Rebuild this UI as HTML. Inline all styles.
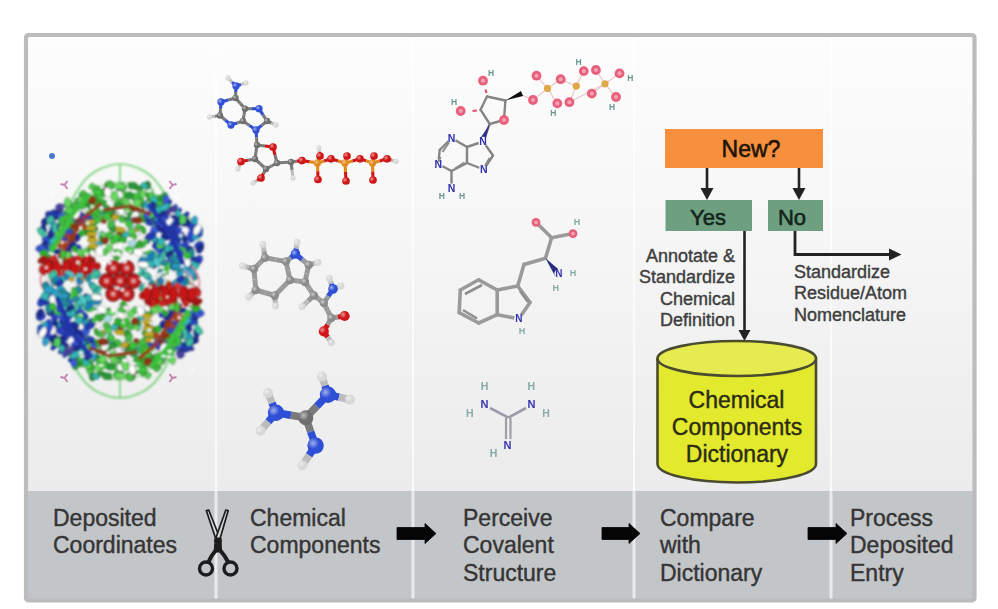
<!DOCTYPE html>
<html><head><meta charset="utf-8"><style>
html,body{margin:0;padding:0;background:#fff;overflow:hidden;width:998px;height:609px;}
svg{display:block;font-family:"Liberation Sans",sans-serif;}
</style></head><body>
<svg width="998" height="609" viewBox="0 0 998 609">
<defs>
<linearGradient id="bg" x1="0" y1="0" x2="0" y2="1">
<stop offset="0" stop-color="#fdfdfd"/><stop offset="0.35" stop-color="#f6f6f6"/><stop offset="1" stop-color="#e7e7e9"/>
</linearGradient>
<radialGradient id="ball" cx="0.35" cy="0.35" r="0.7">
<stop offset="0" stop-color="#fff" stop-opacity="0.55"/><stop offset="0.5" stop-color="#fff" stop-opacity="0"/>
</radialGradient>
<filter id="blur1" x="-20%" y="-20%" width="140%" height="140%"><feGaussianBlur stdDeviation="0.6"/></filter>
<filter id="blur2" x="-20%" y="-20%" width="140%" height="140%"><feGaussianBlur stdDeviation="0.9"/></filter>
</defs>
<rect x="0" y="0" width="998" height="609" fill="#ffffff"/>
<rect x="26" y="35" width="948" height="565" rx="3" fill="url(#bg)"/>
<rect x="26" y="491" width="948" height="110" fill="#c3c6c9"/>
<rect x="215" y="36" width="2" height="455" fill="#ffffff" opacity="0.7"/>
<rect x="214.5" y="491" width="3" height="110" fill="#e9eaeb"/>
<rect x="412" y="36" width="2" height="455" fill="#ffffff" opacity="0.7"/>
<rect x="411.5" y="491" width="3" height="110" fill="#e9eaeb"/>
<rect x="633" y="36" width="2" height="455" fill="#ffffff" opacity="0.7"/>
<rect x="632.5" y="491" width="3" height="110" fill="#e9eaeb"/>
<rect x="830" y="36" width="2" height="455" fill="#ffffff" opacity="0.7"/>
<rect x="829.5" y="491" width="3" height="110" fill="#e9eaeb"/>
<rect x="26" y="35" width="948.5" height="565.5" rx="2.5" fill="none" stroke="#bcbcbc" stroke-width="4.2"/>
<text x="53" y="526" font-size="23" fill="#353535" stroke="#353535" stroke-width="0.4" text-anchor="start" font-weight="normal" >Deposited</text>
<text x="53" y="553" font-size="23" fill="#353535" stroke="#353535" stroke-width="0.4" text-anchor="start" font-weight="normal" >Coordinates</text>
<text x="250" y="526" font-size="23" fill="#353535" stroke="#353535" stroke-width="0.4" text-anchor="start" font-weight="normal" >Chemical</text>
<text x="250" y="553" font-size="23" fill="#353535" stroke="#353535" stroke-width="0.4" text-anchor="start" font-weight="normal" >Components</text>
<text x="463" y="526" font-size="23" fill="#353535" stroke="#353535" stroke-width="0.4" text-anchor="start" font-weight="normal" >Perceive</text>
<text x="463" y="553" font-size="23" fill="#353535" stroke="#353535" stroke-width="0.4" text-anchor="start" font-weight="normal" >Covalent</text>
<text x="463" y="581" font-size="23" fill="#353535" stroke="#353535" stroke-width="0.4" text-anchor="start" font-weight="normal" >Structure</text>
<text x="660" y="526" font-size="23" fill="#353535" stroke="#353535" stroke-width="0.4" text-anchor="start" font-weight="normal" >Compare</text>
<text x="660" y="553" font-size="23" fill="#353535" stroke="#353535" stroke-width="0.4" text-anchor="start" font-weight="normal" >with</text>
<text x="660" y="581" font-size="23" fill="#353535" stroke="#353535" stroke-width="0.4" text-anchor="start" font-weight="normal" >Dictionary</text>
<text x="850" y="526" font-size="23" fill="#353535" stroke="#353535" stroke-width="0.4" text-anchor="start" font-weight="normal" >Process</text>
<text x="850" y="553" font-size="23" fill="#353535" stroke="#353535" stroke-width="0.4" text-anchor="start" font-weight="normal" >Deposited</text>
<text x="850" y="581" font-size="23" fill="#353535" stroke="#353535" stroke-width="0.4" text-anchor="start" font-weight="normal" >Entry</text>
<path d="M397,527.5 L425,527.5 L425,523.5 L436,533.5 L425,543.5 L425,539.5 L397,539.5 Z" fill="#050505" stroke="#050505" stroke-width="0.8" stroke-linejoin="round"/>
<path d="M602,527.5 L629,527.5 L629,523.5 L640,533.5 L629,543.5 L629,539.5 L602,539.5 Z" fill="#050505" stroke="#050505" stroke-width="0.8" stroke-linejoin="round"/>
<path d="M808,527.5 L836,527.5 L836,523.5 L847,533.5 L836,543.5 L836,539.5 L808,539.5 Z" fill="#050505" stroke="#050505" stroke-width="0.8" stroke-linejoin="round"/>
<g stroke="#1c1c1c" stroke-linejoin="round" stroke-linecap="round">
<path d="M206.3,510.5 L208.8,510.2 L221,541 L217.5,544 Z" fill="#d8dadc" stroke-width="1.7"/>
<path d="M228.2,510.5 L225.7,510.2 L214.8,541 L218.5,544 Z" fill="#d8dadc" stroke-width="1.7"/>
<path d="M215.5,538 L221,538 L221.5,552 L214.5,552 Z" fill="#1c1c1c" stroke-width="1"/>
<path d="M216,550 Q211,556 209,561 M220,550 Q225,556 227.5,561" fill="none" stroke-width="4"/>
<circle cx="206" cy="568.5" r="6.5" fill="none" stroke-width="3.4"/>
<circle cx="230.5" cy="568.5" r="6.5" fill="none" stroke-width="3.4"/>
</g>
<rect x="665" y="129" width="158" height="39" fill="#f6903e"/>
<text x="751" y="157" font-size="23" fill="#22140a" stroke="#22140a" stroke-width="0.6" text-anchor="middle" font-weight="normal" >New?</text>
<rect x="665.5" y="200" width="86.5" height="31" fill="#6e9f80"/>
<text x="708" y="225" font-size="22" fill="#14241a" stroke="#14241a" stroke-width="0.55" text-anchor="middle" font-weight="normal" >Yes</text>
<rect x="768" y="200" width="55" height="31" fill="#6e9f80"/>
<text x="792" y="225" font-size="22" fill="#14241a" stroke="#14241a" stroke-width="0.55" text-anchor="middle" font-weight="normal" >No</text>
<path d="M707,168 L707,190" stroke="#222222" stroke-width="2.6"/><path d="M700.5,188 L713.5,188 L707,200 Z" fill="#222222"/>
<path d="M799,168 L799,190" stroke="#222222" stroke-width="2.6"/><path d="M792.5,188 L805.5,188 L799,200 Z" fill="#222222"/>
<path d="M744.5,231 L744.5,332" stroke="#222222" stroke-width="2.6"/><path d="M738.5,330 L750.5,330 L744.5,341 Z" fill="#222222"/>
<path d="M795,231 L795,254.5 L891,254.5" fill="none" stroke="#222222" stroke-width="2.8"/><path d="M889,248.5 L901.5,254.5 L889,260.5 Z" fill="#222222"/>
<text x="735" y="262.0" font-size="18" fill="#3e3e3e" stroke="#3e3e3e" stroke-width="0.4" text-anchor="end" font-weight="normal" >Annotate &amp;</text>
<text x="735" y="283.4" font-size="18" fill="#3e3e3e" stroke="#3e3e3e" stroke-width="0.4" text-anchor="end" font-weight="normal" >Standardize</text>
<text x="735" y="304.8" font-size="18" fill="#3e3e3e" stroke="#3e3e3e" stroke-width="0.4" text-anchor="end" font-weight="normal" >Chemical</text>
<text x="735" y="326.2" font-size="18" fill="#3e3e3e" stroke="#3e3e3e" stroke-width="0.4" text-anchor="end" font-weight="normal" >Definition</text>
<text x="794" y="278.0" font-size="18" fill="#3e3e3e" stroke="#3e3e3e" stroke-width="0.4" text-anchor="start" font-weight="normal" >Standardize</text>
<text x="794" y="299.3" font-size="18" fill="#3e3e3e" stroke="#3e3e3e" stroke-width="0.4" text-anchor="start" font-weight="normal" >Residue/Atom</text>
<text x="794" y="320.6" font-size="18" fill="#3e3e3e" stroke="#3e3e3e" stroke-width="0.4" text-anchor="start" font-weight="normal" >Nomenclature</text>
<path d="M657.5,358 L657.5,464 A79.25,18.5 0 0 0 816,464 L816,358" fill="#e3e92c" stroke="#4b4b30" stroke-width="2.6"/>
<ellipse cx="736.75" cy="358.5" rx="79.25" ry="17.5" fill="#e6ec50" stroke="#4b4b30" stroke-width="2.6"/>
<text x="736.5" y="407.5" font-size="23" fill="#2c2c14" stroke="#2c2c14" stroke-width="0.4" text-anchor="middle" font-weight="normal" >Chemical</text>
<text x="737" y="435" font-size="23" fill="#2c2c14" stroke="#2c2c14" stroke-width="0.4" text-anchor="middle" font-weight="normal" >Components</text>
<text x="737" y="461.5" font-size="23" fill="#2c2c14" stroke="#2c2c14" stroke-width="0.4" text-anchor="middle" font-weight="normal" >Dictionary</text>
<g filter="url(#blur2)">
<path d="M66.0,214.0 Q80.0,178.0 98.0,170.0 Q110.0,164.0 120.0,164.0 Q130.0,164.0 142.0,170.0 Q160.0,178.0 174.0,214.0" fill="none" stroke="#8ed88e" stroke-width="2.2"/>
<path d="M84.0,212.0 Q84.0,185.0 120.0,182.0 Q156.0,185.0 156.0,212.0" fill="none" stroke="#a6dca6" stroke-width="1.6"/>
<path d="M120.0,164.0 L120.0,190.0" fill="none" stroke="#8ed88e" stroke-width="2"/>
<path d="M58.0,214.0 Q38.0,222.0 44.0,248.0" fill="none" stroke="#8ec88e" stroke-width="2"/>
<path d="M182.0,214.0 Q204.0,222.0 198.0,250.0" fill="none" stroke="#a0c8a0" stroke-width="2"/>
<path d="M50.0,266.0 Q32.0,276.0 48.0,296.0" fill="none" stroke="#d8808c" stroke-width="1.6"/>
<path d="M54.0,272.0 Q40.0,282.0 56.0,292.0" fill="none" stroke="#e0a0a8" stroke-width="1.3"/>
<ellipse cx="89.8" cy="210.5" rx="4.5" ry="2.7" transform="rotate(143 89.8 210.5)" fill="#44bb44" stroke="#101810" stroke-opacity="0.4" stroke-width="0.7"/>
<ellipse cx="147.7" cy="204.0" rx="4.7" ry="3.7" transform="rotate(3 147.7 204.0)" fill="#30b8b8" stroke="#101810" stroke-opacity="0.4" stroke-width="0.7"/>
<ellipse cx="159.0" cy="200.8" rx="5.4" ry="2.8" transform="rotate(42 159.0 200.8)" fill="#68d860" stroke="#101810" stroke-opacity="0.4" stroke-width="0.7"/>
<ellipse cx="78.8" cy="221.9" rx="4.9" ry="2.5" transform="rotate(59 78.8 221.9)" fill="#a04020" stroke="#101810" stroke-opacity="0.4" stroke-width="0.7"/>
<ellipse cx="119.8" cy="189.3" rx="3.3" ry="3.6" transform="rotate(16 119.8 189.3)" fill="#2a9a3a" stroke="#101810" stroke-opacity="0.4" stroke-width="0.7"/>
<ellipse cx="147.8" cy="185.7" rx="4.7" ry="2.9" transform="rotate(87 147.8 185.7)" fill="#2a9a3a" stroke="#101810" stroke-opacity="0.4" stroke-width="0.7"/>
<ellipse cx="91.8" cy="186.4" rx="3.4" ry="2.7" transform="rotate(121 91.8 186.4)" fill="#52d052" stroke="#101810" stroke-opacity="0.4" stroke-width="0.7"/>
<ellipse cx="147.3" cy="209.3" rx="3.5" ry="3.2" transform="rotate(149 147.3 209.3)" fill="#2eae2e" stroke="#101810" stroke-opacity="0.4" stroke-width="0.7"/>
<ellipse cx="93.1" cy="219.2" rx="4.0" ry="3.9" transform="rotate(90 93.1 219.2)" fill="#a04020" stroke="#101810" stroke-opacity="0.4" stroke-width="0.7"/>
<ellipse cx="103.6" cy="202.9" rx="3.3" ry="2.5" transform="rotate(129 103.6 202.9)" fill="#2eae2e" stroke="#101810" stroke-opacity="0.4" stroke-width="0.7"/>
<ellipse cx="164.4" cy="203.4" rx="3.4" ry="3.4" transform="rotate(94 164.4 203.4)" fill="#ffffff" stroke="#101810" stroke-opacity="0.4" stroke-width="0.7"/>
<ellipse cx="126.4" cy="196.8" rx="3.7" ry="2.7" transform="rotate(63 126.4 196.8)" fill="#44bb44" stroke="#101810" stroke-opacity="0.4" stroke-width="0.7"/>
<ellipse cx="158.4" cy="197.8" rx="3.9" ry="2.7" transform="rotate(166 158.4 197.8)" fill="#44bb44" stroke="#101810" stroke-opacity="0.4" stroke-width="0.7"/>
<ellipse cx="90.7" cy="200.9" rx="5.1" ry="3.5" transform="rotate(162 90.7 200.9)" fill="#2a9a3a" stroke="#101810" stroke-opacity="0.4" stroke-width="0.7"/>
<ellipse cx="161.2" cy="200.1" rx="5.9" ry="3.3" transform="rotate(159 161.2 200.1)" fill="#2a9a3a" stroke="#101810" stroke-opacity="0.4" stroke-width="0.7"/>
<ellipse cx="119.2" cy="198.9" rx="5.8" ry="2.8" transform="rotate(101 119.2 198.9)" fill="#52d052" stroke="#101810" stroke-opacity="0.4" stroke-width="0.7"/>
<ellipse cx="114.5" cy="200.1" rx="3.4" ry="2.9" transform="rotate(154 114.5 200.1)" fill="#ffffff" stroke="#101810" stroke-opacity="0.4" stroke-width="0.7"/>
<ellipse cx="134.3" cy="186.3" rx="3.7" ry="2.5" transform="rotate(61 134.3 186.3)" fill="#52d052" stroke="#101810" stroke-opacity="0.4" stroke-width="0.7"/>
<ellipse cx="155.9" cy="221.4" rx="3.3" ry="2.6" transform="rotate(117 155.9 221.4)" fill="#ffffff" stroke="#101810" stroke-opacity="0.4" stroke-width="0.7"/>
<ellipse cx="157.0" cy="202.7" rx="5.7" ry="3.0" transform="rotate(28 157.0 202.7)" fill="#3cc83c" stroke="#101810" stroke-opacity="0.4" stroke-width="0.7"/>
<ellipse cx="108.2" cy="213.6" rx="4.8" ry="3.8" transform="rotate(55 108.2 213.6)" fill="#ffffff" stroke="#101810" stroke-opacity="0.4" stroke-width="0.7"/>
<ellipse cx="123.1" cy="195.2" rx="4.3" ry="2.6" transform="rotate(129 123.1 195.2)" fill="#3cc83c" stroke="#101810" stroke-opacity="0.4" stroke-width="0.7"/>
<ellipse cx="98.8" cy="197.1" rx="5.6" ry="3.3" transform="rotate(46 98.8 197.1)" fill="#52d052" stroke="#101810" stroke-opacity="0.4" stroke-width="0.7"/>
<ellipse cx="111.5" cy="220.5" rx="3.6" ry="2.6" transform="rotate(17 111.5 220.5)" fill="#68d860" stroke="#101810" stroke-opacity="0.4" stroke-width="0.7"/>
<ellipse cx="77.3" cy="201.5" rx="3.4" ry="2.6" transform="rotate(51 77.3 201.5)" fill="#68d860" stroke="#101810" stroke-opacity="0.4" stroke-width="0.7"/>
<ellipse cx="102.4" cy="219.9" rx="4.6" ry="2.8" transform="rotate(30 102.4 219.9)" fill="#8a3418" stroke="#101810" stroke-opacity="0.4" stroke-width="0.7"/>
<ellipse cx="91.6" cy="199.0" rx="4.9" ry="3.2" transform="rotate(134 91.6 199.0)" fill="#52d052" stroke="#101810" stroke-opacity="0.4" stroke-width="0.7"/>
<ellipse cx="80.1" cy="219.4" rx="4.5" ry="2.5" transform="rotate(138 80.1 219.4)" fill="#8a3418" stroke="#101810" stroke-opacity="0.4" stroke-width="0.7"/>
<ellipse cx="90.8" cy="211.3" rx="5.9" ry="3.4" transform="rotate(134 90.8 211.3)" fill="#2eae2e" stroke="#101810" stroke-opacity="0.4" stroke-width="0.7"/>
<ellipse cx="97.0" cy="190.8" rx="5.5" ry="3.7" transform="rotate(88 97.0 190.8)" fill="#44bb44" stroke="#101810" stroke-opacity="0.4" stroke-width="0.7"/>
<ellipse cx="126.6" cy="205.2" rx="4.6" ry="3.6" transform="rotate(174 126.6 205.2)" fill="#52d052" stroke="#101810" stroke-opacity="0.4" stroke-width="0.7"/>
<ellipse cx="102.9" cy="210.9" rx="5.3" ry="2.7" transform="rotate(111 102.9 210.9)" fill="#30b8b8" stroke="#101810" stroke-opacity="0.4" stroke-width="0.7"/>
<ellipse cx="104.3" cy="192.4" rx="4.1" ry="4.0" transform="rotate(19 104.3 192.4)" fill="#2eae2e" stroke="#101810" stroke-opacity="0.4" stroke-width="0.7"/>
<ellipse cx="148.3" cy="213.1" rx="4.6" ry="3.9" transform="rotate(122 148.3 213.1)" fill="#ffffff" stroke="#101810" stroke-opacity="0.4" stroke-width="0.7"/>
<ellipse cx="138.5" cy="202.4" rx="4.3" ry="3.0" transform="rotate(41 138.5 202.4)" fill="#30b8b8" stroke="#101810" stroke-opacity="0.4" stroke-width="0.7"/>
<ellipse cx="79.4" cy="201.1" rx="4.0" ry="3.3" transform="rotate(73 79.4 201.1)" fill="#52d052" stroke="#101810" stroke-opacity="0.4" stroke-width="0.7"/>
<ellipse cx="113.4" cy="214.5" rx="4.3" ry="3.2" transform="rotate(114 113.4 214.5)" fill="#8a3418" stroke="#101810" stroke-opacity="0.4" stroke-width="0.7"/>
<ellipse cx="118.2" cy="203.2" rx="5.4" ry="3.4" transform="rotate(137 118.2 203.2)" fill="#3cc83c" stroke="#101810" stroke-opacity="0.4" stroke-width="0.7"/>
<ellipse cx="135.1" cy="216.8" rx="3.9" ry="3.9" transform="rotate(69 135.1 216.8)" fill="#2eae2e" stroke="#101810" stroke-opacity="0.4" stroke-width="0.7"/>
<ellipse cx="130.3" cy="215.5" rx="3.7" ry="2.7" transform="rotate(158 130.3 215.5)" fill="#3cc83c" stroke="#101810" stroke-opacity="0.4" stroke-width="0.7"/>
<ellipse cx="139.5" cy="188.4" rx="3.4" ry="2.9" transform="rotate(170 139.5 188.4)" fill="#2a9a3a" stroke="#101810" stroke-opacity="0.4" stroke-width="0.7"/>
<ellipse cx="141.8" cy="202.1" rx="6.0" ry="2.7" transform="rotate(78 141.8 202.1)" fill="#44bb44" stroke="#101810" stroke-opacity="0.4" stroke-width="0.7"/>
<ellipse cx="136.1" cy="198.8" rx="3.9" ry="3.9" transform="rotate(58 136.1 198.8)" fill="#3cc83c" stroke="#101810" stroke-opacity="0.4" stroke-width="0.7"/>
<ellipse cx="97.9" cy="216.3" rx="5.7" ry="3.2" transform="rotate(43 97.9 216.3)" fill="#68d860" stroke="#101810" stroke-opacity="0.4" stroke-width="0.7"/>
<ellipse cx="136.9" cy="211.5" rx="5.8" ry="3.1" transform="rotate(79 136.9 211.5)" fill="#2a9a3a" stroke="#101810" stroke-opacity="0.4" stroke-width="0.7"/>
<ellipse cx="130.5" cy="195.4" rx="5.1" ry="3.4" transform="rotate(18 130.5 195.4)" fill="#2a9a3a" stroke="#101810" stroke-opacity="0.4" stroke-width="0.7"/>
<ellipse cx="106.6" cy="208.3" rx="3.3" ry="3.2" transform="rotate(7 106.6 208.3)" fill="#2a9a3a" stroke="#101810" stroke-opacity="0.4" stroke-width="0.7"/>
<ellipse cx="129.7" cy="210.9" rx="6.0" ry="3.9" transform="rotate(27 129.7 210.9)" fill="#52d052" stroke="#101810" stroke-opacity="0.4" stroke-width="0.7"/>
<ellipse cx="108.4" cy="185.1" rx="3.6" ry="3.7" transform="rotate(148 108.4 185.1)" fill="#2a9a3a" stroke="#101810" stroke-opacity="0.4" stroke-width="0.7"/>
<ellipse cx="122.6" cy="186.8" rx="4.4" ry="3.8" transform="rotate(44 122.6 186.8)" fill="#3cc83c" stroke="#101810" stroke-opacity="0.4" stroke-width="0.7"/>
<ellipse cx="126.7" cy="215.5" rx="5.7" ry="2.4" transform="rotate(105 126.7 215.5)" fill="#ffffff" stroke="#101810" stroke-opacity="0.4" stroke-width="0.7"/>
<ellipse cx="82.2" cy="218.3" rx="3.6" ry="3.2" transform="rotate(95 82.2 218.3)" fill="#3cc83c" stroke="#101810" stroke-opacity="0.4" stroke-width="0.7"/>
<ellipse cx="123.2" cy="203.2" rx="3.6" ry="2.6" transform="rotate(52 123.2 203.2)" fill="#68d860" stroke="#101810" stroke-opacity="0.4" stroke-width="0.7"/>
<ellipse cx="132.6" cy="185.3" rx="5.1" ry="2.7" transform="rotate(18 132.6 185.3)" fill="#2eae2e" stroke="#101810" stroke-opacity="0.4" stroke-width="0.7"/>
<ellipse cx="149.5" cy="198.3" rx="3.4" ry="2.5" transform="rotate(89 149.5 198.3)" fill="#2a9a3a" stroke="#101810" stroke-opacity="0.4" stroke-width="0.7"/>
<ellipse cx="136.3" cy="209.2" rx="3.3" ry="2.8" transform="rotate(65 136.3 209.2)" fill="#2a9a3a" stroke="#101810" stroke-opacity="0.4" stroke-width="0.7"/>
<ellipse cx="97.5" cy="192.4" rx="5.2" ry="3.2" transform="rotate(14 97.5 192.4)" fill="#3cc83c" stroke="#101810" stroke-opacity="0.4" stroke-width="0.7"/>
<ellipse cx="149.5" cy="192.9" rx="5.2" ry="3.4" transform="rotate(114 149.5 192.9)" fill="#52d052" stroke="#101810" stroke-opacity="0.4" stroke-width="0.7"/>
<ellipse cx="132.8" cy="185.8" rx="4.6" ry="2.7" transform="rotate(153 132.8 185.8)" fill="#2a9a3a" stroke="#101810" stroke-opacity="0.4" stroke-width="0.7"/>
<ellipse cx="147.6" cy="218.5" rx="3.8" ry="3.6" transform="rotate(162 147.6 218.5)" fill="#52d052" stroke="#101810" stroke-opacity="0.4" stroke-width="0.7"/>
<ellipse cx="123.0" cy="218.6" rx="4.3" ry="3.9" transform="rotate(169 123.0 218.6)" fill="#44bb44" stroke="#101810" stroke-opacity="0.4" stroke-width="0.7"/>
<ellipse cx="146.4" cy="185.4" rx="3.7" ry="2.8" transform="rotate(5 146.4 185.4)" fill="#2a9a3a" stroke="#101810" stroke-opacity="0.4" stroke-width="0.7"/>
<ellipse cx="108.9" cy="212.7" rx="5.8" ry="3.3" transform="rotate(159 108.9 212.7)" fill="#2a9a3a" stroke="#101810" stroke-opacity="0.4" stroke-width="0.7"/>
<ellipse cx="93.6" cy="221.9" rx="5.4" ry="3.6" transform="rotate(159 93.6 221.9)" fill="#44bb44" stroke="#101810" stroke-opacity="0.4" stroke-width="0.7"/>
<ellipse cx="107.6" cy="188.1" rx="4.9" ry="3.0" transform="rotate(121 107.6 188.1)" fill="#8a3418" stroke="#101810" stroke-opacity="0.4" stroke-width="0.7"/>
<ellipse cx="153.0" cy="206.2" rx="5.8" ry="3.9" transform="rotate(136 153.0 206.2)" fill="#3cc83c" stroke="#101810" stroke-opacity="0.4" stroke-width="0.7"/>
<ellipse cx="163.6" cy="212.4" rx="3.8" ry="3.3" transform="rotate(67 163.6 212.4)" fill="#44bb44" stroke="#101810" stroke-opacity="0.4" stroke-width="0.7"/>
<ellipse cx="164.2" cy="196.0" rx="3.9" ry="3.1" transform="rotate(115 164.2 196.0)" fill="#2a9a3a" stroke="#101810" stroke-opacity="0.4" stroke-width="0.7"/>
<ellipse cx="144.4" cy="212.8" rx="3.9" ry="3.1" transform="rotate(68 144.4 212.8)" fill="#3cc83c" stroke="#101810" stroke-opacity="0.4" stroke-width="0.7"/>
<ellipse cx="119.1" cy="194.8" rx="3.8" ry="3.7" transform="rotate(60 119.1 194.8)" fill="#ffffff" stroke="#101810" stroke-opacity="0.4" stroke-width="0.7"/>
<ellipse cx="114.6" cy="196.2" rx="5.2" ry="4.0" transform="rotate(68 114.6 196.2)" fill="#68d860" stroke="#101810" stroke-opacity="0.4" stroke-width="0.7"/>
<ellipse cx="110.4" cy="185.1" rx="4.8" ry="4.0" transform="rotate(35 110.4 185.1)" fill="#44bb44" stroke="#101810" stroke-opacity="0.4" stroke-width="0.7"/>
<ellipse cx="95.5" cy="212.2" rx="5.1" ry="2.4" transform="rotate(165 95.5 212.2)" fill="#ffffff" stroke="#101810" stroke-opacity="0.4" stroke-width="0.7"/>
<ellipse cx="86.9" cy="197.3" rx="4.3" ry="3.4" transform="rotate(108 86.9 197.3)" fill="#2a9a3a" stroke="#101810" stroke-opacity="0.4" stroke-width="0.7"/>
<ellipse cx="137.4" cy="217.0" rx="4.2" ry="2.8" transform="rotate(141 137.4 217.0)" fill="#44bb44" stroke="#101810" stroke-opacity="0.4" stroke-width="0.7"/>
<ellipse cx="146.4" cy="219.3" rx="4.9" ry="2.9" transform="rotate(153 146.4 219.3)" fill="#3cc83c" stroke="#101810" stroke-opacity="0.4" stroke-width="0.7"/>
<ellipse cx="142.1" cy="194.2" rx="3.6" ry="3.7" transform="rotate(48 142.1 194.2)" fill="#68d860" stroke="#101810" stroke-opacity="0.4" stroke-width="0.7"/>
<ellipse cx="136.4" cy="195.9" rx="4.6" ry="2.6" transform="rotate(139 136.4 195.9)" fill="#3cc83c" stroke="#101810" stroke-opacity="0.4" stroke-width="0.7"/>
<ellipse cx="119.6" cy="186.2" rx="5.8" ry="3.2" transform="rotate(2 119.6 186.2)" fill="#68d860" stroke="#101810" stroke-opacity="0.4" stroke-width="0.7"/>
<ellipse cx="150.8" cy="195.5" rx="5.1" ry="3.1" transform="rotate(22 150.8 195.5)" fill="#2eae2e" stroke="#101810" stroke-opacity="0.4" stroke-width="0.7"/>
<ellipse cx="154.3" cy="209.2" rx="6.0" ry="2.8" transform="rotate(127 154.3 209.2)" fill="#3cc83c" stroke="#101810" stroke-opacity="0.4" stroke-width="0.7"/>
<ellipse cx="118.9" cy="204.9" rx="4.4" ry="2.4" transform="rotate(171 118.9 204.9)" fill="#2a9a3a" stroke="#101810" stroke-opacity="0.4" stroke-width="0.7"/>
<ellipse cx="87.8" cy="199.9" rx="5.0" ry="3.1" transform="rotate(92 87.8 199.9)" fill="#ffffff" stroke="#101810" stroke-opacity="0.4" stroke-width="0.7"/>
<ellipse cx="95.1" cy="214.2" rx="5.6" ry="3.8" transform="rotate(152 95.1 214.2)" fill="#3cc83c" stroke="#101810" stroke-opacity="0.4" stroke-width="0.7"/>
<ellipse cx="144.7" cy="218.4" rx="4.2" ry="2.6" transform="rotate(2 144.7 218.4)" fill="#2eae2e" stroke="#101810" stroke-opacity="0.4" stroke-width="0.7"/>
<ellipse cx="99.4" cy="210.6" rx="3.8" ry="2.5" transform="rotate(34 99.4 210.6)" fill="#44bb44" stroke="#101810" stroke-opacity="0.4" stroke-width="0.7"/>
<ellipse cx="88.7" cy="208.1" rx="3.8" ry="2.6" transform="rotate(96 88.7 208.1)" fill="#68d860" stroke="#101810" stroke-opacity="0.4" stroke-width="0.7"/>
<ellipse cx="85.4" cy="200.0" rx="3.8" ry="3.5" transform="rotate(97 85.4 200.0)" fill="#44bb44" stroke="#101810" stroke-opacity="0.4" stroke-width="0.7"/>
<ellipse cx="82.6" cy="194.0" rx="3.9" ry="3.1" transform="rotate(142 82.6 194.0)" fill="#44bb44" stroke="#101810" stroke-opacity="0.4" stroke-width="0.7"/>
<ellipse cx="158.6" cy="210.8" rx="4.3" ry="3.9" transform="rotate(145 158.6 210.8)" fill="#3cc83c" stroke="#101810" stroke-opacity="0.4" stroke-width="0.7"/>
<ellipse cx="136.8" cy="217.7" rx="3.3" ry="3.2" transform="rotate(160 136.8 217.7)" fill="#a04020" stroke="#101810" stroke-opacity="0.4" stroke-width="0.7"/>
<ellipse cx="144.4" cy="206.4" rx="3.3" ry="3.4" transform="rotate(140 144.4 206.4)" fill="#2a9a3a" stroke="#101810" stroke-opacity="0.4" stroke-width="0.7"/>
<ellipse cx="98.1" cy="202.5" rx="4.7" ry="2.7" transform="rotate(61 98.1 202.5)" fill="#2eae2e" stroke="#101810" stroke-opacity="0.4" stroke-width="0.7"/>
<ellipse cx="134.8" cy="209.3" rx="5.8" ry="2.9" transform="rotate(21 134.8 209.3)" fill="#8a3418" stroke="#101810" stroke-opacity="0.4" stroke-width="0.7"/>
<ellipse cx="127.6" cy="203.0" rx="5.3" ry="2.6" transform="rotate(56 127.6 203.0)" fill="#68d860" stroke="#101810" stroke-opacity="0.4" stroke-width="0.7"/>
<ellipse cx="85.1" cy="209.5" rx="5.7" ry="2.5" transform="rotate(134 85.1 209.5)" fill="#ffffff" stroke="#101810" stroke-opacity="0.4" stroke-width="0.7"/>
<ellipse cx="149.5" cy="204.0" rx="5.0" ry="3.2" transform="rotate(100 149.5 204.0)" fill="#44bb44" stroke="#101810" stroke-opacity="0.4" stroke-width="0.7"/>
<ellipse cx="107.7" cy="192.3" rx="5.0" ry="3.4" transform="rotate(78 107.7 192.3)" fill="#ffffff" stroke="#101810" stroke-opacity="0.4" stroke-width="0.7"/>
<ellipse cx="144.3" cy="185.7" rx="3.8" ry="2.5" transform="rotate(39 144.3 185.7)" fill="#30b8b8" stroke="#101810" stroke-opacity="0.4" stroke-width="0.7"/>
<ellipse cx="153.2" cy="197.5" rx="5.6" ry="3.9" transform="rotate(45 153.2 197.5)" fill="#52d052" stroke="#101810" stroke-opacity="0.4" stroke-width="0.7"/>
<ellipse cx="106.9" cy="216.3" rx="4.0" ry="3.4" transform="rotate(150 106.9 216.3)" fill="#3cc83c" stroke="#101810" stroke-opacity="0.4" stroke-width="0.7"/>
<ellipse cx="137.2" cy="202.8" rx="4.2" ry="3.8" transform="rotate(117 137.2 202.8)" fill="#68d860" stroke="#101810" stroke-opacity="0.4" stroke-width="0.7"/>
<ellipse cx="52.1" cy="247.8" rx="5.7" ry="2.8" transform="rotate(179 52.1 247.8)" fill="#1c2c90" stroke="#101810" stroke-opacity="0.4" stroke-width="0.7"/>
<ellipse cx="53.8" cy="226.6" rx="5.2" ry="2.4" transform="rotate(104 53.8 226.6)" fill="#4a40a0" stroke="#101810" stroke-opacity="0.4" stroke-width="0.7"/>
<ellipse cx="78.5" cy="217.1" rx="5.4" ry="3.8" transform="rotate(161 78.5 217.1)" fill="#2c4cd0" stroke="#101810" stroke-opacity="0.4" stroke-width="0.7"/>
<ellipse cx="74.6" cy="260.8" rx="5.0" ry="3.5" transform="rotate(38 74.6 260.8)" fill="#30b8b8" stroke="#101810" stroke-opacity="0.4" stroke-width="0.7"/>
<ellipse cx="47.0" cy="256.4" rx="5.1" ry="2.9" transform="rotate(23 47.0 256.4)" fill="#3cc83c" stroke="#101810" stroke-opacity="0.4" stroke-width="0.7"/>
<ellipse cx="56.2" cy="212.8" rx="5.3" ry="2.7" transform="rotate(20 56.2 212.8)" fill="#2438b0" stroke="#101810" stroke-opacity="0.4" stroke-width="0.7"/>
<ellipse cx="59.9" cy="209.2" rx="3.5" ry="3.2" transform="rotate(53 59.9 209.2)" fill="#2a40c0" stroke="#101810" stroke-opacity="0.4" stroke-width="0.7"/>
<ellipse cx="58.7" cy="245.6" rx="5.3" ry="3.9" transform="rotate(100 58.7 245.6)" fill="#52d052" stroke="#101810" stroke-opacity="0.4" stroke-width="0.7"/>
<ellipse cx="57.2" cy="250.1" rx="4.5" ry="3.9" transform="rotate(159 57.2 250.1)" fill="#1c2c90" stroke="#101810" stroke-opacity="0.4" stroke-width="0.7"/>
<ellipse cx="51.1" cy="224.9" rx="4.2" ry="3.9" transform="rotate(63 51.1 224.9)" fill="#2aa0c8" stroke="#101810" stroke-opacity="0.4" stroke-width="0.7"/>
<ellipse cx="66.6" cy="251.7" rx="5.4" ry="2.7" transform="rotate(174 66.6 251.7)" fill="#1c2c90" stroke="#101810" stroke-opacity="0.4" stroke-width="0.7"/>
<ellipse cx="41.8" cy="250.0" rx="4.6" ry="2.5" transform="rotate(5 41.8 250.0)" fill="#2438b0" stroke="#101810" stroke-opacity="0.4" stroke-width="0.7"/>
<ellipse cx="53.6" cy="243.9" rx="5.6" ry="3.8" transform="rotate(112 53.6 243.9)" fill="#2c4cd0" stroke="#101810" stroke-opacity="0.4" stroke-width="0.7"/>
<ellipse cx="47.1" cy="248.4" rx="3.7" ry="3.6" transform="rotate(74 47.1 248.4)" fill="#3a5ad8" stroke="#101810" stroke-opacity="0.4" stroke-width="0.7"/>
<ellipse cx="53.7" cy="246.4" rx="5.4" ry="3.8" transform="rotate(134 53.7 246.4)" fill="#3cc83c" stroke="#101810" stroke-opacity="0.4" stroke-width="0.7"/>
<ellipse cx="70.6" cy="218.9" rx="3.8" ry="3.7" transform="rotate(139 70.6 218.9)" fill="#2a40c0" stroke="#101810" stroke-opacity="0.4" stroke-width="0.7"/>
<ellipse cx="48.0" cy="259.5" rx="4.5" ry="3.5" transform="rotate(141 48.0 259.5)" fill="#2eae2e" stroke="#101810" stroke-opacity="0.4" stroke-width="0.7"/>
<ellipse cx="47.8" cy="240.1" rx="5.7" ry="3.9" transform="rotate(15 47.8 240.1)" fill="#2c4cd0" stroke="#101810" stroke-opacity="0.4" stroke-width="0.7"/>
<ellipse cx="70.0" cy="232.7" rx="5.5" ry="3.9" transform="rotate(111 70.0 232.7)" fill="#4a40a0" stroke="#101810" stroke-opacity="0.4" stroke-width="0.7"/>
<ellipse cx="40.4" cy="248.7" rx="4.7" ry="3.6" transform="rotate(0 40.4 248.7)" fill="#3a5ad8" stroke="#101810" stroke-opacity="0.4" stroke-width="0.7"/>
<ellipse cx="77.3" cy="254.7" rx="3.5" ry="3.1" transform="rotate(177 77.3 254.7)" fill="#2eae2e" stroke="#101810" stroke-opacity="0.4" stroke-width="0.7"/>
<ellipse cx="76.3" cy="249.9" rx="5.3" ry="2.7" transform="rotate(54 76.3 249.9)" fill="#30b8b8" stroke="#101810" stroke-opacity="0.4" stroke-width="0.7"/>
<ellipse cx="72.1" cy="217.8" rx="5.8" ry="2.6" transform="rotate(165 72.1 217.8)" fill="#1c2c90" stroke="#101810" stroke-opacity="0.4" stroke-width="0.7"/>
<ellipse cx="67.5" cy="236.8" rx="4.3" ry="3.6" transform="rotate(66 67.5 236.8)" fill="#4a40a0" stroke="#101810" stroke-opacity="0.4" stroke-width="0.7"/>
<ellipse cx="61.4" cy="257.0" rx="5.7" ry="3.1" transform="rotate(85 61.4 257.0)" fill="#2438b0" stroke="#101810" stroke-opacity="0.4" stroke-width="0.7"/>
<ellipse cx="61.7" cy="218.8" rx="4.5" ry="3.6" transform="rotate(123 61.7 218.8)" fill="#40c0a0" stroke="#101810" stroke-opacity="0.4" stroke-width="0.7"/>
<ellipse cx="53.2" cy="240.1" rx="4.7" ry="3.6" transform="rotate(114 53.2 240.1)" fill="#30b8b8" stroke="#101810" stroke-opacity="0.4" stroke-width="0.7"/>
<ellipse cx="79.0" cy="220.1" rx="5.9" ry="3.2" transform="rotate(163 79.0 220.1)" fill="#4a40a0" stroke="#101810" stroke-opacity="0.4" stroke-width="0.7"/>
<ellipse cx="44.0" cy="246.2" rx="5.5" ry="3.2" transform="rotate(107 44.0 246.2)" fill="#1c2c90" stroke="#101810" stroke-opacity="0.4" stroke-width="0.7"/>
<ellipse cx="51.4" cy="233.6" rx="5.6" ry="3.4" transform="rotate(113 51.4 233.6)" fill="#1c2c90" stroke="#101810" stroke-opacity="0.4" stroke-width="0.7"/>
<ellipse cx="44.9" cy="221.7" rx="3.8" ry="3.3" transform="rotate(125 44.9 221.7)" fill="#1c2c90" stroke="#101810" stroke-opacity="0.4" stroke-width="0.7"/>
<ellipse cx="61.4" cy="236.6" rx="5.0" ry="3.5" transform="rotate(179 61.4 236.6)" fill="#2c4cd0" stroke="#101810" stroke-opacity="0.4" stroke-width="0.7"/>
<ellipse cx="75.6" cy="227.6" rx="4.4" ry="2.4" transform="rotate(53 75.6 227.6)" fill="#4a40a0" stroke="#101810" stroke-opacity="0.4" stroke-width="0.7"/>
<ellipse cx="55.8" cy="216.2" rx="5.8" ry="3.4" transform="rotate(154 55.8 216.2)" fill="#1c2c90" stroke="#101810" stroke-opacity="0.4" stroke-width="0.7"/>
<ellipse cx="60.6" cy="238.4" rx="3.4" ry="3.0" transform="rotate(67 60.6 238.4)" fill="#2c4cd0" stroke="#101810" stroke-opacity="0.4" stroke-width="0.7"/>
<ellipse cx="54.3" cy="229.4" rx="3.9" ry="2.7" transform="rotate(161 54.3 229.4)" fill="#2c4cd0" stroke="#101810" stroke-opacity="0.4" stroke-width="0.7"/>
<ellipse cx="76.3" cy="210.9" rx="3.7" ry="3.3" transform="rotate(57 76.3 210.9)" fill="#2c4cd0" stroke="#101810" stroke-opacity="0.4" stroke-width="0.7"/>
<ellipse cx="62.1" cy="257.4" rx="3.3" ry="2.5" transform="rotate(121 62.1 257.4)" fill="#1c2c90" stroke="#101810" stroke-opacity="0.4" stroke-width="0.7"/>
<ellipse cx="74.7" cy="237.4" rx="3.7" ry="3.0" transform="rotate(148 74.7 237.4)" fill="#4a40a0" stroke="#101810" stroke-opacity="0.4" stroke-width="0.7"/>
<ellipse cx="59.5" cy="207.4" rx="3.6" ry="3.9" transform="rotate(68 59.5 207.4)" fill="#4a40a0" stroke="#101810" stroke-opacity="0.4" stroke-width="0.7"/>
<ellipse cx="66.3" cy="214.4" rx="4.2" ry="3.5" transform="rotate(37 66.3 214.4)" fill="#3cc83c" stroke="#101810" stroke-opacity="0.4" stroke-width="0.7"/>
<ellipse cx="61.6" cy="215.2" rx="5.9" ry="2.5" transform="rotate(174 61.6 215.2)" fill="#3a5ad8" stroke="#101810" stroke-opacity="0.4" stroke-width="0.7"/>
<ellipse cx="73.6" cy="224.2" rx="5.4" ry="3.2" transform="rotate(15 73.6 224.2)" fill="#3cc83c" stroke="#101810" stroke-opacity="0.4" stroke-width="0.7"/>
<ellipse cx="70.5" cy="227.9" rx="4.8" ry="2.6" transform="rotate(93 70.5 227.9)" fill="#2aa0c8" stroke="#101810" stroke-opacity="0.4" stroke-width="0.7"/>
<ellipse cx="43.7" cy="253.0" rx="4.3" ry="3.4" transform="rotate(147 43.7 253.0)" fill="#2eae2e" stroke="#101810" stroke-opacity="0.4" stroke-width="0.7"/>
<ellipse cx="72.0" cy="255.4" rx="4.4" ry="3.4" transform="rotate(10 72.0 255.4)" fill="#2c4cd0" stroke="#101810" stroke-opacity="0.4" stroke-width="0.7"/>
<ellipse cx="73.3" cy="245.4" rx="3.9" ry="2.8" transform="rotate(103 73.3 245.4)" fill="#1c2c90" stroke="#101810" stroke-opacity="0.4" stroke-width="0.7"/>
<ellipse cx="63.5" cy="218.3" rx="4.3" ry="2.9" transform="rotate(170 63.5 218.3)" fill="#52d052" stroke="#101810" stroke-opacity="0.4" stroke-width="0.7"/>
<ellipse cx="78.0" cy="215.8" rx="5.6" ry="2.9" transform="rotate(148 78.0 215.8)" fill="#4a40a0" stroke="#101810" stroke-opacity="0.4" stroke-width="0.7"/>
<ellipse cx="68.7" cy="206.5" rx="5.9" ry="2.5" transform="rotate(21 68.7 206.5)" fill="#1c2c90" stroke="#101810" stroke-opacity="0.4" stroke-width="0.7"/>
<ellipse cx="60.9" cy="242.3" rx="5.4" ry="4.0" transform="rotate(59 60.9 242.3)" fill="#2a40c0" stroke="#101810" stroke-opacity="0.4" stroke-width="0.7"/>
<ellipse cx="49.6" cy="219.8" rx="3.7" ry="3.6" transform="rotate(14 49.6 219.8)" fill="#2a40c0" stroke="#101810" stroke-opacity="0.4" stroke-width="0.7"/>
<ellipse cx="55.6" cy="228.1" rx="5.9" ry="3.2" transform="rotate(88 55.6 228.1)" fill="#40c0a0" stroke="#101810" stroke-opacity="0.4" stroke-width="0.7"/>
<ellipse cx="77.9" cy="247.9" rx="3.4" ry="3.4" transform="rotate(170 77.9 247.9)" fill="#2a40c0" stroke="#101810" stroke-opacity="0.4" stroke-width="0.7"/>
<ellipse cx="70.1" cy="258.4" rx="4.4" ry="2.8" transform="rotate(50 70.1 258.4)" fill="#2438b0" stroke="#101810" stroke-opacity="0.4" stroke-width="0.7"/>
<ellipse cx="48.7" cy="214.6" rx="3.3" ry="3.4" transform="rotate(108 48.7 214.6)" fill="#2438b0" stroke="#101810" stroke-opacity="0.4" stroke-width="0.7"/>
<ellipse cx="70.9" cy="237.3" rx="4.0" ry="2.5" transform="rotate(105 70.9 237.3)" fill="#3cc83c" stroke="#101810" stroke-opacity="0.4" stroke-width="0.7"/>
<ellipse cx="51.3" cy="261.3" rx="5.1" ry="3.7" transform="rotate(44 51.3 261.3)" fill="#2c4cd0" stroke="#101810" stroke-opacity="0.4" stroke-width="0.7"/>
<ellipse cx="60.4" cy="226.8" rx="3.4" ry="4.0" transform="rotate(134 60.4 226.8)" fill="#4a40a0" stroke="#101810" stroke-opacity="0.4" stroke-width="0.7"/>
<ellipse cx="77.6" cy="206.9" rx="4.7" ry="3.3" transform="rotate(57 77.6 206.9)" fill="#30b8b8" stroke="#101810" stroke-opacity="0.4" stroke-width="0.7"/>
<ellipse cx="69.6" cy="245.5" rx="4.8" ry="2.8" transform="rotate(113 69.6 245.5)" fill="#1c2c90" stroke="#101810" stroke-opacity="0.4" stroke-width="0.7"/>
<ellipse cx="42.1" cy="247.4" rx="3.7" ry="2.5" transform="rotate(173 42.1 247.4)" fill="#3a5ad8" stroke="#101810" stroke-opacity="0.4" stroke-width="0.7"/>
<ellipse cx="77.6" cy="237.4" rx="4.6" ry="2.7" transform="rotate(111 77.6 237.4)" fill="#1c2c90" stroke="#101810" stroke-opacity="0.4" stroke-width="0.7"/>
<ellipse cx="43.5" cy="229.7" rx="5.4" ry="3.0" transform="rotate(85 43.5 229.7)" fill="#1c2c90" stroke="#101810" stroke-opacity="0.4" stroke-width="0.7"/>
<ellipse cx="72.9" cy="219.3" rx="5.9" ry="3.6" transform="rotate(61 72.9 219.3)" fill="#30b8b8" stroke="#101810" stroke-opacity="0.4" stroke-width="0.7"/>
<ellipse cx="62.4" cy="224.2" rx="3.6" ry="3.2" transform="rotate(117 62.4 224.2)" fill="#2438b0" stroke="#101810" stroke-opacity="0.4" stroke-width="0.7"/>
<ellipse cx="66.9" cy="259.0" rx="3.2" ry="2.4" transform="rotate(176 66.9 259.0)" fill="#4a40a0" stroke="#101810" stroke-opacity="0.4" stroke-width="0.7"/>
<ellipse cx="79.5" cy="209.1" rx="3.9" ry="2.5" transform="rotate(116 79.5 209.1)" fill="#4a40a0" stroke="#101810" stroke-opacity="0.4" stroke-width="0.7"/>
<ellipse cx="67.6" cy="217.7" rx="3.8" ry="3.0" transform="rotate(87 67.6 217.7)" fill="#2438b0" stroke="#101810" stroke-opacity="0.4" stroke-width="0.7"/>
<ellipse cx="67.2" cy="221.1" rx="4.0" ry="3.0" transform="rotate(37 67.2 221.1)" fill="#1c2c90" stroke="#101810" stroke-opacity="0.4" stroke-width="0.7"/>
<ellipse cx="74.4" cy="215.5" rx="5.6" ry="2.5" transform="rotate(141 74.4 215.5)" fill="#2a40c0" stroke="#101810" stroke-opacity="0.4" stroke-width="0.7"/>
<ellipse cx="50.3" cy="219.7" rx="4.8" ry="3.1" transform="rotate(116 50.3 219.7)" fill="#40c0a0" stroke="#101810" stroke-opacity="0.4" stroke-width="0.7"/>
<ellipse cx="53.2" cy="213.8" rx="5.3" ry="2.5" transform="rotate(7 53.2 213.8)" fill="#2438b0" stroke="#101810" stroke-opacity="0.4" stroke-width="0.7"/>
<ellipse cx="59.3" cy="233.1" rx="4.5" ry="3.2" transform="rotate(150 59.3 233.1)" fill="#52d052" stroke="#101810" stroke-opacity="0.4" stroke-width="0.7"/>
<ellipse cx="61.8" cy="229.8" rx="3.6" ry="3.8" transform="rotate(93 61.8 229.8)" fill="#2c4cd0" stroke="#101810" stroke-opacity="0.4" stroke-width="0.7"/>
<ellipse cx="41.8" cy="232.4" rx="5.9" ry="3.1" transform="rotate(48 41.8 232.4)" fill="#40c0a0" stroke="#101810" stroke-opacity="0.4" stroke-width="0.7"/>
<ellipse cx="92.8" cy="217.6" rx="3.9" ry="2.9" transform="rotate(148 92.8 217.6)" fill="#3cc83c" stroke="#101810" stroke-opacity="0.4" stroke-width="0.7"/>
<ellipse cx="66.5" cy="220.4" rx="5.2" ry="3.0" transform="rotate(32 66.5 220.4)" fill="#b0441c" stroke="#101810" stroke-opacity="0.4" stroke-width="0.7"/>
<ellipse cx="84.9" cy="227.1" rx="3.8" ry="3.4" transform="rotate(34 84.9 227.1)" fill="#b0441c" stroke="#101810" stroke-opacity="0.4" stroke-width="0.7"/>
<ellipse cx="81.1" cy="215.1" rx="4.6" ry="3.4" transform="rotate(68 81.1 215.1)" fill="#3a4ab8" stroke="#101810" stroke-opacity="0.4" stroke-width="0.7"/>
<ellipse cx="62.7" cy="254.8" rx="5.3" ry="3.8" transform="rotate(99 62.7 254.8)" fill="#b0441c" stroke="#101810" stroke-opacity="0.4" stroke-width="0.7"/>
<ellipse cx="94.8" cy="229.3" rx="3.4" ry="3.0" transform="rotate(103 94.8 229.3)" fill="#2a9a3a" stroke="#101810" stroke-opacity="0.4" stroke-width="0.7"/>
<ellipse cx="88.6" cy="232.3" rx="4.2" ry="3.5" transform="rotate(143 88.6 232.3)" fill="#2a9a3a" stroke="#101810" stroke-opacity="0.4" stroke-width="0.7"/>
<ellipse cx="81.0" cy="201.3" rx="5.3" ry="3.0" transform="rotate(80 81.0 201.3)" fill="#ffffff" stroke="#101810" stroke-opacity="0.4" stroke-width="0.7"/>
<ellipse cx="87.8" cy="251.7" rx="5.2" ry="2.5" transform="rotate(37 87.8 251.7)" fill="#ffffff" stroke="#101810" stroke-opacity="0.4" stroke-width="0.7"/>
<ellipse cx="84.3" cy="257.3" rx="5.9" ry="3.5" transform="rotate(29 84.3 257.3)" fill="#52d052" stroke="#101810" stroke-opacity="0.4" stroke-width="0.7"/>
<ellipse cx="67.1" cy="227.5" rx="3.4" ry="3.8" transform="rotate(88 67.1 227.5)" fill="#3a4ab8" stroke="#101810" stroke-opacity="0.4" stroke-width="0.7"/>
<ellipse cx="81.4" cy="208.3" rx="4.4" ry="3.3" transform="rotate(25 81.4 208.3)" fill="#ffffff" stroke="#101810" stroke-opacity="0.4" stroke-width="0.7"/>
<ellipse cx="82.8" cy="200.1" rx="4.8" ry="3.4" transform="rotate(62 82.8 200.1)" fill="#3cc83c" stroke="#101810" stroke-opacity="0.4" stroke-width="0.7"/>
<ellipse cx="87.3" cy="219.2" rx="5.8" ry="3.6" transform="rotate(155 87.3 219.2)" fill="#3a4ab8" stroke="#101810" stroke-opacity="0.4" stroke-width="0.7"/>
<ellipse cx="78.0" cy="218.4" rx="4.2" ry="3.0" transform="rotate(129 78.0 218.4)" fill="#8a3418" stroke="#101810" stroke-opacity="0.4" stroke-width="0.7"/>
<ellipse cx="69.1" cy="234.7" rx="4.4" ry="3.9" transform="rotate(7 69.1 234.7)" fill="#b0441c" stroke="#101810" stroke-opacity="0.4" stroke-width="0.7"/>
<ellipse cx="67.8" cy="203.2" rx="5.7" ry="3.4" transform="rotate(83 67.8 203.2)" fill="#68d860" stroke="#101810" stroke-opacity="0.4" stroke-width="0.7"/>
<ellipse cx="62.7" cy="240.1" rx="4.2" ry="3.5" transform="rotate(96 62.7 240.1)" fill="#6040b0" stroke="#101810" stroke-opacity="0.4" stroke-width="0.7"/>
<ellipse cx="63.2" cy="253.3" rx="3.8" ry="2.8" transform="rotate(76 63.2 253.3)" fill="#68d860" stroke="#101810" stroke-opacity="0.4" stroke-width="0.7"/>
<ellipse cx="63.4" cy="255.2" rx="5.6" ry="2.6" transform="rotate(99 63.4 255.2)" fill="#3cc83c" stroke="#101810" stroke-opacity="0.4" stroke-width="0.7"/>
<ellipse cx="75.1" cy="253.7" rx="3.6" ry="2.9" transform="rotate(22 75.1 253.7)" fill="#ffffff" stroke="#101810" stroke-opacity="0.4" stroke-width="0.7"/>
<ellipse cx="73.7" cy="208.9" rx="3.8" ry="3.6" transform="rotate(23 73.7 208.9)" fill="#3cc83c" stroke="#101810" stroke-opacity="0.4" stroke-width="0.7"/>
<ellipse cx="92.0" cy="237.2" rx="4.6" ry="2.8" transform="rotate(102 92.0 237.2)" fill="#b0441c" stroke="#101810" stroke-opacity="0.4" stroke-width="0.7"/>
<ellipse cx="87.9" cy="204.6" rx="4.0" ry="3.0" transform="rotate(50 87.9 204.6)" fill="#52d052" stroke="#101810" stroke-opacity="0.4" stroke-width="0.7"/>
<ellipse cx="89.9" cy="204.4" rx="3.8" ry="3.2" transform="rotate(168 89.9 204.4)" fill="#2a9a3a" stroke="#101810" stroke-opacity="0.4" stroke-width="0.7"/>
<ellipse cx="66.3" cy="217.6" rx="3.7" ry="3.8" transform="rotate(27 66.3 217.6)" fill="#68d860" stroke="#101810" stroke-opacity="0.4" stroke-width="0.7"/>
<ellipse cx="81.3" cy="201.4" rx="5.4" ry="2.8" transform="rotate(70 81.3 201.4)" fill="#68d860" stroke="#101810" stroke-opacity="0.4" stroke-width="0.7"/>
<ellipse cx="73.5" cy="227.2" rx="5.6" ry="3.7" transform="rotate(178 73.5 227.2)" fill="#2eae2e" stroke="#101810" stroke-opacity="0.4" stroke-width="0.7"/>
<ellipse cx="68.2" cy="259.1" rx="4.5" ry="3.6" transform="rotate(22 68.2 259.1)" fill="#b0441c" stroke="#101810" stroke-opacity="0.4" stroke-width="0.7"/>
<ellipse cx="79.8" cy="252.5" rx="4.9" ry="2.8" transform="rotate(35 79.8 252.5)" fill="#68d860" stroke="#101810" stroke-opacity="0.4" stroke-width="0.7"/>
<ellipse cx="82.5" cy="206.2" rx="3.2" ry="4.0" transform="rotate(61 82.5 206.2)" fill="#44bb44" stroke="#101810" stroke-opacity="0.4" stroke-width="0.7"/>
<ellipse cx="61.5" cy="228.9" rx="4.7" ry="2.9" transform="rotate(92 61.5 228.9)" fill="#52d052" stroke="#101810" stroke-opacity="0.4" stroke-width="0.7"/>
<ellipse cx="77.8" cy="261.6" rx="4.0" ry="3.9" transform="rotate(144 77.8 261.6)" fill="#44bb44" stroke="#101810" stroke-opacity="0.4" stroke-width="0.7"/>
<ellipse cx="60.1" cy="244.9" rx="5.8" ry="3.9" transform="rotate(165 60.1 244.9)" fill="#ffffff" stroke="#101810" stroke-opacity="0.4" stroke-width="0.7"/>
<ellipse cx="94.2" cy="208.2" rx="6.0" ry="3.9" transform="rotate(93 94.2 208.2)" fill="#3cc83c" stroke="#101810" stroke-opacity="0.4" stroke-width="0.7"/>
<ellipse cx="90.5" cy="250.0" rx="4.4" ry="2.6" transform="rotate(37 90.5 250.0)" fill="#44bb44" stroke="#101810" stroke-opacity="0.4" stroke-width="0.7"/>
<ellipse cx="91.6" cy="250.6" rx="3.6" ry="2.9" transform="rotate(144 91.6 250.6)" fill="#2eae2e" stroke="#101810" stroke-opacity="0.4" stroke-width="0.7"/>
<ellipse cx="66.4" cy="224.1" rx="4.6" ry="2.4" transform="rotate(100 66.4 224.1)" fill="#6040b0" stroke="#101810" stroke-opacity="0.4" stroke-width="0.7"/>
<ellipse cx="89.8" cy="225.5" rx="4.5" ry="3.0" transform="rotate(65 89.8 225.5)" fill="#52d052" stroke="#101810" stroke-opacity="0.4" stroke-width="0.7"/>
<ellipse cx="68.0" cy="231.0" rx="5.1" ry="3.2" transform="rotate(22 68.0 231.0)" fill="#3a4ab8" stroke="#101810" stroke-opacity="0.4" stroke-width="0.7"/>
<ellipse cx="82.1" cy="232.8" rx="3.2" ry="3.7" transform="rotate(33 82.1 232.8)" fill="#2eae2e" stroke="#101810" stroke-opacity="0.4" stroke-width="0.7"/>
<ellipse cx="84.5" cy="218.0" rx="4.7" ry="4.0" transform="rotate(26 84.5 218.0)" fill="#3a4ab8" stroke="#101810" stroke-opacity="0.4" stroke-width="0.7"/>
<ellipse cx="68.6" cy="255.6" rx="4.1" ry="3.0" transform="rotate(94 68.6 255.6)" fill="#68d860" stroke="#101810" stroke-opacity="0.4" stroke-width="0.7"/>
<ellipse cx="73.0" cy="237.4" rx="4.5" ry="2.6" transform="rotate(95 73.0 237.4)" fill="#8a3418" stroke="#101810" stroke-opacity="0.4" stroke-width="0.7"/>
<ellipse cx="63.8" cy="220.1" rx="5.8" ry="3.1" transform="rotate(127 63.8 220.1)" fill="#3cc83c" stroke="#101810" stroke-opacity="0.4" stroke-width="0.7"/>
<ellipse cx="74.1" cy="204.9" rx="3.3" ry="2.6" transform="rotate(177 74.1 204.9)" fill="#44bb44" stroke="#101810" stroke-opacity="0.4" stroke-width="0.7"/>
<ellipse cx="61.2" cy="244.4" rx="5.0" ry="3.9" transform="rotate(165 61.2 244.4)" fill="#b0441c" stroke="#101810" stroke-opacity="0.4" stroke-width="0.7"/>
<ellipse cx="74.0" cy="225.8" rx="5.1" ry="3.7" transform="rotate(27 74.0 225.8)" fill="#8a3418" stroke="#101810" stroke-opacity="0.4" stroke-width="0.7"/>
<ellipse cx="93.2" cy="206.6" rx="4.7" ry="3.3" transform="rotate(16 93.2 206.6)" fill="#44bb44" stroke="#101810" stroke-opacity="0.4" stroke-width="0.7"/>
<ellipse cx="68.7" cy="221.9" rx="5.2" ry="2.5" transform="rotate(13 68.7 221.9)" fill="#44bb44" stroke="#101810" stroke-opacity="0.4" stroke-width="0.7"/>
<ellipse cx="67.8" cy="223.3" rx="5.8" ry="2.8" transform="rotate(92 67.8 223.3)" fill="#3cc83c" stroke="#101810" stroke-opacity="0.4" stroke-width="0.7"/>
<ellipse cx="74.8" cy="249.0" rx="3.6" ry="2.5" transform="rotate(78 74.8 249.0)" fill="#2eae2e" stroke="#101810" stroke-opacity="0.4" stroke-width="0.7"/>
<ellipse cx="94.6" cy="200.7" rx="6.0" ry="2.6" transform="rotate(175 94.6 200.7)" fill="#2eae2e" stroke="#101810" stroke-opacity="0.4" stroke-width="0.7"/>
<ellipse cx="93.8" cy="227.8" rx="4.9" ry="2.5" transform="rotate(81 93.8 227.8)" fill="#52d052" stroke="#101810" stroke-opacity="0.4" stroke-width="0.7"/>
<ellipse cx="69.6" cy="210.6" rx="3.8" ry="3.6" transform="rotate(165 69.6 210.6)" fill="#52d052" stroke="#101810" stroke-opacity="0.4" stroke-width="0.7"/>
<ellipse cx="85.7" cy="252.7" rx="5.0" ry="3.2" transform="rotate(41 85.7 252.7)" fill="#68d860" stroke="#101810" stroke-opacity="0.4" stroke-width="0.7"/>
<ellipse cx="92.2" cy="200.4" rx="4.0" ry="3.8" transform="rotate(109 92.2 200.4)" fill="#8a3418" stroke="#101810" stroke-opacity="0.4" stroke-width="0.7"/>
<ellipse cx="76.1" cy="213.4" rx="5.6" ry="3.9" transform="rotate(106 76.1 213.4)" fill="#ffffff" stroke="#101810" stroke-opacity="0.4" stroke-width="0.7"/>
<ellipse cx="92.4" cy="255.5" rx="5.5" ry="2.8" transform="rotate(85 92.4 255.5)" fill="#ffffff" stroke="#101810" stroke-opacity="0.4" stroke-width="0.7"/>
<ellipse cx="179.8" cy="236.4" rx="5.6" ry="3.8" transform="rotate(136 179.8 236.4)" fill="#2aa0c8" stroke="#101810" stroke-opacity="0.4" stroke-width="0.7"/>
<ellipse cx="156.2" cy="220.8" rx="5.5" ry="2.9" transform="rotate(73 156.2 220.8)" fill="#1c2c90" stroke="#101810" stroke-opacity="0.4" stroke-width="0.7"/>
<ellipse cx="173.6" cy="235.0" rx="5.8" ry="3.9" transform="rotate(139 173.6 235.0)" fill="#1c2c90" stroke="#101810" stroke-opacity="0.4" stroke-width="0.7"/>
<ellipse cx="158.1" cy="217.8" rx="4.2" ry="3.7" transform="rotate(106 158.1 217.8)" fill="#30b8b8" stroke="#101810" stroke-opacity="0.4" stroke-width="0.7"/>
<ellipse cx="155.0" cy="210.7" rx="3.3" ry="3.8" transform="rotate(34 155.0 210.7)" fill="#3cc83c" stroke="#101810" stroke-opacity="0.4" stroke-width="0.7"/>
<ellipse cx="198.7" cy="230.0" rx="5.5" ry="3.7" transform="rotate(75 198.7 230.0)" fill="#52d052" stroke="#101810" stroke-opacity="0.4" stroke-width="0.7"/>
<ellipse cx="170.3" cy="251.6" rx="4.7" ry="2.5" transform="rotate(177 170.3 251.6)" fill="#1c2c90" stroke="#101810" stroke-opacity="0.4" stroke-width="0.7"/>
<ellipse cx="166.9" cy="213.0" rx="5.4" ry="2.8" transform="rotate(145 166.9 213.0)" fill="#2a40c0" stroke="#101810" stroke-opacity="0.4" stroke-width="0.7"/>
<ellipse cx="155.5" cy="239.9" rx="3.4" ry="2.8" transform="rotate(48 155.5 239.9)" fill="#4a40a0" stroke="#101810" stroke-opacity="0.4" stroke-width="0.7"/>
<ellipse cx="183.6" cy="222.2" rx="4.5" ry="4.0" transform="rotate(175 183.6 222.2)" fill="#4a40a0" stroke="#101810" stroke-opacity="0.4" stroke-width="0.7"/>
<ellipse cx="175.6" cy="217.4" rx="5.8" ry="2.5" transform="rotate(25 175.6 217.4)" fill="#4a40a0" stroke="#101810" stroke-opacity="0.4" stroke-width="0.7"/>
<ellipse cx="180.5" cy="249.8" rx="5.8" ry="2.6" transform="rotate(178 180.5 249.8)" fill="#30b8b8" stroke="#101810" stroke-opacity="0.4" stroke-width="0.7"/>
<ellipse cx="160.7" cy="248.6" rx="5.8" ry="2.6" transform="rotate(86 160.7 248.6)" fill="#2aa0c8" stroke="#101810" stroke-opacity="0.4" stroke-width="0.7"/>
<ellipse cx="166.4" cy="252.0" rx="4.1" ry="3.7" transform="rotate(68 166.4 252.0)" fill="#2438b0" stroke="#101810" stroke-opacity="0.4" stroke-width="0.7"/>
<ellipse cx="169.0" cy="229.5" rx="4.4" ry="3.6" transform="rotate(28 169.0 229.5)" fill="#4a40a0" stroke="#101810" stroke-opacity="0.4" stroke-width="0.7"/>
<ellipse cx="169.5" cy="247.4" rx="5.3" ry="3.6" transform="rotate(163 169.5 247.4)" fill="#30b8b8" stroke="#101810" stroke-opacity="0.4" stroke-width="0.7"/>
<ellipse cx="172.7" cy="229.6" rx="3.6" ry="3.4" transform="rotate(84 172.7 229.6)" fill="#3a5ad8" stroke="#101810" stroke-opacity="0.4" stroke-width="0.7"/>
<ellipse cx="177.2" cy="244.2" rx="5.9" ry="3.7" transform="rotate(40 177.2 244.2)" fill="#3a5ad8" stroke="#101810" stroke-opacity="0.4" stroke-width="0.7"/>
<ellipse cx="149.9" cy="239.7" rx="5.3" ry="3.4" transform="rotate(155 149.9 239.7)" fill="#2a40c0" stroke="#101810" stroke-opacity="0.4" stroke-width="0.7"/>
<ellipse cx="183.7" cy="250.4" rx="5.9" ry="3.9" transform="rotate(15 183.7 250.4)" fill="#3cc83c" stroke="#101810" stroke-opacity="0.4" stroke-width="0.7"/>
<ellipse cx="152.4" cy="263.0" rx="5.9" ry="3.9" transform="rotate(58 152.4 263.0)" fill="#4a40a0" stroke="#101810" stroke-opacity="0.4" stroke-width="0.7"/>
<ellipse cx="176.9" cy="260.1" rx="3.3" ry="3.4" transform="rotate(3 176.9 260.1)" fill="#4a40a0" stroke="#101810" stroke-opacity="0.4" stroke-width="0.7"/>
<ellipse cx="177.8" cy="221.3" rx="5.8" ry="3.1" transform="rotate(156 177.8 221.3)" fill="#3a5ad8" stroke="#101810" stroke-opacity="0.4" stroke-width="0.7"/>
<ellipse cx="186.0" cy="215.1" rx="3.9" ry="2.4" transform="rotate(133 186.0 215.1)" fill="#2438b0" stroke="#101810" stroke-opacity="0.4" stroke-width="0.7"/>
<ellipse cx="157.0" cy="246.8" rx="6.0" ry="2.7" transform="rotate(75 157.0 246.8)" fill="#3a5ad8" stroke="#101810" stroke-opacity="0.4" stroke-width="0.7"/>
<ellipse cx="188.4" cy="228.2" rx="4.2" ry="2.8" transform="rotate(71 188.4 228.2)" fill="#4a40a0" stroke="#101810" stroke-opacity="0.4" stroke-width="0.7"/>
<ellipse cx="159.5" cy="223.4" rx="4.9" ry="2.6" transform="rotate(108 159.5 223.4)" fill="#3cc83c" stroke="#101810" stroke-opacity="0.4" stroke-width="0.7"/>
<ellipse cx="150.2" cy="222.4" rx="4.9" ry="2.9" transform="rotate(40 150.2 222.4)" fill="#52d052" stroke="#101810" stroke-opacity="0.4" stroke-width="0.7"/>
<ellipse cx="184.6" cy="238.6" rx="4.1" ry="2.5" transform="rotate(82 184.6 238.6)" fill="#1c2c90" stroke="#101810" stroke-opacity="0.4" stroke-width="0.7"/>
<ellipse cx="171.4" cy="265.3" rx="3.8" ry="3.6" transform="rotate(134 171.4 265.3)" fill="#2438b0" stroke="#101810" stroke-opacity="0.4" stroke-width="0.7"/>
<ellipse cx="177.6" cy="240.6" rx="3.3" ry="2.7" transform="rotate(141 177.6 240.6)" fill="#1c2c90" stroke="#101810" stroke-opacity="0.4" stroke-width="0.7"/>
<ellipse cx="153.9" cy="241.4" rx="5.6" ry="2.8" transform="rotate(62 153.9 241.4)" fill="#52d052" stroke="#101810" stroke-opacity="0.4" stroke-width="0.7"/>
<ellipse cx="147.0" cy="262.2" rx="4.8" ry="2.6" transform="rotate(60 147.0 262.2)" fill="#2c4cd0" stroke="#101810" stroke-opacity="0.4" stroke-width="0.7"/>
<ellipse cx="177.5" cy="211.7" rx="4.9" ry="2.6" transform="rotate(143 177.5 211.7)" fill="#2a40c0" stroke="#101810" stroke-opacity="0.4" stroke-width="0.7"/>
<ellipse cx="176.7" cy="262.1" rx="5.8" ry="2.7" transform="rotate(137 176.7 262.1)" fill="#ffffff" stroke="#101810" stroke-opacity="0.4" stroke-width="0.7"/>
<ellipse cx="167.5" cy="202.9" rx="4.7" ry="2.7" transform="rotate(155 167.5 202.9)" fill="#2438b0" stroke="#101810" stroke-opacity="0.4" stroke-width="0.7"/>
<ellipse cx="170.3" cy="255.9" rx="3.5" ry="3.8" transform="rotate(132 170.3 255.9)" fill="#1c2c90" stroke="#101810" stroke-opacity="0.4" stroke-width="0.7"/>
<ellipse cx="155.8" cy="245.2" rx="3.9" ry="3.6" transform="rotate(135 155.8 245.2)" fill="#2438b0" stroke="#101810" stroke-opacity="0.4" stroke-width="0.7"/>
<ellipse cx="178.9" cy="218.0" rx="5.4" ry="3.2" transform="rotate(11 178.9 218.0)" fill="#1c2c90" stroke="#101810" stroke-opacity="0.4" stroke-width="0.7"/>
<ellipse cx="154.2" cy="201.3" rx="5.4" ry="3.3" transform="rotate(78 154.2 201.3)" fill="#30b8b8" stroke="#101810" stroke-opacity="0.4" stroke-width="0.7"/>
<ellipse cx="163.9" cy="216.0" rx="5.1" ry="3.3" transform="rotate(24 163.9 216.0)" fill="#2a40c0" stroke="#101810" stroke-opacity="0.4" stroke-width="0.7"/>
<ellipse cx="199.6" cy="247.5" rx="4.5" ry="3.5" transform="rotate(129 199.6 247.5)" fill="#ffffff" stroke="#101810" stroke-opacity="0.4" stroke-width="0.7"/>
<ellipse cx="189.2" cy="252.1" rx="4.1" ry="2.6" transform="rotate(2 189.2 252.1)" fill="#ffffff" stroke="#101810" stroke-opacity="0.4" stroke-width="0.7"/>
<ellipse cx="158.4" cy="211.2" rx="4.6" ry="2.9" transform="rotate(30 158.4 211.2)" fill="#4a40a0" stroke="#101810" stroke-opacity="0.4" stroke-width="0.7"/>
<ellipse cx="185.6" cy="265.7" rx="5.8" ry="2.9" transform="rotate(16 185.6 265.7)" fill="#2a40c0" stroke="#101810" stroke-opacity="0.4" stroke-width="0.7"/>
<ellipse cx="198.2" cy="233.1" rx="4.7" ry="3.8" transform="rotate(27 198.2 233.1)" fill="#2aa0c8" stroke="#101810" stroke-opacity="0.4" stroke-width="0.7"/>
<ellipse cx="162.5" cy="253.6" rx="4.9" ry="3.7" transform="rotate(80 162.5 253.6)" fill="#3a5ad8" stroke="#101810" stroke-opacity="0.4" stroke-width="0.7"/>
<ellipse cx="162.2" cy="246.3" rx="5.9" ry="2.9" transform="rotate(87 162.2 246.3)" fill="#2a40c0" stroke="#101810" stroke-opacity="0.4" stroke-width="0.7"/>
<ellipse cx="165.7" cy="207.7" rx="5.3" ry="2.6" transform="rotate(33 165.7 207.7)" fill="#3a5ad8" stroke="#101810" stroke-opacity="0.4" stroke-width="0.7"/>
<ellipse cx="174.6" cy="207.7" rx="3.7" ry="2.5" transform="rotate(127 174.6 207.7)" fill="#3a5ad8" stroke="#101810" stroke-opacity="0.4" stroke-width="0.7"/>
<ellipse cx="160.7" cy="212.9" rx="6.0" ry="3.6" transform="rotate(172 160.7 212.9)" fill="#1c2c90" stroke="#101810" stroke-opacity="0.4" stroke-width="0.7"/>
<ellipse cx="196.3" cy="233.8" rx="5.8" ry="3.2" transform="rotate(18 196.3 233.8)" fill="#2c4cd0" stroke="#101810" stroke-opacity="0.4" stroke-width="0.7"/>
<ellipse cx="172.9" cy="210.3" rx="5.0" ry="3.1" transform="rotate(23 172.9 210.3)" fill="#3a5ad8" stroke="#101810" stroke-opacity="0.4" stroke-width="0.7"/>
<ellipse cx="154.5" cy="238.8" rx="3.8" ry="2.7" transform="rotate(77 154.5 238.8)" fill="#2aa0c8" stroke="#101810" stroke-opacity="0.4" stroke-width="0.7"/>
<ellipse cx="168.4" cy="210.3" rx="4.7" ry="3.0" transform="rotate(91 168.4 210.3)" fill="#4a40a0" stroke="#101810" stroke-opacity="0.4" stroke-width="0.7"/>
<ellipse cx="158.7" cy="209.9" rx="4.0" ry="2.9" transform="rotate(119 158.7 209.9)" fill="#30b8b8" stroke="#101810" stroke-opacity="0.4" stroke-width="0.7"/>
<ellipse cx="199.1" cy="245.3" rx="4.9" ry="3.7" transform="rotate(151 199.1 245.3)" fill="#2a40c0" stroke="#101810" stroke-opacity="0.4" stroke-width="0.7"/>
<ellipse cx="177.8" cy="213.3" rx="4.0" ry="2.8" transform="rotate(59 177.8 213.3)" fill="#30b8b8" stroke="#101810" stroke-opacity="0.4" stroke-width="0.7"/>
<ellipse cx="152.4" cy="205.6" rx="4.3" ry="3.4" transform="rotate(132 152.4 205.6)" fill="#1c2c90" stroke="#101810" stroke-opacity="0.4" stroke-width="0.7"/>
<ellipse cx="192.5" cy="225.4" rx="5.3" ry="3.8" transform="rotate(115 192.5 225.4)" fill="#2438b0" stroke="#101810" stroke-opacity="0.4" stroke-width="0.7"/>
<ellipse cx="200.0" cy="248.7" rx="4.8" ry="3.2" transform="rotate(117 200.0 248.7)" fill="#1c2c90" stroke="#101810" stroke-opacity="0.4" stroke-width="0.7"/>
<ellipse cx="149.8" cy="223.2" rx="4.1" ry="2.4" transform="rotate(8 149.8 223.2)" fill="#2a40c0" stroke="#101810" stroke-opacity="0.4" stroke-width="0.7"/>
<ellipse cx="148.9" cy="217.8" rx="4.6" ry="3.7" transform="rotate(155 148.9 217.8)" fill="#2438b0" stroke="#101810" stroke-opacity="0.4" stroke-width="0.7"/>
<ellipse cx="190.6" cy="238.4" rx="4.3" ry="3.6" transform="rotate(51 190.6 238.4)" fill="#2c4cd0" stroke="#101810" stroke-opacity="0.4" stroke-width="0.7"/>
<ellipse cx="171.3" cy="259.0" rx="4.0" ry="3.0" transform="rotate(51 171.3 259.0)" fill="#2a40c0" stroke="#101810" stroke-opacity="0.4" stroke-width="0.7"/>
<ellipse cx="186.3" cy="222.8" rx="5.1" ry="3.7" transform="rotate(95 186.3 222.8)" fill="#1c2c90" stroke="#101810" stroke-opacity="0.4" stroke-width="0.7"/>
<ellipse cx="160.5" cy="244.7" rx="4.4" ry="3.9" transform="rotate(131 160.5 244.7)" fill="#52d052" stroke="#101810" stroke-opacity="0.4" stroke-width="0.7"/>
<ellipse cx="194.3" cy="221.0" rx="5.1" ry="3.1" transform="rotate(105 194.3 221.0)" fill="#2aa0c8" stroke="#101810" stroke-opacity="0.4" stroke-width="0.7"/>
<ellipse cx="166.3" cy="236.3" rx="5.2" ry="3.9" transform="rotate(176 166.3 236.3)" fill="#1c2c90" stroke="#101810" stroke-opacity="0.4" stroke-width="0.7"/>
<ellipse cx="189.5" cy="227.2" rx="5.4" ry="3.7" transform="rotate(167 189.5 227.2)" fill="#2a40c0" stroke="#101810" stroke-opacity="0.4" stroke-width="0.7"/>
<ellipse cx="150.9" cy="259.7" rx="5.9" ry="3.9" transform="rotate(87 150.9 259.7)" fill="#2438b0" stroke="#101810" stroke-opacity="0.4" stroke-width="0.7"/>
<ellipse cx="147.4" cy="213.8" rx="5.5" ry="2.7" transform="rotate(61 147.4 213.8)" fill="#2c4cd0" stroke="#101810" stroke-opacity="0.4" stroke-width="0.7"/>
<ellipse cx="158.6" cy="223.2" rx="3.9" ry="3.3" transform="rotate(109 158.6 223.2)" fill="#2c4cd0" stroke="#101810" stroke-opacity="0.4" stroke-width="0.7"/>
<ellipse cx="198.4" cy="228.6" rx="4.8" ry="3.3" transform="rotate(47 198.4 228.6)" fill="#3a5ad8" stroke="#101810" stroke-opacity="0.4" stroke-width="0.7"/>
<ellipse cx="168.7" cy="265.8" rx="5.2" ry="3.1" transform="rotate(136 168.7 265.8)" fill="#52d052" stroke="#101810" stroke-opacity="0.4" stroke-width="0.7"/>
<ellipse cx="176.7" cy="224.0" rx="5.0" ry="2.7" transform="rotate(152 176.7 224.0)" fill="#1c2c90" stroke="#101810" stroke-opacity="0.4" stroke-width="0.7"/>
<ellipse cx="149.1" cy="215.1" rx="5.8" ry="3.6" transform="rotate(166 149.1 215.1)" fill="#52d052" stroke="#101810" stroke-opacity="0.4" stroke-width="0.7"/>
<ellipse cx="155.1" cy="229.7" rx="5.2" ry="3.8" transform="rotate(145 155.1 229.7)" fill="#3a5ad8" stroke="#101810" stroke-opacity="0.4" stroke-width="0.7"/>
<ellipse cx="147.0" cy="213.4" rx="5.8" ry="3.2" transform="rotate(98 147.0 213.4)" fill="#3a5ad8" stroke="#101810" stroke-opacity="0.4" stroke-width="0.7"/>
<ellipse cx="145.9" cy="240.1" rx="5.7" ry="3.0" transform="rotate(150 145.9 240.1)" fill="#3a5ad8" stroke="#101810" stroke-opacity="0.4" stroke-width="0.7"/>
<ellipse cx="186.4" cy="223.5" rx="4.4" ry="2.6" transform="rotate(94 186.4 223.5)" fill="#1c2c90" stroke="#101810" stroke-opacity="0.4" stroke-width="0.7"/>
<ellipse cx="173.5" cy="227.4" rx="3.7" ry="3.9" transform="rotate(101 173.5 227.4)" fill="#2438b0" stroke="#101810" stroke-opacity="0.4" stroke-width="0.7"/>
<ellipse cx="150.4" cy="236.3" rx="5.9" ry="3.6" transform="rotate(151 150.4 236.3)" fill="#2438b0" stroke="#101810" stroke-opacity="0.4" stroke-width="0.7"/>
<ellipse cx="174.0" cy="209.6" rx="3.6" ry="2.5" transform="rotate(84 174.0 209.6)" fill="#4a40a0" stroke="#101810" stroke-opacity="0.4" stroke-width="0.7"/>
<ellipse cx="146.8" cy="206.5" rx="4.7" ry="2.9" transform="rotate(92 146.8 206.5)" fill="#ffffff" stroke="#101810" stroke-opacity="0.4" stroke-width="0.7"/>
<ellipse cx="194.8" cy="236.6" rx="3.4" ry="3.5" transform="rotate(166 194.8 236.6)" fill="#2aa0c8" stroke="#101810" stroke-opacity="0.4" stroke-width="0.7"/>
<ellipse cx="182.8" cy="219.7" rx="4.6" ry="3.3" transform="rotate(99 182.8 219.7)" fill="#52d052" stroke="#101810" stroke-opacity="0.4" stroke-width="0.7"/>
<ellipse cx="165.7" cy="229.4" rx="3.5" ry="3.4" transform="rotate(100 165.7 229.4)" fill="#4a40a0" stroke="#101810" stroke-opacity="0.4" stroke-width="0.7"/>
<ellipse cx="146.8" cy="205.8" rx="3.8" ry="3.0" transform="rotate(45 146.8 205.8)" fill="#2aa0c8" stroke="#101810" stroke-opacity="0.4" stroke-width="0.7"/>
<ellipse cx="160.9" cy="241.7" rx="3.6" ry="3.6" transform="rotate(21 160.9 241.7)" fill="#30b8b8" stroke="#101810" stroke-opacity="0.4" stroke-width="0.7"/>
<ellipse cx="189.9" cy="250.4" rx="4.3" ry="4.0" transform="rotate(75 189.9 250.4)" fill="#1c2c90" stroke="#101810" stroke-opacity="0.4" stroke-width="0.7"/>
<ellipse cx="179.7" cy="254.3" rx="5.5" ry="3.6" transform="rotate(89 179.7 254.3)" fill="#2a40c0" stroke="#101810" stroke-opacity="0.4" stroke-width="0.7"/>
<ellipse cx="161.9" cy="260.8" rx="3.7" ry="2.8" transform="rotate(36 161.9 260.8)" fill="#4a40a0" stroke="#101810" stroke-opacity="0.4" stroke-width="0.7"/>
<ellipse cx="150.0" cy="253.5" rx="5.2" ry="3.1" transform="rotate(166 150.0 253.5)" fill="#3cc83c" stroke="#101810" stroke-opacity="0.4" stroke-width="0.7"/>
<ellipse cx="174.9" cy="235.7" rx="5.2" ry="2.4" transform="rotate(43 174.9 235.7)" fill="#2438b0" stroke="#101810" stroke-opacity="0.4" stroke-width="0.7"/>
<ellipse cx="198.4" cy="260.1" rx="5.2" ry="3.8" transform="rotate(122 198.4 260.1)" fill="#2a40c0" stroke="#101810" stroke-opacity="0.4" stroke-width="0.7"/>
<ellipse cx="197.2" cy="229.5" rx="6.0" ry="3.2" transform="rotate(118 197.2 229.5)" fill="#ffffff" stroke="#101810" stroke-opacity="0.4" stroke-width="0.7"/>
<ellipse cx="167.0" cy="249.1" rx="3.2" ry="2.5" transform="rotate(84 167.0 249.1)" fill="#30b8b8" stroke="#101810" stroke-opacity="0.4" stroke-width="0.7"/>
<ellipse cx="166.1" cy="199.2" rx="4.1" ry="3.0" transform="rotate(98 166.1 199.2)" fill="#3a5ad8" stroke="#101810" stroke-opacity="0.4" stroke-width="0.7"/>
<ellipse cx="160.9" cy="229.0" rx="5.7" ry="3.0" transform="rotate(40 160.9 229.0)" fill="#1c2c90" stroke="#101810" stroke-opacity="0.4" stroke-width="0.7"/>
<ellipse cx="194.6" cy="264.2" rx="3.9" ry="3.6" transform="rotate(125 194.6 264.2)" fill="#1c2c90" stroke="#101810" stroke-opacity="0.4" stroke-width="0.7"/>
<ellipse cx="179.4" cy="231.2" rx="4.8" ry="3.9" transform="rotate(19 179.4 231.2)" fill="#2a40c0" stroke="#101810" stroke-opacity="0.4" stroke-width="0.7"/>
<ellipse cx="164.7" cy="207.1" rx="5.8" ry="3.2" transform="rotate(151 164.7 207.1)" fill="#30b8b8" stroke="#101810" stroke-opacity="0.4" stroke-width="0.7"/>
<ellipse cx="195.2" cy="262.9" rx="4.9" ry="2.4" transform="rotate(40 195.2 262.9)" fill="#2a40c0" stroke="#101810" stroke-opacity="0.4" stroke-width="0.7"/>
<ellipse cx="173.9" cy="243.0" rx="5.3" ry="3.1" transform="rotate(164 173.9 243.0)" fill="#2c4cd0" stroke="#101810" stroke-opacity="0.4" stroke-width="0.7"/>
<ellipse cx="187.2" cy="232.3" rx="4.0" ry="2.9" transform="rotate(90 187.2 232.3)" fill="#ffffff" stroke="#101810" stroke-opacity="0.4" stroke-width="0.7"/>
<ellipse cx="172.7" cy="260.5" rx="5.2" ry="3.0" transform="rotate(13 172.7 260.5)" fill="#3a5ad8" stroke="#101810" stroke-opacity="0.4" stroke-width="0.7"/>
<ellipse cx="190.2" cy="234.7" rx="5.9" ry="2.9" transform="rotate(103 190.2 234.7)" fill="#2c4cd0" stroke="#101810" stroke-opacity="0.4" stroke-width="0.7"/>
<ellipse cx="185.4" cy="244.7" rx="3.3" ry="3.7" transform="rotate(7 185.4 244.7)" fill="#2a40c0" stroke="#101810" stroke-opacity="0.4" stroke-width="0.7"/>
<ellipse cx="162.5" cy="222.0" rx="5.7" ry="3.3" transform="rotate(100 162.5 222.0)" fill="#3a5ad8" stroke="#101810" stroke-opacity="0.4" stroke-width="0.7"/>
<ellipse cx="128.3" cy="216.1" rx="5.1" ry="3.5" transform="rotate(160 128.3 216.1)" fill="#2a9a3a" stroke="#101810" stroke-opacity="0.4" stroke-width="0.7"/>
<ellipse cx="130.6" cy="221.6" rx="3.7" ry="3.0" transform="rotate(119 130.6 221.6)" fill="#30b8b8" stroke="#101810" stroke-opacity="0.4" stroke-width="0.7"/>
<ellipse cx="137.6" cy="228.7" rx="5.6" ry="2.8" transform="rotate(159 137.6 228.7)" fill="#c0a820" stroke="#101810" stroke-opacity="0.4" stroke-width="0.7"/>
<ellipse cx="96.6" cy="220.4" rx="5.0" ry="3.3" transform="rotate(145 96.6 220.4)" fill="#44bb44" stroke="#101810" stroke-opacity="0.4" stroke-width="0.7"/>
<ellipse cx="133.8" cy="250.1" rx="5.6" ry="2.5" transform="rotate(142 133.8 250.1)" fill="#2eae2e" stroke="#101810" stroke-opacity="0.4" stroke-width="0.7"/>
<ellipse cx="123.4" cy="235.2" rx="4.5" ry="3.9" transform="rotate(54 123.4 235.2)" fill="#2eae2e" stroke="#101810" stroke-opacity="0.4" stroke-width="0.7"/>
<ellipse cx="112.3" cy="227.7" rx="5.5" ry="3.5" transform="rotate(50 112.3 227.7)" fill="#2a9a3a" stroke="#101810" stroke-opacity="0.4" stroke-width="0.7"/>
<ellipse cx="144.3" cy="241.9" rx="4.2" ry="2.8" transform="rotate(165 144.3 241.9)" fill="#3cc83c" stroke="#101810" stroke-opacity="0.4" stroke-width="0.7"/>
<ellipse cx="130.5" cy="249.1" rx="6.0" ry="2.9" transform="rotate(0 130.5 249.1)" fill="#52d052" stroke="#101810" stroke-opacity="0.4" stroke-width="0.7"/>
<ellipse cx="131.9" cy="243.4" rx="3.8" ry="3.9" transform="rotate(149 131.9 243.4)" fill="#a8e0e0" stroke="#101810" stroke-opacity="0.4" stroke-width="0.7"/>
<ellipse cx="101.0" cy="234.4" rx="3.7" ry="2.9" transform="rotate(131 101.0 234.4)" fill="#a8e0e0" stroke="#101810" stroke-opacity="0.4" stroke-width="0.7"/>
<ellipse cx="119.7" cy="237.4" rx="5.7" ry="3.8" transform="rotate(67 119.7 237.4)" fill="#8a3418" stroke="#101810" stroke-opacity="0.4" stroke-width="0.7"/>
<ellipse cx="117.0" cy="254.5" rx="5.3" ry="3.5" transform="rotate(5 117.0 254.5)" fill="#ffffff" stroke="#101810" stroke-opacity="0.4" stroke-width="0.7"/>
<ellipse cx="116.3" cy="254.9" rx="5.8" ry="3.7" transform="rotate(82 116.3 254.9)" fill="#2eae2e" stroke="#101810" stroke-opacity="0.4" stroke-width="0.7"/>
<ellipse cx="131.6" cy="227.5" rx="3.2" ry="3.3" transform="rotate(138 131.6 227.5)" fill="#a8e0e0" stroke="#101810" stroke-opacity="0.4" stroke-width="0.7"/>
<ellipse cx="140.6" cy="238.3" rx="4.2" ry="3.2" transform="rotate(26 140.6 238.3)" fill="#ffffff" stroke="#101810" stroke-opacity="0.4" stroke-width="0.7"/>
<ellipse cx="104.9" cy="251.9" rx="3.4" ry="3.2" transform="rotate(60 104.9 251.9)" fill="#52d052" stroke="#101810" stroke-opacity="0.4" stroke-width="0.7"/>
<ellipse cx="140.1" cy="228.1" rx="5.1" ry="3.0" transform="rotate(32 140.1 228.1)" fill="#44bb44" stroke="#101810" stroke-opacity="0.4" stroke-width="0.7"/>
<ellipse cx="115.8" cy="252.5" rx="5.1" ry="3.0" transform="rotate(150 115.8 252.5)" fill="#ffffff" stroke="#101810" stroke-opacity="0.4" stroke-width="0.7"/>
<ellipse cx="120.4" cy="229.6" rx="5.1" ry="2.5" transform="rotate(12 120.4 229.6)" fill="#c0a820" stroke="#101810" stroke-opacity="0.4" stroke-width="0.7"/>
<ellipse cx="118.7" cy="248.4" rx="4.7" ry="3.9" transform="rotate(109 118.7 248.4)" fill="#ffffff" stroke="#101810" stroke-opacity="0.4" stroke-width="0.7"/>
<ellipse cx="98.3" cy="245.0" rx="3.8" ry="3.3" transform="rotate(149 98.3 245.0)" fill="#30b8b8" stroke="#101810" stroke-opacity="0.4" stroke-width="0.7"/>
<ellipse cx="121.6" cy="241.1" rx="3.4" ry="2.6" transform="rotate(4 121.6 241.1)" fill="#ffffff" stroke="#101810" stroke-opacity="0.4" stroke-width="0.7"/>
<ellipse cx="129.0" cy="224.2" rx="3.3" ry="3.6" transform="rotate(137 129.0 224.2)" fill="#3cc83c" stroke="#101810" stroke-opacity="0.4" stroke-width="0.7"/>
<ellipse cx="113.3" cy="240.8" rx="3.4" ry="3.3" transform="rotate(152 113.3 240.8)" fill="#3cc83c" stroke="#101810" stroke-opacity="0.4" stroke-width="0.7"/>
<ellipse cx="118.1" cy="251.6" rx="4.4" ry="2.4" transform="rotate(16 118.1 251.6)" fill="#3cc83c" stroke="#101810" stroke-opacity="0.4" stroke-width="0.7"/>
<ellipse cx="111.2" cy="224.7" rx="3.5" ry="3.5" transform="rotate(101 111.2 224.7)" fill="#44bb44" stroke="#101810" stroke-opacity="0.4" stroke-width="0.7"/>
<ellipse cx="143.7" cy="256.9" rx="4.6" ry="3.2" transform="rotate(108 143.7 256.9)" fill="#2eae2e" stroke="#101810" stroke-opacity="0.4" stroke-width="0.7"/>
<ellipse cx="131.4" cy="233.6" rx="5.5" ry="3.3" transform="rotate(64 131.4 233.6)" fill="#3cc83c" stroke="#101810" stroke-opacity="0.4" stroke-width="0.7"/>
<ellipse cx="130.3" cy="231.7" rx="5.1" ry="3.3" transform="rotate(175 130.3 231.7)" fill="#ffffff" stroke="#101810" stroke-opacity="0.4" stroke-width="0.7"/>
<ellipse cx="103.4" cy="239.6" rx="5.1" ry="3.9" transform="rotate(50 103.4 239.6)" fill="#2a9a3a" stroke="#101810" stroke-opacity="0.4" stroke-width="0.7"/>
<ellipse cx="105.0" cy="235.6" rx="5.6" ry="2.4" transform="rotate(34 105.0 235.6)" fill="#68d860" stroke="#101810" stroke-opacity="0.4" stroke-width="0.7"/>
<ellipse cx="141.4" cy="243.7" rx="4.6" ry="3.1" transform="rotate(39 141.4 243.7)" fill="#44bb44" stroke="#101810" stroke-opacity="0.4" stroke-width="0.7"/>
<ellipse cx="125.4" cy="235.1" rx="5.3" ry="2.5" transform="rotate(142 125.4 235.1)" fill="#30b8b8" stroke="#101810" stroke-opacity="0.4" stroke-width="0.7"/>
<ellipse cx="116.9" cy="237.9" rx="3.8" ry="3.8" transform="rotate(107 116.9 237.9)" fill="#3cc83c" stroke="#101810" stroke-opacity="0.4" stroke-width="0.7"/>
<ellipse cx="144.5" cy="257.6" rx="3.4" ry="3.8" transform="rotate(168 144.5 257.6)" fill="#a8e0e0" stroke="#101810" stroke-opacity="0.4" stroke-width="0.7"/>
<ellipse cx="99.4" cy="250.6" rx="5.9" ry="3.4" transform="rotate(70 99.4 250.6)" fill="#ffffff" stroke="#101810" stroke-opacity="0.4" stroke-width="0.7"/>
<ellipse cx="142.6" cy="232.8" rx="5.4" ry="3.0" transform="rotate(92 142.6 232.8)" fill="#ffffff" stroke="#101810" stroke-opacity="0.4" stroke-width="0.7"/>
<ellipse cx="138.3" cy="252.5" rx="5.1" ry="3.7" transform="rotate(28 138.3 252.5)" fill="#ffffff" stroke="#101810" stroke-opacity="0.4" stroke-width="0.7"/>
<ellipse cx="115.9" cy="216.4" rx="5.5" ry="2.8" transform="rotate(113 115.9 216.4)" fill="#a8e0e0" stroke="#101810" stroke-opacity="0.4" stroke-width="0.7"/>
<ellipse cx="109.3" cy="247.9" rx="3.4" ry="3.9" transform="rotate(7 109.3 247.9)" fill="#68d860" stroke="#101810" stroke-opacity="0.4" stroke-width="0.7"/>
<ellipse cx="143.3" cy="230.3" rx="3.9" ry="2.4" transform="rotate(81 143.3 230.3)" fill="#2eae2e" stroke="#101810" stroke-opacity="0.4" stroke-width="0.7"/>
<ellipse cx="109.7" cy="235.2" rx="3.4" ry="3.7" transform="rotate(101 109.7 235.2)" fill="#44bb44" stroke="#101810" stroke-opacity="0.4" stroke-width="0.7"/>
<ellipse cx="104.9" cy="240.5" rx="3.4" ry="3.5" transform="rotate(79 104.9 240.5)" fill="#8a3418" stroke="#101810" stroke-opacity="0.4" stroke-width="0.7"/>
<ellipse cx="135.0" cy="215.9" rx="4.7" ry="3.4" transform="rotate(121 135.0 215.9)" fill="#ffffff" stroke="#101810" stroke-opacity="0.4" stroke-width="0.7"/>
<ellipse cx="139.0" cy="245.3" rx="3.4" ry="3.0" transform="rotate(147 139.0 245.3)" fill="#2eae2e" stroke="#101810" stroke-opacity="0.4" stroke-width="0.7"/>
<ellipse cx="115.2" cy="217.0" rx="4.1" ry="2.8" transform="rotate(157 115.2 217.0)" fill="#c0a820" stroke="#101810" stroke-opacity="0.4" stroke-width="0.7"/>
<ellipse cx="136.7" cy="220.1" rx="5.9" ry="3.3" transform="rotate(6 136.7 220.1)" fill="#8a3418" stroke="#101810" stroke-opacity="0.4" stroke-width="0.7"/>
<ellipse cx="133.6" cy="236.4" rx="3.5" ry="3.1" transform="rotate(37 133.6 236.4)" fill="#44bb44" stroke="#101810" stroke-opacity="0.4" stroke-width="0.7"/>
<ellipse cx="131.7" cy="231.4" rx="3.2" ry="3.5" transform="rotate(159 131.7 231.4)" fill="#52d052" stroke="#101810" stroke-opacity="0.4" stroke-width="0.7"/>
<ellipse cx="122.1" cy="240.2" rx="4.3" ry="3.6" transform="rotate(174 122.1 240.2)" fill="#2eae2e" stroke="#101810" stroke-opacity="0.4" stroke-width="0.7"/>
<ellipse cx="72.9" cy="269.4" rx="3.8" ry="2.7" transform="rotate(157 72.9 269.4)" fill="#d42222" stroke="#101810" stroke-opacity="0.4" stroke-width="0.7"/>
<ellipse cx="84.8" cy="275.8" rx="3.3" ry="2.5" transform="rotate(156 84.8 275.8)" fill="#c41a1a" stroke="#101810" stroke-opacity="0.4" stroke-width="0.7"/>
<ellipse cx="61.4" cy="275.4" rx="5.0" ry="2.7" transform="rotate(29 61.4 275.4)" fill="#e03030" stroke="#101810" stroke-opacity="0.4" stroke-width="0.7"/>
<ellipse cx="70.5" cy="270.3" rx="4.2" ry="3.9" transform="rotate(72 70.5 270.3)" fill="#a81212" stroke="#101810" stroke-opacity="0.4" stroke-width="0.7"/>
<ellipse cx="64.2" cy="266.0" rx="5.6" ry="3.3" transform="rotate(20 64.2 266.0)" fill="#a81212" stroke="#101810" stroke-opacity="0.4" stroke-width="0.7"/>
<ellipse cx="74.3" cy="267.2" rx="4.1" ry="2.5" transform="rotate(112 74.3 267.2)" fill="#d42222" stroke="#101810" stroke-opacity="0.4" stroke-width="0.7"/>
<ellipse cx="85.2" cy="272.3" rx="4.3" ry="3.6" transform="rotate(64 85.2 272.3)" fill="#d42222" stroke="#101810" stroke-opacity="0.4" stroke-width="0.7"/>
<ellipse cx="85.3" cy="260.4" rx="5.1" ry="2.5" transform="rotate(106 85.3 260.4)" fill="#30a0a0" stroke="#101810" stroke-opacity="0.4" stroke-width="0.7"/>
<ellipse cx="83.8" cy="260.0" rx="4.6" ry="3.0" transform="rotate(141 83.8 260.0)" fill="#c41a1a" stroke="#101810" stroke-opacity="0.4" stroke-width="0.7"/>
<ellipse cx="59.7" cy="262.3" rx="5.1" ry="2.8" transform="rotate(4 59.7 262.3)" fill="#a81212" stroke="#101810" stroke-opacity="0.4" stroke-width="0.7"/>
<ellipse cx="44.5" cy="263.7" rx="5.8" ry="2.5" transform="rotate(105 44.5 263.7)" fill="#e03030" stroke="#101810" stroke-opacity="0.4" stroke-width="0.7"/>
<ellipse cx="69.3" cy="267.4" rx="6.0" ry="3.3" transform="rotate(90 69.3 267.4)" fill="#30a0a0" stroke="#101810" stroke-opacity="0.4" stroke-width="0.7"/>
<ellipse cx="84.5" cy="266.9" rx="4.4" ry="2.7" transform="rotate(70 84.5 266.9)" fill="#c41a1a" stroke="#101810" stroke-opacity="0.4" stroke-width="0.7"/>
<ellipse cx="50.6" cy="263.2" rx="3.4" ry="3.9" transform="rotate(34 50.6 263.2)" fill="#e03030" stroke="#101810" stroke-opacity="0.4" stroke-width="0.7"/>
<ellipse cx="52.5" cy="259.1" rx="5.2" ry="2.7" transform="rotate(134 52.5 259.1)" fill="#e03030" stroke="#101810" stroke-opacity="0.4" stroke-width="0.7"/>
<ellipse cx="70.9" cy="266.5" rx="5.9" ry="3.4" transform="rotate(128 70.9 266.5)" fill="#c41a1a" stroke="#101810" stroke-opacity="0.4" stroke-width="0.7"/>
<ellipse cx="87.1" cy="274.1" rx="5.0" ry="2.8" transform="rotate(28 87.1 274.1)" fill="#d42222" stroke="#101810" stroke-opacity="0.4" stroke-width="0.7"/>
<ellipse cx="74.6" cy="265.0" rx="4.9" ry="3.1" transform="rotate(60 74.6 265.0)" fill="#a81212" stroke="#101810" stroke-opacity="0.4" stroke-width="0.7"/>
<ellipse cx="56.5" cy="263.6" rx="4.5" ry="3.1" transform="rotate(173 56.5 263.6)" fill="#e03030" stroke="#101810" stroke-opacity="0.4" stroke-width="0.7"/>
<ellipse cx="89.9" cy="264.0" rx="5.7" ry="3.8" transform="rotate(145 89.9 264.0)" fill="#d42222" stroke="#101810" stroke-opacity="0.4" stroke-width="0.7"/>
<ellipse cx="88.1" cy="259.1" rx="5.0" ry="3.5" transform="rotate(115 88.1 259.1)" fill="#d42222" stroke="#101810" stroke-opacity="0.4" stroke-width="0.7"/>
<ellipse cx="54.5" cy="265.8" rx="3.8" ry="3.5" transform="rotate(86 54.5 265.8)" fill="#c41a1a" stroke="#101810" stroke-opacity="0.4" stroke-width="0.7"/>
<ellipse cx="90.1" cy="274.2" rx="4.1" ry="3.6" transform="rotate(161 90.1 274.2)" fill="#d42222" stroke="#101810" stroke-opacity="0.4" stroke-width="0.7"/>
<ellipse cx="46.2" cy="271.3" rx="3.5" ry="3.6" transform="rotate(115 46.2 271.3)" fill="#e03030" stroke="#101810" stroke-opacity="0.4" stroke-width="0.7"/>
<ellipse cx="71.0" cy="274.3" rx="5.8" ry="3.8" transform="rotate(92 71.0 274.3)" fill="#c41a1a" stroke="#101810" stroke-opacity="0.4" stroke-width="0.7"/>
<ellipse cx="80.7" cy="274.5" rx="4.9" ry="3.9" transform="rotate(77 80.7 274.5)" fill="#30a0a0" stroke="#101810" stroke-opacity="0.4" stroke-width="0.7"/>
<ellipse cx="51.3" cy="260.4" rx="5.6" ry="3.5" transform="rotate(3 51.3 260.4)" fill="#e03030" stroke="#101810" stroke-opacity="0.4" stroke-width="0.7"/>
<ellipse cx="85.7" cy="269.4" rx="3.7" ry="4.0" transform="rotate(33 85.7 269.4)" fill="#a81212" stroke="#101810" stroke-opacity="0.4" stroke-width="0.7"/>
<ellipse cx="43.6" cy="271.8" rx="4.9" ry="3.1" transform="rotate(35 43.6 271.8)" fill="#d42222" stroke="#101810" stroke-opacity="0.4" stroke-width="0.7"/>
<ellipse cx="49.2" cy="274.9" rx="3.6" ry="2.9" transform="rotate(127 49.2 274.9)" fill="#c41a1a" stroke="#101810" stroke-opacity="0.4" stroke-width="0.7"/>
<ellipse cx="69.1" cy="272.7" rx="3.5" ry="3.9" transform="rotate(31 69.1 272.7)" fill="#c41a1a" stroke="#101810" stroke-opacity="0.4" stroke-width="0.7"/>
<ellipse cx="58.5" cy="263.6" rx="5.6" ry="3.4" transform="rotate(114 58.5 263.6)" fill="#ffffff" stroke="#101810" stroke-opacity="0.4" stroke-width="0.7"/>
<ellipse cx="75.6" cy="259.5" rx="5.9" ry="3.8" transform="rotate(164 75.6 259.5)" fill="#d42222" stroke="#101810" stroke-opacity="0.4" stroke-width="0.7"/>
<ellipse cx="49.1" cy="271.1" rx="3.9" ry="2.9" transform="rotate(176 49.1 271.1)" fill="#e03030" stroke="#101810" stroke-opacity="0.4" stroke-width="0.7"/>
<ellipse cx="55.6" cy="261.6" rx="4.1" ry="3.4" transform="rotate(46 55.6 261.6)" fill="#d42222" stroke="#101810" stroke-opacity="0.4" stroke-width="0.7"/>
<ellipse cx="54.8" cy="269.0" rx="4.5" ry="2.7" transform="rotate(125 54.8 269.0)" fill="#a81212" stroke="#101810" stroke-opacity="0.4" stroke-width="0.7"/>
<ellipse cx="72.8" cy="260.5" rx="3.4" ry="3.5" transform="rotate(60 72.8 260.5)" fill="#e03030" stroke="#101810" stroke-opacity="0.4" stroke-width="0.7"/>
<ellipse cx="42.2" cy="259.5" rx="5.0" ry="2.7" transform="rotate(142 42.2 259.5)" fill="#a81212" stroke="#101810" stroke-opacity="0.4" stroke-width="0.7"/>
<ellipse cx="92.0" cy="259.9" rx="3.2" ry="3.6" transform="rotate(157 92.0 259.9)" fill="#a81212" stroke="#101810" stroke-opacity="0.4" stroke-width="0.7"/>
<ellipse cx="54.4" cy="266.8" rx="5.8" ry="3.2" transform="rotate(45 54.4 266.8)" fill="#a81212" stroke="#101810" stroke-opacity="0.4" stroke-width="0.7"/>
<ellipse cx="87.7" cy="272.9" rx="5.1" ry="2.5" transform="rotate(67 87.7 272.9)" fill="#c41a1a" stroke="#101810" stroke-opacity="0.4" stroke-width="0.7"/>
<ellipse cx="96.3" cy="267.1" rx="5.1" ry="3.8" transform="rotate(142 96.3 267.1)" fill="#c41a1a" stroke="#101810" stroke-opacity="0.4" stroke-width="0.7"/>
<ellipse cx="44.1" cy="268.6" rx="4.3" ry="2.6" transform="rotate(75 44.1 268.6)" fill="#ffffff" stroke="#101810" stroke-opacity="0.4" stroke-width="0.7"/>
<ellipse cx="70.5" cy="261.2" rx="4.3" ry="4.0" transform="rotate(1 70.5 261.2)" fill="#c41a1a" stroke="#101810" stroke-opacity="0.4" stroke-width="0.7"/>
<ellipse cx="50.5" cy="274.2" rx="4.7" ry="2.9" transform="rotate(163 50.5 274.2)" fill="#ffffff" stroke="#101810" stroke-opacity="0.4" stroke-width="0.7"/>
<ellipse cx="54.1" cy="272.8" rx="4.1" ry="2.6" transform="rotate(38 54.1 272.8)" fill="#c41a1a" stroke="#101810" stroke-opacity="0.4" stroke-width="0.7"/>
<ellipse cx="46.4" cy="261.6" rx="4.8" ry="3.8" transform="rotate(173 46.4 261.6)" fill="#a81212" stroke="#101810" stroke-opacity="0.4" stroke-width="0.7"/>
<ellipse cx="85.1" cy="273.1" rx="4.0" ry="2.7" transform="rotate(48 85.1 273.1)" fill="#d42222" stroke="#101810" stroke-opacity="0.4" stroke-width="0.7"/>
<ellipse cx="42.5" cy="269.0" rx="3.8" ry="2.9" transform="rotate(68 42.5 269.0)" fill="#d42222" stroke="#101810" stroke-opacity="0.4" stroke-width="0.7"/>
<ellipse cx="69.0" cy="273.2" rx="4.9" ry="3.1" transform="rotate(65 69.0 273.2)" fill="#d42222" stroke="#101810" stroke-opacity="0.4" stroke-width="0.7"/>
<ellipse cx="80.6" cy="273.6" rx="5.7" ry="2.8" transform="rotate(151 80.6 273.6)" fill="#a81212" stroke="#101810" stroke-opacity="0.4" stroke-width="0.7"/>
<ellipse cx="191.8" cy="260.9" rx="5.1" ry="3.1" transform="rotate(27 191.8 260.9)" fill="#50c8c8" stroke="#101810" stroke-opacity="0.4" stroke-width="0.7"/>
<ellipse cx="151.0" cy="263.4" rx="4.6" ry="3.6" transform="rotate(25 151.0 263.4)" fill="#30b8b8" stroke="#101810" stroke-opacity="0.4" stroke-width="0.7"/>
<ellipse cx="185.3" cy="268.8" rx="5.0" ry="3.6" transform="rotate(49 185.3 268.8)" fill="#2aa0c8" stroke="#101810" stroke-opacity="0.4" stroke-width="0.7"/>
<ellipse cx="173.8" cy="266.0" rx="4.2" ry="3.7" transform="rotate(144 173.8 266.0)" fill="#1c80c0" stroke="#101810" stroke-opacity="0.4" stroke-width="0.7"/>
<ellipse cx="194.9" cy="266.5" rx="4.7" ry="3.5" transform="rotate(128 194.9 266.5)" fill="#30b8b8" stroke="#101810" stroke-opacity="0.4" stroke-width="0.7"/>
<ellipse cx="173.0" cy="258.8" rx="3.8" ry="2.4" transform="rotate(40 173.0 258.8)" fill="#2aa0c8" stroke="#101810" stroke-opacity="0.4" stroke-width="0.7"/>
<ellipse cx="164.3" cy="262.7" rx="4.0" ry="3.1" transform="rotate(165 164.3 262.7)" fill="#208a9a" stroke="#101810" stroke-opacity="0.4" stroke-width="0.7"/>
<ellipse cx="186.5" cy="280.8" rx="5.2" ry="2.6" transform="rotate(66 186.5 280.8)" fill="#c0a820" stroke="#101810" stroke-opacity="0.4" stroke-width="0.7"/>
<ellipse cx="151.2" cy="284.3" rx="4.5" ry="2.9" transform="rotate(121 151.2 284.3)" fill="#208a9a" stroke="#101810" stroke-opacity="0.4" stroke-width="0.7"/>
<ellipse cx="160.3" cy="276.8" rx="4.4" ry="3.1" transform="rotate(23 160.3 276.8)" fill="#ffffff" stroke="#101810" stroke-opacity="0.4" stroke-width="0.7"/>
<ellipse cx="176.2" cy="264.2" rx="4.4" ry="3.9" transform="rotate(144 176.2 264.2)" fill="#208a9a" stroke="#101810" stroke-opacity="0.4" stroke-width="0.7"/>
<ellipse cx="191.5" cy="285.0" rx="3.4" ry="3.7" transform="rotate(160 191.5 285.0)" fill="#ffffff" stroke="#101810" stroke-opacity="0.4" stroke-width="0.7"/>
<ellipse cx="195.6" cy="259.8" rx="3.9" ry="2.4" transform="rotate(28 195.6 259.8)" fill="#2438b0" stroke="#101810" stroke-opacity="0.4" stroke-width="0.7"/>
<ellipse cx="169.7" cy="284.9" rx="5.2" ry="2.8" transform="rotate(55 169.7 284.9)" fill="#c0a820" stroke="#101810" stroke-opacity="0.4" stroke-width="0.7"/>
<ellipse cx="140.7" cy="263.9" rx="5.3" ry="2.4" transform="rotate(87 140.7 263.9)" fill="#30b8b8" stroke="#101810" stroke-opacity="0.4" stroke-width="0.7"/>
<ellipse cx="185.1" cy="282.1" rx="5.3" ry="3.7" transform="rotate(116 185.1 282.1)" fill="#208a9a" stroke="#101810" stroke-opacity="0.4" stroke-width="0.7"/>
<ellipse cx="179.5" cy="273.0" rx="3.7" ry="3.5" transform="rotate(8 179.5 273.0)" fill="#2aa0c8" stroke="#101810" stroke-opacity="0.4" stroke-width="0.7"/>
<ellipse cx="190.1" cy="257.4" rx="4.8" ry="3.8" transform="rotate(32 190.1 257.4)" fill="#2438b0" stroke="#101810" stroke-opacity="0.4" stroke-width="0.7"/>
<ellipse cx="194.5" cy="276.7" rx="3.4" ry="3.8" transform="rotate(35 194.5 276.7)" fill="#208a9a" stroke="#101810" stroke-opacity="0.4" stroke-width="0.7"/>
<ellipse cx="160.9" cy="280.4" rx="4.0" ry="3.8" transform="rotate(126 160.9 280.4)" fill="#50c8c8" stroke="#101810" stroke-opacity="0.4" stroke-width="0.7"/>
<ellipse cx="155.8" cy="256.5" rx="3.5" ry="3.6" transform="rotate(131 155.8 256.5)" fill="#40c0a0" stroke="#101810" stroke-opacity="0.4" stroke-width="0.7"/>
<ellipse cx="170.2" cy="288.2" rx="5.5" ry="2.5" transform="rotate(28 170.2 288.2)" fill="#50c8c8" stroke="#101810" stroke-opacity="0.4" stroke-width="0.7"/>
<ellipse cx="142.9" cy="272.3" rx="5.6" ry="3.0" transform="rotate(143 142.9 272.3)" fill="#40c0a0" stroke="#101810" stroke-opacity="0.4" stroke-width="0.7"/>
<ellipse cx="161.9" cy="271.8" rx="4.6" ry="3.9" transform="rotate(138 161.9 271.8)" fill="#208a9a" stroke="#101810" stroke-opacity="0.4" stroke-width="0.7"/>
<ellipse cx="147.0" cy="275.7" rx="5.9" ry="3.2" transform="rotate(45 147.0 275.7)" fill="#2aa0c8" stroke="#101810" stroke-opacity="0.4" stroke-width="0.7"/>
<ellipse cx="162.9" cy="279.9" rx="3.6" ry="3.3" transform="rotate(49 162.9 279.9)" fill="#ffffff" stroke="#101810" stroke-opacity="0.4" stroke-width="0.7"/>
<ellipse cx="146.1" cy="260.6" rx="3.5" ry="3.2" transform="rotate(98 146.1 260.6)" fill="#50c8c8" stroke="#101810" stroke-opacity="0.4" stroke-width="0.7"/>
<ellipse cx="189.5" cy="254.1" rx="3.4" ry="2.7" transform="rotate(16 189.5 254.1)" fill="#50c8c8" stroke="#101810" stroke-opacity="0.4" stroke-width="0.7"/>
<ellipse cx="175.5" cy="263.5" rx="6.0" ry="2.8" transform="rotate(127 175.5 263.5)" fill="#208a9a" stroke="#101810" stroke-opacity="0.4" stroke-width="0.7"/>
<ellipse cx="192.7" cy="272.2" rx="3.5" ry="2.9" transform="rotate(71 192.7 272.2)" fill="#40c0a0" stroke="#101810" stroke-opacity="0.4" stroke-width="0.7"/>
<ellipse cx="150.5" cy="256.5" rx="5.7" ry="2.8" transform="rotate(127 150.5 256.5)" fill="#1c80c0" stroke="#101810" stroke-opacity="0.4" stroke-width="0.7"/>
<ellipse cx="160.3" cy="286.6" rx="3.7" ry="2.5" transform="rotate(177 160.3 286.6)" fill="#50c8c8" stroke="#101810" stroke-opacity="0.4" stroke-width="0.7"/>
<ellipse cx="158.8" cy="281.7" rx="3.5" ry="2.7" transform="rotate(134 158.8 281.7)" fill="#c0a820" stroke="#101810" stroke-opacity="0.4" stroke-width="0.7"/>
<ellipse cx="187.6" cy="262.0" rx="4.7" ry="2.8" transform="rotate(89 187.6 262.0)" fill="#ffffff" stroke="#101810" stroke-opacity="0.4" stroke-width="0.7"/>
<ellipse cx="143.2" cy="287.6" rx="4.2" ry="3.8" transform="rotate(100 143.2 287.6)" fill="#2aa0c8" stroke="#101810" stroke-opacity="0.4" stroke-width="0.7"/>
<ellipse cx="191.3" cy="272.8" rx="5.2" ry="3.8" transform="rotate(169 191.3 272.8)" fill="#2aa0c8" stroke="#101810" stroke-opacity="0.4" stroke-width="0.7"/>
<ellipse cx="165.2" cy="270.1" rx="5.0" ry="2.4" transform="rotate(64 165.2 270.1)" fill="#38c038" stroke="#101810" stroke-opacity="0.4" stroke-width="0.7"/>
<ellipse cx="158.7" cy="259.1" rx="5.0" ry="3.1" transform="rotate(147 158.7 259.1)" fill="#2aa0c8" stroke="#101810" stroke-opacity="0.4" stroke-width="0.7"/>
<ellipse cx="160.8" cy="280.7" rx="3.4" ry="3.1" transform="rotate(155 160.8 280.7)" fill="#1c80c0" stroke="#101810" stroke-opacity="0.4" stroke-width="0.7"/>
<ellipse cx="186.8" cy="286.9" rx="4.4" ry="3.4" transform="rotate(4 186.8 286.9)" fill="#40c0a0" stroke="#101810" stroke-opacity="0.4" stroke-width="0.7"/>
<ellipse cx="175.4" cy="283.8" rx="4.7" ry="3.5" transform="rotate(141 175.4 283.8)" fill="#1c80c0" stroke="#101810" stroke-opacity="0.4" stroke-width="0.7"/>
<ellipse cx="163.0" cy="256.3" rx="5.8" ry="2.4" transform="rotate(104 163.0 256.3)" fill="#40c0a0" stroke="#101810" stroke-opacity="0.4" stroke-width="0.7"/>
<ellipse cx="190.8" cy="253.7" rx="5.0" ry="3.7" transform="rotate(97 190.8 253.7)" fill="#208a9a" stroke="#101810" stroke-opacity="0.4" stroke-width="0.7"/>
<ellipse cx="178.1" cy="282.0" rx="3.8" ry="3.6" transform="rotate(94 178.1 282.0)" fill="#30b8b8" stroke="#101810" stroke-opacity="0.4" stroke-width="0.7"/>
<ellipse cx="182.1" cy="282.3" rx="4.5" ry="3.6" transform="rotate(52 182.1 282.3)" fill="#1c80c0" stroke="#101810" stroke-opacity="0.4" stroke-width="0.7"/>
<ellipse cx="146.5" cy="275.3" rx="3.3" ry="3.2" transform="rotate(169 146.5 275.3)" fill="#40c0a0" stroke="#101810" stroke-opacity="0.4" stroke-width="0.7"/>
<ellipse cx="142.2" cy="261.1" rx="4.0" ry="3.0" transform="rotate(134 142.2 261.1)" fill="#1c80c0" stroke="#101810" stroke-opacity="0.4" stroke-width="0.7"/>
<ellipse cx="176.0" cy="255.0" rx="4.3" ry="2.8" transform="rotate(99 176.0 255.0)" fill="#50c8c8" stroke="#101810" stroke-opacity="0.4" stroke-width="0.7"/>
<ellipse cx="145.2" cy="288.5" rx="4.5" ry="2.7" transform="rotate(90 145.2 288.5)" fill="#2aa0c8" stroke="#101810" stroke-opacity="0.4" stroke-width="0.7"/>
<ellipse cx="176.7" cy="265.6" rx="4.8" ry="4.0" transform="rotate(157 176.7 265.6)" fill="#2aa0c8" stroke="#101810" stroke-opacity="0.4" stroke-width="0.7"/>
<ellipse cx="145.0" cy="287.5" rx="5.6" ry="3.4" transform="rotate(147 145.0 287.5)" fill="#40c0a0" stroke="#101810" stroke-opacity="0.4" stroke-width="0.7"/>
<ellipse cx="159.9" cy="259.6" rx="3.7" ry="2.5" transform="rotate(178 159.9 259.6)" fill="#50c8c8" stroke="#101810" stroke-opacity="0.4" stroke-width="0.7"/>
<ellipse cx="187.5" cy="255.6" rx="3.3" ry="3.5" transform="rotate(21 187.5 255.6)" fill="#38c038" stroke="#101810" stroke-opacity="0.4" stroke-width="0.7"/>
<ellipse cx="143.1" cy="264.5" rx="5.7" ry="3.0" transform="rotate(6 143.1 264.5)" fill="#ffffff" stroke="#101810" stroke-opacity="0.4" stroke-width="0.7"/>
<ellipse cx="177.1" cy="270.5" rx="3.8" ry="2.5" transform="rotate(173 177.1 270.5)" fill="#208a9a" stroke="#101810" stroke-opacity="0.4" stroke-width="0.7"/>
<ellipse cx="176.1" cy="259.8" rx="5.2" ry="3.6" transform="rotate(41 176.1 259.8)" fill="#208a9a" stroke="#101810" stroke-opacity="0.4" stroke-width="0.7"/>
<ellipse cx="187.4" cy="287.3" rx="5.4" ry="3.4" transform="rotate(139 187.4 287.3)" fill="#40c0a0" stroke="#101810" stroke-opacity="0.4" stroke-width="0.7"/>
<ellipse cx="180.4" cy="279.0" rx="4.4" ry="2.9" transform="rotate(149 180.4 279.0)" fill="#2438b0" stroke="#101810" stroke-opacity="0.4" stroke-width="0.7"/>
<ellipse cx="157.0" cy="262.1" rx="5.4" ry="3.2" transform="rotate(59 157.0 262.1)" fill="#50c8c8" stroke="#101810" stroke-opacity="0.4" stroke-width="0.7"/>
<path d="M52.0,250.0 L72.0,215.0 L88.0,196.0" fill="none" stroke="#3cc03c" stroke-width="5" stroke-linecap="round"/>
<path d="M64.0,250.0 L84.0,218.0 L100.0,204.0" fill="none" stroke="#9a3418" stroke-width="3" stroke-linecap="round"/>
<path d="M150.0,206.0 L168.0,230.0 L182.0,262.0" fill="none" stroke="#2434a8" stroke-width="5" stroke-linecap="round"/>
<path d="M104.0,210.0 L130.0,206.0 L150.0,214.0" fill="none" stroke="#8a3418" stroke-width="3" stroke-linecap="round"/>
<ellipse cx="90.0" cy="222.0" rx="5.0" ry="2.6" transform="rotate(0 90.0 222.0)" fill="#c0a820" stroke="#101810" stroke-opacity="0.4" stroke-width="0.7"/>
<ellipse cx="90.8" cy="228.0" rx="5.0" ry="2.6" transform="rotate(0 90.8 228.0)" fill="#c0a820" stroke="#101810" stroke-opacity="0.4" stroke-width="0.7"/>
<ellipse cx="91.6" cy="234.0" rx="5.0" ry="2.6" transform="rotate(0 91.6 234.0)" fill="#c0a820" stroke="#101810" stroke-opacity="0.4" stroke-width="0.7"/>
<ellipse cx="92.4" cy="240.0" rx="5.0" ry="2.6" transform="rotate(0 92.4 240.0)" fill="#c0a820" stroke="#101810" stroke-opacity="0.4" stroke-width="0.7"/>
<ellipse cx="93.2" cy="246.0" rx="5.0" ry="2.6" transform="rotate(0 93.2 246.0)" fill="#c0a820" stroke="#101810" stroke-opacity="0.4" stroke-width="0.7"/>
<ellipse cx="48.0" cy="268.0" rx="4.4" ry="7.0" transform="rotate(0 48.0 268.0)" fill="#c81818" stroke="#101810" stroke-opacity="0.4" stroke-width="0.7"/>
<ellipse cx="57.0" cy="268.0" rx="4.4" ry="7.0" transform="rotate(0 57.0 268.0)" fill="#c81818" stroke="#101810" stroke-opacity="0.4" stroke-width="0.7"/>
<ellipse cx="66.0" cy="268.0" rx="4.4" ry="7.0" transform="rotate(0 66.0 268.0)" fill="#c81818" stroke="#101810" stroke-opacity="0.4" stroke-width="0.7"/>
<ellipse cx="75.0" cy="268.0" rx="4.4" ry="7.0" transform="rotate(0 75.0 268.0)" fill="#c81818" stroke="#101810" stroke-opacity="0.4" stroke-width="0.7"/>
<ellipse cx="84.0" cy="268.0" rx="4.4" ry="7.0" transform="rotate(0 84.0 268.0)" fill="#c81818" stroke="#101810" stroke-opacity="0.4" stroke-width="0.7"/>
<ellipse cx="93.0" cy="268.0" rx="4.4" ry="7.0" transform="rotate(0 93.0 268.0)" fill="#c81818" stroke="#101810" stroke-opacity="0.4" stroke-width="0.7"/>
<path d="M174.0,348.0 Q160.0,384.0 142.0,392.0 Q130.0,398.0 120.0,398.0 Q110.0,398.0 98.0,392.0 Q80.0,384.0 66.0,348.0" fill="none" stroke="#8ed88e" stroke-width="2.2"/>
<path d="M156.0,350.0 Q156.0,377.0 120.0,380.0 Q84.0,377.0 84.0,350.0" fill="none" stroke="#a6dca6" stroke-width="1.6"/>
<path d="M120.0,398.0 L120.0,372.0" fill="none" stroke="#8ed88e" stroke-width="2"/>
<path d="M182.0,348.0 Q202.0,340.0 196.0,314.0" fill="none" stroke="#8ec88e" stroke-width="2"/>
<path d="M58.0,348.0 Q36.0,340.0 42.0,312.0" fill="none" stroke="#a0c8a0" stroke-width="2"/>
<path d="M190.0,296.0 Q208.0,286.0 192.0,266.0" fill="none" stroke="#d8808c" stroke-width="1.6"/>
<path d="M186.0,290.0 Q200.0,280.0 184.0,270.0" fill="none" stroke="#e0a0a8" stroke-width="1.3"/>
<ellipse cx="150.2" cy="351.5" rx="4.5" ry="2.7" transform="rotate(143 150.2 351.5)" fill="#44bb44" stroke="#101810" stroke-opacity="0.4" stroke-width="0.7"/>
<ellipse cx="92.3" cy="358.0" rx="4.7" ry="3.7" transform="rotate(3 92.3 358.0)" fill="#30b8b8" stroke="#101810" stroke-opacity="0.4" stroke-width="0.7"/>
<ellipse cx="81.0" cy="361.2" rx="5.4" ry="2.8" transform="rotate(42 81.0 361.2)" fill="#68d860" stroke="#101810" stroke-opacity="0.4" stroke-width="0.7"/>
<ellipse cx="161.2" cy="340.1" rx="4.9" ry="2.5" transform="rotate(59 161.2 340.1)" fill="#a04020" stroke="#101810" stroke-opacity="0.4" stroke-width="0.7"/>
<ellipse cx="120.2" cy="372.7" rx="3.3" ry="3.6" transform="rotate(16 120.2 372.7)" fill="#2a9a3a" stroke="#101810" stroke-opacity="0.4" stroke-width="0.7"/>
<ellipse cx="92.2" cy="376.3" rx="4.7" ry="2.9" transform="rotate(87 92.2 376.3)" fill="#2a9a3a" stroke="#101810" stroke-opacity="0.4" stroke-width="0.7"/>
<ellipse cx="148.2" cy="375.6" rx="3.4" ry="2.7" transform="rotate(121 148.2 375.6)" fill="#52d052" stroke="#101810" stroke-opacity="0.4" stroke-width="0.7"/>
<ellipse cx="92.7" cy="352.7" rx="3.5" ry="3.2" transform="rotate(149 92.7 352.7)" fill="#2eae2e" stroke="#101810" stroke-opacity="0.4" stroke-width="0.7"/>
<ellipse cx="146.9" cy="342.8" rx="4.0" ry="3.9" transform="rotate(90 146.9 342.8)" fill="#a04020" stroke="#101810" stroke-opacity="0.4" stroke-width="0.7"/>
<ellipse cx="136.4" cy="359.1" rx="3.3" ry="2.5" transform="rotate(129 136.4 359.1)" fill="#2eae2e" stroke="#101810" stroke-opacity="0.4" stroke-width="0.7"/>
<ellipse cx="75.6" cy="358.6" rx="3.4" ry="3.4" transform="rotate(94 75.6 358.6)" fill="#ffffff" stroke="#101810" stroke-opacity="0.4" stroke-width="0.7"/>
<ellipse cx="113.6" cy="365.2" rx="3.7" ry="2.7" transform="rotate(63 113.6 365.2)" fill="#44bb44" stroke="#101810" stroke-opacity="0.4" stroke-width="0.7"/>
<ellipse cx="81.6" cy="364.2" rx="3.9" ry="2.7" transform="rotate(166 81.6 364.2)" fill="#44bb44" stroke="#101810" stroke-opacity="0.4" stroke-width="0.7"/>
<ellipse cx="149.3" cy="361.1" rx="5.1" ry="3.5" transform="rotate(162 149.3 361.1)" fill="#2a9a3a" stroke="#101810" stroke-opacity="0.4" stroke-width="0.7"/>
<ellipse cx="78.8" cy="361.9" rx="5.9" ry="3.3" transform="rotate(159 78.8 361.9)" fill="#2a9a3a" stroke="#101810" stroke-opacity="0.4" stroke-width="0.7"/>
<ellipse cx="120.8" cy="363.1" rx="5.8" ry="2.8" transform="rotate(101 120.8 363.1)" fill="#52d052" stroke="#101810" stroke-opacity="0.4" stroke-width="0.7"/>
<ellipse cx="125.5" cy="361.9" rx="3.4" ry="2.9" transform="rotate(154 125.5 361.9)" fill="#ffffff" stroke="#101810" stroke-opacity="0.4" stroke-width="0.7"/>
<ellipse cx="105.7" cy="375.7" rx="3.7" ry="2.5" transform="rotate(61 105.7 375.7)" fill="#52d052" stroke="#101810" stroke-opacity="0.4" stroke-width="0.7"/>
<ellipse cx="84.1" cy="340.6" rx="3.3" ry="2.6" transform="rotate(117 84.1 340.6)" fill="#ffffff" stroke="#101810" stroke-opacity="0.4" stroke-width="0.7"/>
<ellipse cx="83.0" cy="359.3" rx="5.7" ry="3.0" transform="rotate(28 83.0 359.3)" fill="#3cc83c" stroke="#101810" stroke-opacity="0.4" stroke-width="0.7"/>
<ellipse cx="131.8" cy="348.4" rx="4.8" ry="3.8" transform="rotate(55 131.8 348.4)" fill="#ffffff" stroke="#101810" stroke-opacity="0.4" stroke-width="0.7"/>
<ellipse cx="116.9" cy="366.8" rx="4.3" ry="2.6" transform="rotate(129 116.9 366.8)" fill="#3cc83c" stroke="#101810" stroke-opacity="0.4" stroke-width="0.7"/>
<ellipse cx="141.2" cy="364.9" rx="5.6" ry="3.3" transform="rotate(46 141.2 364.9)" fill="#52d052" stroke="#101810" stroke-opacity="0.4" stroke-width="0.7"/>
<ellipse cx="128.5" cy="341.5" rx="3.6" ry="2.6" transform="rotate(17 128.5 341.5)" fill="#68d860" stroke="#101810" stroke-opacity="0.4" stroke-width="0.7"/>
<ellipse cx="162.7" cy="360.5" rx="3.4" ry="2.6" transform="rotate(51 162.7 360.5)" fill="#68d860" stroke="#101810" stroke-opacity="0.4" stroke-width="0.7"/>
<ellipse cx="137.6" cy="342.1" rx="4.6" ry="2.8" transform="rotate(30 137.6 342.1)" fill="#8a3418" stroke="#101810" stroke-opacity="0.4" stroke-width="0.7"/>
<ellipse cx="148.4" cy="363.0" rx="4.9" ry="3.2" transform="rotate(134 148.4 363.0)" fill="#52d052" stroke="#101810" stroke-opacity="0.4" stroke-width="0.7"/>
<ellipse cx="159.9" cy="342.6" rx="4.5" ry="2.5" transform="rotate(138 159.9 342.6)" fill="#8a3418" stroke="#101810" stroke-opacity="0.4" stroke-width="0.7"/>
<ellipse cx="149.2" cy="350.7" rx="5.9" ry="3.4" transform="rotate(134 149.2 350.7)" fill="#2eae2e" stroke="#101810" stroke-opacity="0.4" stroke-width="0.7"/>
<ellipse cx="143.0" cy="371.2" rx="5.5" ry="3.7" transform="rotate(88 143.0 371.2)" fill="#44bb44" stroke="#101810" stroke-opacity="0.4" stroke-width="0.7"/>
<ellipse cx="113.4" cy="356.8" rx="4.6" ry="3.6" transform="rotate(174 113.4 356.8)" fill="#52d052" stroke="#101810" stroke-opacity="0.4" stroke-width="0.7"/>
<ellipse cx="137.1" cy="351.1" rx="5.3" ry="2.7" transform="rotate(111 137.1 351.1)" fill="#30b8b8" stroke="#101810" stroke-opacity="0.4" stroke-width="0.7"/>
<ellipse cx="135.7" cy="369.6" rx="4.1" ry="4.0" transform="rotate(19 135.7 369.6)" fill="#2eae2e" stroke="#101810" stroke-opacity="0.4" stroke-width="0.7"/>
<ellipse cx="91.7" cy="348.9" rx="4.6" ry="3.9" transform="rotate(122 91.7 348.9)" fill="#ffffff" stroke="#101810" stroke-opacity="0.4" stroke-width="0.7"/>
<ellipse cx="101.5" cy="359.6" rx="4.3" ry="3.0" transform="rotate(41 101.5 359.6)" fill="#30b8b8" stroke="#101810" stroke-opacity="0.4" stroke-width="0.7"/>
<ellipse cx="160.6" cy="360.9" rx="4.0" ry="3.3" transform="rotate(73 160.6 360.9)" fill="#52d052" stroke="#101810" stroke-opacity="0.4" stroke-width="0.7"/>
<ellipse cx="126.6" cy="347.5" rx="4.3" ry="3.2" transform="rotate(114 126.6 347.5)" fill="#8a3418" stroke="#101810" stroke-opacity="0.4" stroke-width="0.7"/>
<ellipse cx="121.8" cy="358.8" rx="5.4" ry="3.4" transform="rotate(137 121.8 358.8)" fill="#3cc83c" stroke="#101810" stroke-opacity="0.4" stroke-width="0.7"/>
<ellipse cx="104.9" cy="345.2" rx="3.9" ry="3.9" transform="rotate(69 104.9 345.2)" fill="#2eae2e" stroke="#101810" stroke-opacity="0.4" stroke-width="0.7"/>
<ellipse cx="109.7" cy="346.5" rx="3.7" ry="2.7" transform="rotate(158 109.7 346.5)" fill="#3cc83c" stroke="#101810" stroke-opacity="0.4" stroke-width="0.7"/>
<ellipse cx="100.5" cy="373.6" rx="3.4" ry="2.9" transform="rotate(170 100.5 373.6)" fill="#2a9a3a" stroke="#101810" stroke-opacity="0.4" stroke-width="0.7"/>
<ellipse cx="98.2" cy="359.9" rx="6.0" ry="2.7" transform="rotate(78 98.2 359.9)" fill="#44bb44" stroke="#101810" stroke-opacity="0.4" stroke-width="0.7"/>
<ellipse cx="103.9" cy="363.2" rx="3.9" ry="3.9" transform="rotate(58 103.9 363.2)" fill="#3cc83c" stroke="#101810" stroke-opacity="0.4" stroke-width="0.7"/>
<ellipse cx="142.1" cy="345.7" rx="5.7" ry="3.2" transform="rotate(43 142.1 345.7)" fill="#68d860" stroke="#101810" stroke-opacity="0.4" stroke-width="0.7"/>
<ellipse cx="103.1" cy="350.5" rx="5.8" ry="3.1" transform="rotate(79 103.1 350.5)" fill="#2a9a3a" stroke="#101810" stroke-opacity="0.4" stroke-width="0.7"/>
<ellipse cx="109.5" cy="366.6" rx="5.1" ry="3.4" transform="rotate(18 109.5 366.6)" fill="#2a9a3a" stroke="#101810" stroke-opacity="0.4" stroke-width="0.7"/>
<ellipse cx="133.4" cy="353.7" rx="3.3" ry="3.2" transform="rotate(7 133.4 353.7)" fill="#2a9a3a" stroke="#101810" stroke-opacity="0.4" stroke-width="0.7"/>
<ellipse cx="110.3" cy="351.1" rx="6.0" ry="3.9" transform="rotate(27 110.3 351.1)" fill="#52d052" stroke="#101810" stroke-opacity="0.4" stroke-width="0.7"/>
<ellipse cx="131.6" cy="376.9" rx="3.6" ry="3.7" transform="rotate(148 131.6 376.9)" fill="#2a9a3a" stroke="#101810" stroke-opacity="0.4" stroke-width="0.7"/>
<ellipse cx="117.4" cy="375.2" rx="4.4" ry="3.8" transform="rotate(44 117.4 375.2)" fill="#3cc83c" stroke="#101810" stroke-opacity="0.4" stroke-width="0.7"/>
<ellipse cx="113.3" cy="346.5" rx="5.7" ry="2.4" transform="rotate(105 113.3 346.5)" fill="#ffffff" stroke="#101810" stroke-opacity="0.4" stroke-width="0.7"/>
<ellipse cx="157.8" cy="343.7" rx="3.6" ry="3.2" transform="rotate(95 157.8 343.7)" fill="#3cc83c" stroke="#101810" stroke-opacity="0.4" stroke-width="0.7"/>
<ellipse cx="116.8" cy="358.8" rx="3.6" ry="2.6" transform="rotate(52 116.8 358.8)" fill="#68d860" stroke="#101810" stroke-opacity="0.4" stroke-width="0.7"/>
<ellipse cx="107.4" cy="376.7" rx="5.1" ry="2.7" transform="rotate(18 107.4 376.7)" fill="#2eae2e" stroke="#101810" stroke-opacity="0.4" stroke-width="0.7"/>
<ellipse cx="90.5" cy="363.7" rx="3.4" ry="2.5" transform="rotate(89 90.5 363.7)" fill="#2a9a3a" stroke="#101810" stroke-opacity="0.4" stroke-width="0.7"/>
<ellipse cx="103.7" cy="352.8" rx="3.3" ry="2.8" transform="rotate(65 103.7 352.8)" fill="#2a9a3a" stroke="#101810" stroke-opacity="0.4" stroke-width="0.7"/>
<ellipse cx="142.5" cy="369.6" rx="5.2" ry="3.2" transform="rotate(14 142.5 369.6)" fill="#3cc83c" stroke="#101810" stroke-opacity="0.4" stroke-width="0.7"/>
<ellipse cx="90.5" cy="369.1" rx="5.2" ry="3.4" transform="rotate(114 90.5 369.1)" fill="#52d052" stroke="#101810" stroke-opacity="0.4" stroke-width="0.7"/>
<ellipse cx="107.2" cy="376.2" rx="4.6" ry="2.7" transform="rotate(153 107.2 376.2)" fill="#2a9a3a" stroke="#101810" stroke-opacity="0.4" stroke-width="0.7"/>
<ellipse cx="92.4" cy="343.5" rx="3.8" ry="3.6" transform="rotate(162 92.4 343.5)" fill="#52d052" stroke="#101810" stroke-opacity="0.4" stroke-width="0.7"/>
<ellipse cx="117.0" cy="343.4" rx="4.3" ry="3.9" transform="rotate(169 117.0 343.4)" fill="#44bb44" stroke="#101810" stroke-opacity="0.4" stroke-width="0.7"/>
<ellipse cx="93.6" cy="376.6" rx="3.7" ry="2.8" transform="rotate(5 93.6 376.6)" fill="#2a9a3a" stroke="#101810" stroke-opacity="0.4" stroke-width="0.7"/>
<ellipse cx="131.1" cy="349.3" rx="5.8" ry="3.3" transform="rotate(159 131.1 349.3)" fill="#2a9a3a" stroke="#101810" stroke-opacity="0.4" stroke-width="0.7"/>
<ellipse cx="146.4" cy="340.1" rx="5.4" ry="3.6" transform="rotate(159 146.4 340.1)" fill="#44bb44" stroke="#101810" stroke-opacity="0.4" stroke-width="0.7"/>
<ellipse cx="132.4" cy="373.9" rx="4.9" ry="3.0" transform="rotate(121 132.4 373.9)" fill="#8a3418" stroke="#101810" stroke-opacity="0.4" stroke-width="0.7"/>
<ellipse cx="87.0" cy="355.8" rx="5.8" ry="3.9" transform="rotate(136 87.0 355.8)" fill="#3cc83c" stroke="#101810" stroke-opacity="0.4" stroke-width="0.7"/>
<ellipse cx="76.4" cy="349.6" rx="3.8" ry="3.3" transform="rotate(67 76.4 349.6)" fill="#44bb44" stroke="#101810" stroke-opacity="0.4" stroke-width="0.7"/>
<ellipse cx="75.8" cy="366.0" rx="3.9" ry="3.1" transform="rotate(115 75.8 366.0)" fill="#2a9a3a" stroke="#101810" stroke-opacity="0.4" stroke-width="0.7"/>
<ellipse cx="95.6" cy="349.2" rx="3.9" ry="3.1" transform="rotate(68 95.6 349.2)" fill="#3cc83c" stroke="#101810" stroke-opacity="0.4" stroke-width="0.7"/>
<ellipse cx="120.9" cy="367.2" rx="3.8" ry="3.7" transform="rotate(60 120.9 367.2)" fill="#ffffff" stroke="#101810" stroke-opacity="0.4" stroke-width="0.7"/>
<ellipse cx="125.4" cy="365.8" rx="5.2" ry="4.0" transform="rotate(68 125.4 365.8)" fill="#68d860" stroke="#101810" stroke-opacity="0.4" stroke-width="0.7"/>
<ellipse cx="129.6" cy="376.9" rx="4.8" ry="4.0" transform="rotate(35 129.6 376.9)" fill="#44bb44" stroke="#101810" stroke-opacity="0.4" stroke-width="0.7"/>
<ellipse cx="144.5" cy="349.8" rx="5.1" ry="2.4" transform="rotate(165 144.5 349.8)" fill="#ffffff" stroke="#101810" stroke-opacity="0.4" stroke-width="0.7"/>
<ellipse cx="153.1" cy="364.7" rx="4.3" ry="3.4" transform="rotate(108 153.1 364.7)" fill="#2a9a3a" stroke="#101810" stroke-opacity="0.4" stroke-width="0.7"/>
<ellipse cx="102.6" cy="345.0" rx="4.2" ry="2.8" transform="rotate(141 102.6 345.0)" fill="#44bb44" stroke="#101810" stroke-opacity="0.4" stroke-width="0.7"/>
<ellipse cx="93.6" cy="342.7" rx="4.9" ry="2.9" transform="rotate(153 93.6 342.7)" fill="#3cc83c" stroke="#101810" stroke-opacity="0.4" stroke-width="0.7"/>
<ellipse cx="97.9" cy="367.8" rx="3.6" ry="3.7" transform="rotate(48 97.9 367.8)" fill="#68d860" stroke="#101810" stroke-opacity="0.4" stroke-width="0.7"/>
<ellipse cx="103.6" cy="366.1" rx="4.6" ry="2.6" transform="rotate(139 103.6 366.1)" fill="#3cc83c" stroke="#101810" stroke-opacity="0.4" stroke-width="0.7"/>
<ellipse cx="120.4" cy="375.8" rx="5.8" ry="3.2" transform="rotate(2 120.4 375.8)" fill="#68d860" stroke="#101810" stroke-opacity="0.4" stroke-width="0.7"/>
<ellipse cx="89.2" cy="366.5" rx="5.1" ry="3.1" transform="rotate(22 89.2 366.5)" fill="#2eae2e" stroke="#101810" stroke-opacity="0.4" stroke-width="0.7"/>
<ellipse cx="85.7" cy="352.8" rx="6.0" ry="2.8" transform="rotate(127 85.7 352.8)" fill="#3cc83c" stroke="#101810" stroke-opacity="0.4" stroke-width="0.7"/>
<ellipse cx="121.1" cy="357.1" rx="4.4" ry="2.4" transform="rotate(171 121.1 357.1)" fill="#2a9a3a" stroke="#101810" stroke-opacity="0.4" stroke-width="0.7"/>
<ellipse cx="152.2" cy="362.1" rx="5.0" ry="3.1" transform="rotate(92 152.2 362.1)" fill="#ffffff" stroke="#101810" stroke-opacity="0.4" stroke-width="0.7"/>
<ellipse cx="144.9" cy="347.8" rx="5.6" ry="3.8" transform="rotate(152 144.9 347.8)" fill="#3cc83c" stroke="#101810" stroke-opacity="0.4" stroke-width="0.7"/>
<ellipse cx="95.3" cy="343.6" rx="4.2" ry="2.6" transform="rotate(2 95.3 343.6)" fill="#2eae2e" stroke="#101810" stroke-opacity="0.4" stroke-width="0.7"/>
<ellipse cx="140.6" cy="351.4" rx="3.8" ry="2.5" transform="rotate(34 140.6 351.4)" fill="#44bb44" stroke="#101810" stroke-opacity="0.4" stroke-width="0.7"/>
<ellipse cx="151.3" cy="353.9" rx="3.8" ry="2.6" transform="rotate(96 151.3 353.9)" fill="#68d860" stroke="#101810" stroke-opacity="0.4" stroke-width="0.7"/>
<ellipse cx="154.6" cy="362.0" rx="3.8" ry="3.5" transform="rotate(97 154.6 362.0)" fill="#44bb44" stroke="#101810" stroke-opacity="0.4" stroke-width="0.7"/>
<ellipse cx="157.4" cy="368.0" rx="3.9" ry="3.1" transform="rotate(142 157.4 368.0)" fill="#44bb44" stroke="#101810" stroke-opacity="0.4" stroke-width="0.7"/>
<ellipse cx="81.4" cy="351.2" rx="4.3" ry="3.9" transform="rotate(145 81.4 351.2)" fill="#3cc83c" stroke="#101810" stroke-opacity="0.4" stroke-width="0.7"/>
<ellipse cx="103.2" cy="344.3" rx="3.3" ry="3.2" transform="rotate(160 103.2 344.3)" fill="#a04020" stroke="#101810" stroke-opacity="0.4" stroke-width="0.7"/>
<ellipse cx="95.6" cy="355.6" rx="3.3" ry="3.4" transform="rotate(140 95.6 355.6)" fill="#2a9a3a" stroke="#101810" stroke-opacity="0.4" stroke-width="0.7"/>
<ellipse cx="141.9" cy="359.5" rx="4.7" ry="2.7" transform="rotate(61 141.9 359.5)" fill="#2eae2e" stroke="#101810" stroke-opacity="0.4" stroke-width="0.7"/>
<ellipse cx="105.2" cy="352.7" rx="5.8" ry="2.9" transform="rotate(21 105.2 352.7)" fill="#8a3418" stroke="#101810" stroke-opacity="0.4" stroke-width="0.7"/>
<ellipse cx="112.4" cy="359.0" rx="5.3" ry="2.6" transform="rotate(56 112.4 359.0)" fill="#68d860" stroke="#101810" stroke-opacity="0.4" stroke-width="0.7"/>
<ellipse cx="154.9" cy="352.5" rx="5.7" ry="2.5" transform="rotate(134 154.9 352.5)" fill="#ffffff" stroke="#101810" stroke-opacity="0.4" stroke-width="0.7"/>
<ellipse cx="90.5" cy="358.0" rx="5.0" ry="3.2" transform="rotate(100 90.5 358.0)" fill="#44bb44" stroke="#101810" stroke-opacity="0.4" stroke-width="0.7"/>
<ellipse cx="132.3" cy="369.7" rx="5.0" ry="3.4" transform="rotate(78 132.3 369.7)" fill="#ffffff" stroke="#101810" stroke-opacity="0.4" stroke-width="0.7"/>
<ellipse cx="95.7" cy="376.3" rx="3.8" ry="2.5" transform="rotate(39 95.7 376.3)" fill="#30b8b8" stroke="#101810" stroke-opacity="0.4" stroke-width="0.7"/>
<ellipse cx="86.8" cy="364.5" rx="5.6" ry="3.9" transform="rotate(45 86.8 364.5)" fill="#52d052" stroke="#101810" stroke-opacity="0.4" stroke-width="0.7"/>
<ellipse cx="133.1" cy="345.7" rx="4.0" ry="3.4" transform="rotate(150 133.1 345.7)" fill="#3cc83c" stroke="#101810" stroke-opacity="0.4" stroke-width="0.7"/>
<ellipse cx="102.8" cy="359.2" rx="4.2" ry="3.8" transform="rotate(117 102.8 359.2)" fill="#68d860" stroke="#101810" stroke-opacity="0.4" stroke-width="0.7"/>
<ellipse cx="187.9" cy="314.2" rx="5.7" ry="2.8" transform="rotate(179 187.9 314.2)" fill="#1c2c90" stroke="#101810" stroke-opacity="0.4" stroke-width="0.7"/>
<ellipse cx="186.2" cy="335.4" rx="5.2" ry="2.4" transform="rotate(104 186.2 335.4)" fill="#4a40a0" stroke="#101810" stroke-opacity="0.4" stroke-width="0.7"/>
<ellipse cx="161.5" cy="344.9" rx="5.4" ry="3.8" transform="rotate(161 161.5 344.9)" fill="#2c4cd0" stroke="#101810" stroke-opacity="0.4" stroke-width="0.7"/>
<ellipse cx="165.4" cy="301.2" rx="5.0" ry="3.5" transform="rotate(38 165.4 301.2)" fill="#30b8b8" stroke="#101810" stroke-opacity="0.4" stroke-width="0.7"/>
<ellipse cx="193.0" cy="305.6" rx="5.1" ry="2.9" transform="rotate(23 193.0 305.6)" fill="#3cc83c" stroke="#101810" stroke-opacity="0.4" stroke-width="0.7"/>
<ellipse cx="183.8" cy="349.2" rx="5.3" ry="2.7" transform="rotate(20 183.8 349.2)" fill="#2438b0" stroke="#101810" stroke-opacity="0.4" stroke-width="0.7"/>
<ellipse cx="180.1" cy="352.8" rx="3.5" ry="3.2" transform="rotate(53 180.1 352.8)" fill="#2a40c0" stroke="#101810" stroke-opacity="0.4" stroke-width="0.7"/>
<ellipse cx="181.3" cy="316.4" rx="5.3" ry="3.9" transform="rotate(100 181.3 316.4)" fill="#52d052" stroke="#101810" stroke-opacity="0.4" stroke-width="0.7"/>
<ellipse cx="182.8" cy="311.9" rx="4.5" ry="3.9" transform="rotate(159 182.8 311.9)" fill="#1c2c90" stroke="#101810" stroke-opacity="0.4" stroke-width="0.7"/>
<ellipse cx="188.9" cy="337.1" rx="4.2" ry="3.9" transform="rotate(63 188.9 337.1)" fill="#2aa0c8" stroke="#101810" stroke-opacity="0.4" stroke-width="0.7"/>
<ellipse cx="173.4" cy="310.3" rx="5.4" ry="2.7" transform="rotate(174 173.4 310.3)" fill="#1c2c90" stroke="#101810" stroke-opacity="0.4" stroke-width="0.7"/>
<ellipse cx="198.2" cy="312.0" rx="4.6" ry="2.5" transform="rotate(5 198.2 312.0)" fill="#2438b0" stroke="#101810" stroke-opacity="0.4" stroke-width="0.7"/>
<ellipse cx="186.4" cy="318.1" rx="5.6" ry="3.8" transform="rotate(112 186.4 318.1)" fill="#2c4cd0" stroke="#101810" stroke-opacity="0.4" stroke-width="0.7"/>
<ellipse cx="192.9" cy="313.6" rx="3.7" ry="3.6" transform="rotate(74 192.9 313.6)" fill="#3a5ad8" stroke="#101810" stroke-opacity="0.4" stroke-width="0.7"/>
<ellipse cx="186.3" cy="315.6" rx="5.4" ry="3.8" transform="rotate(134 186.3 315.6)" fill="#3cc83c" stroke="#101810" stroke-opacity="0.4" stroke-width="0.7"/>
<ellipse cx="169.4" cy="343.1" rx="3.8" ry="3.7" transform="rotate(139 169.4 343.1)" fill="#2a40c0" stroke="#101810" stroke-opacity="0.4" stroke-width="0.7"/>
<ellipse cx="192.0" cy="302.5" rx="4.5" ry="3.5" transform="rotate(141 192.0 302.5)" fill="#2eae2e" stroke="#101810" stroke-opacity="0.4" stroke-width="0.7"/>
<ellipse cx="192.2" cy="321.9" rx="5.7" ry="3.9" transform="rotate(15 192.2 321.9)" fill="#2c4cd0" stroke="#101810" stroke-opacity="0.4" stroke-width="0.7"/>
<ellipse cx="170.0" cy="329.3" rx="5.5" ry="3.9" transform="rotate(111 170.0 329.3)" fill="#4a40a0" stroke="#101810" stroke-opacity="0.4" stroke-width="0.7"/>
<ellipse cx="199.6" cy="313.3" rx="4.7" ry="3.6" transform="rotate(0 199.6 313.3)" fill="#3a5ad8" stroke="#101810" stroke-opacity="0.4" stroke-width="0.7"/>
<ellipse cx="162.7" cy="307.3" rx="3.5" ry="3.1" transform="rotate(177 162.7 307.3)" fill="#2eae2e" stroke="#101810" stroke-opacity="0.4" stroke-width="0.7"/>
<ellipse cx="163.7" cy="312.1" rx="5.3" ry="2.7" transform="rotate(54 163.7 312.1)" fill="#30b8b8" stroke="#101810" stroke-opacity="0.4" stroke-width="0.7"/>
<ellipse cx="167.9" cy="344.2" rx="5.8" ry="2.6" transform="rotate(165 167.9 344.2)" fill="#1c2c90" stroke="#101810" stroke-opacity="0.4" stroke-width="0.7"/>
<ellipse cx="172.5" cy="325.2" rx="4.3" ry="3.6" transform="rotate(66 172.5 325.2)" fill="#4a40a0" stroke="#101810" stroke-opacity="0.4" stroke-width="0.7"/>
<ellipse cx="178.6" cy="305.0" rx="5.7" ry="3.1" transform="rotate(85 178.6 305.0)" fill="#2438b0" stroke="#101810" stroke-opacity="0.4" stroke-width="0.7"/>
<ellipse cx="178.3" cy="343.2" rx="4.5" ry="3.6" transform="rotate(123 178.3 343.2)" fill="#40c0a0" stroke="#101810" stroke-opacity="0.4" stroke-width="0.7"/>
<ellipse cx="186.8" cy="321.9" rx="4.7" ry="3.6" transform="rotate(114 186.8 321.9)" fill="#30b8b8" stroke="#101810" stroke-opacity="0.4" stroke-width="0.7"/>
<ellipse cx="161.0" cy="341.9" rx="5.9" ry="3.2" transform="rotate(163 161.0 341.9)" fill="#4a40a0" stroke="#101810" stroke-opacity="0.4" stroke-width="0.7"/>
<ellipse cx="196.0" cy="315.8" rx="5.5" ry="3.2" transform="rotate(107 196.0 315.8)" fill="#1c2c90" stroke="#101810" stroke-opacity="0.4" stroke-width="0.7"/>
<ellipse cx="188.6" cy="328.4" rx="5.6" ry="3.4" transform="rotate(113 188.6 328.4)" fill="#1c2c90" stroke="#101810" stroke-opacity="0.4" stroke-width="0.7"/>
<ellipse cx="195.1" cy="340.3" rx="3.8" ry="3.3" transform="rotate(125 195.1 340.3)" fill="#1c2c90" stroke="#101810" stroke-opacity="0.4" stroke-width="0.7"/>
<ellipse cx="178.6" cy="325.4" rx="5.0" ry="3.5" transform="rotate(179 178.6 325.4)" fill="#2c4cd0" stroke="#101810" stroke-opacity="0.4" stroke-width="0.7"/>
<ellipse cx="164.4" cy="334.4" rx="4.4" ry="2.4" transform="rotate(53 164.4 334.4)" fill="#4a40a0" stroke="#101810" stroke-opacity="0.4" stroke-width="0.7"/>
<ellipse cx="184.2" cy="345.8" rx="5.8" ry="3.4" transform="rotate(154 184.2 345.8)" fill="#1c2c90" stroke="#101810" stroke-opacity="0.4" stroke-width="0.7"/>
<ellipse cx="179.4" cy="323.6" rx="3.4" ry="3.0" transform="rotate(67 179.4 323.6)" fill="#2c4cd0" stroke="#101810" stroke-opacity="0.4" stroke-width="0.7"/>
<ellipse cx="185.7" cy="332.6" rx="3.9" ry="2.7" transform="rotate(161 185.7 332.6)" fill="#2c4cd0" stroke="#101810" stroke-opacity="0.4" stroke-width="0.7"/>
<ellipse cx="163.7" cy="351.1" rx="3.7" ry="3.3" transform="rotate(57 163.7 351.1)" fill="#2c4cd0" stroke="#101810" stroke-opacity="0.4" stroke-width="0.7"/>
<ellipse cx="177.9" cy="304.6" rx="3.3" ry="2.5" transform="rotate(121 177.9 304.6)" fill="#1c2c90" stroke="#101810" stroke-opacity="0.4" stroke-width="0.7"/>
<ellipse cx="165.3" cy="324.6" rx="3.7" ry="3.0" transform="rotate(148 165.3 324.6)" fill="#4a40a0" stroke="#101810" stroke-opacity="0.4" stroke-width="0.7"/>
<ellipse cx="180.5" cy="354.6" rx="3.6" ry="3.9" transform="rotate(68 180.5 354.6)" fill="#4a40a0" stroke="#101810" stroke-opacity="0.4" stroke-width="0.7"/>
<ellipse cx="173.7" cy="347.6" rx="4.2" ry="3.5" transform="rotate(37 173.7 347.6)" fill="#3cc83c" stroke="#101810" stroke-opacity="0.4" stroke-width="0.7"/>
<ellipse cx="178.4" cy="346.8" rx="5.9" ry="2.5" transform="rotate(174 178.4 346.8)" fill="#3a5ad8" stroke="#101810" stroke-opacity="0.4" stroke-width="0.7"/>
<ellipse cx="166.4" cy="337.8" rx="5.4" ry="3.2" transform="rotate(15 166.4 337.8)" fill="#3cc83c" stroke="#101810" stroke-opacity="0.4" stroke-width="0.7"/>
<ellipse cx="169.5" cy="334.1" rx="4.8" ry="2.6" transform="rotate(93 169.5 334.1)" fill="#2aa0c8" stroke="#101810" stroke-opacity="0.4" stroke-width="0.7"/>
<ellipse cx="196.3" cy="309.0" rx="4.3" ry="3.4" transform="rotate(147 196.3 309.0)" fill="#2eae2e" stroke="#101810" stroke-opacity="0.4" stroke-width="0.7"/>
<ellipse cx="168.0" cy="306.6" rx="4.4" ry="3.4" transform="rotate(10 168.0 306.6)" fill="#2c4cd0" stroke="#101810" stroke-opacity="0.4" stroke-width="0.7"/>
<ellipse cx="166.7" cy="316.6" rx="3.9" ry="2.8" transform="rotate(103 166.7 316.6)" fill="#1c2c90" stroke="#101810" stroke-opacity="0.4" stroke-width="0.7"/>
<ellipse cx="176.5" cy="343.7" rx="4.3" ry="2.9" transform="rotate(170 176.5 343.7)" fill="#52d052" stroke="#101810" stroke-opacity="0.4" stroke-width="0.7"/>
<ellipse cx="162.0" cy="346.2" rx="5.6" ry="2.9" transform="rotate(148 162.0 346.2)" fill="#4a40a0" stroke="#101810" stroke-opacity="0.4" stroke-width="0.7"/>
<ellipse cx="171.3" cy="355.5" rx="5.9" ry="2.5" transform="rotate(21 171.3 355.5)" fill="#1c2c90" stroke="#101810" stroke-opacity="0.4" stroke-width="0.7"/>
<ellipse cx="179.1" cy="319.7" rx="5.4" ry="4.0" transform="rotate(59 179.1 319.7)" fill="#2a40c0" stroke="#101810" stroke-opacity="0.4" stroke-width="0.7"/>
<ellipse cx="190.4" cy="342.2" rx="3.7" ry="3.6" transform="rotate(14 190.4 342.2)" fill="#2a40c0" stroke="#101810" stroke-opacity="0.4" stroke-width="0.7"/>
<ellipse cx="184.4" cy="333.9" rx="5.9" ry="3.2" transform="rotate(88 184.4 333.9)" fill="#40c0a0" stroke="#101810" stroke-opacity="0.4" stroke-width="0.7"/>
<ellipse cx="162.1" cy="314.1" rx="3.4" ry="3.4" transform="rotate(170 162.1 314.1)" fill="#2a40c0" stroke="#101810" stroke-opacity="0.4" stroke-width="0.7"/>
<ellipse cx="169.9" cy="303.6" rx="4.4" ry="2.8" transform="rotate(50 169.9 303.6)" fill="#2438b0" stroke="#101810" stroke-opacity="0.4" stroke-width="0.7"/>
<ellipse cx="191.3" cy="347.4" rx="3.3" ry="3.4" transform="rotate(108 191.3 347.4)" fill="#2438b0" stroke="#101810" stroke-opacity="0.4" stroke-width="0.7"/>
<ellipse cx="169.1" cy="324.7" rx="4.0" ry="2.5" transform="rotate(105 169.1 324.7)" fill="#3cc83c" stroke="#101810" stroke-opacity="0.4" stroke-width="0.7"/>
<ellipse cx="188.7" cy="300.7" rx="5.1" ry="3.7" transform="rotate(44 188.7 300.7)" fill="#2c4cd0" stroke="#101810" stroke-opacity="0.4" stroke-width="0.7"/>
<ellipse cx="179.6" cy="335.2" rx="3.4" ry="4.0" transform="rotate(134 179.6 335.2)" fill="#4a40a0" stroke="#101810" stroke-opacity="0.4" stroke-width="0.7"/>
<ellipse cx="162.4" cy="355.1" rx="4.7" ry="3.3" transform="rotate(57 162.4 355.1)" fill="#30b8b8" stroke="#101810" stroke-opacity="0.4" stroke-width="0.7"/>
<ellipse cx="170.4" cy="316.5" rx="4.8" ry="2.8" transform="rotate(113 170.4 316.5)" fill="#1c2c90" stroke="#101810" stroke-opacity="0.4" stroke-width="0.7"/>
<ellipse cx="197.9" cy="314.6" rx="3.7" ry="2.5" transform="rotate(173 197.9 314.6)" fill="#3a5ad8" stroke="#101810" stroke-opacity="0.4" stroke-width="0.7"/>
<ellipse cx="162.4" cy="324.6" rx="4.6" ry="2.7" transform="rotate(111 162.4 324.6)" fill="#1c2c90" stroke="#101810" stroke-opacity="0.4" stroke-width="0.7"/>
<ellipse cx="196.5" cy="332.3" rx="5.4" ry="3.0" transform="rotate(85 196.5 332.3)" fill="#1c2c90" stroke="#101810" stroke-opacity="0.4" stroke-width="0.7"/>
<ellipse cx="167.1" cy="342.7" rx="5.9" ry="3.6" transform="rotate(61 167.1 342.7)" fill="#30b8b8" stroke="#101810" stroke-opacity="0.4" stroke-width="0.7"/>
<ellipse cx="177.6" cy="337.8" rx="3.6" ry="3.2" transform="rotate(117 177.6 337.8)" fill="#2438b0" stroke="#101810" stroke-opacity="0.4" stroke-width="0.7"/>
<ellipse cx="173.1" cy="303.0" rx="3.2" ry="2.4" transform="rotate(176 173.1 303.0)" fill="#4a40a0" stroke="#101810" stroke-opacity="0.4" stroke-width="0.7"/>
<ellipse cx="160.5" cy="352.9" rx="3.9" ry="2.5" transform="rotate(116 160.5 352.9)" fill="#4a40a0" stroke="#101810" stroke-opacity="0.4" stroke-width="0.7"/>
<ellipse cx="172.4" cy="344.3" rx="3.8" ry="3.0" transform="rotate(87 172.4 344.3)" fill="#2438b0" stroke="#101810" stroke-opacity="0.4" stroke-width="0.7"/>
<ellipse cx="172.8" cy="340.9" rx="4.0" ry="3.0" transform="rotate(37 172.8 340.9)" fill="#1c2c90" stroke="#101810" stroke-opacity="0.4" stroke-width="0.7"/>
<ellipse cx="165.6" cy="346.5" rx="5.6" ry="2.5" transform="rotate(141 165.6 346.5)" fill="#2a40c0" stroke="#101810" stroke-opacity="0.4" stroke-width="0.7"/>
<ellipse cx="189.7" cy="342.3" rx="4.8" ry="3.1" transform="rotate(116 189.7 342.3)" fill="#40c0a0" stroke="#101810" stroke-opacity="0.4" stroke-width="0.7"/>
<ellipse cx="186.8" cy="348.2" rx="5.3" ry="2.5" transform="rotate(7 186.8 348.2)" fill="#2438b0" stroke="#101810" stroke-opacity="0.4" stroke-width="0.7"/>
<ellipse cx="180.7" cy="328.9" rx="4.5" ry="3.2" transform="rotate(150 180.7 328.9)" fill="#52d052" stroke="#101810" stroke-opacity="0.4" stroke-width="0.7"/>
<ellipse cx="178.2" cy="332.2" rx="3.6" ry="3.8" transform="rotate(93 178.2 332.2)" fill="#2c4cd0" stroke="#101810" stroke-opacity="0.4" stroke-width="0.7"/>
<ellipse cx="198.2" cy="329.6" rx="5.9" ry="3.1" transform="rotate(48 198.2 329.6)" fill="#40c0a0" stroke="#101810" stroke-opacity="0.4" stroke-width="0.7"/>
<ellipse cx="147.2" cy="344.4" rx="3.9" ry="2.9" transform="rotate(148 147.2 344.4)" fill="#3cc83c" stroke="#101810" stroke-opacity="0.4" stroke-width="0.7"/>
<ellipse cx="173.5" cy="341.6" rx="5.2" ry="3.0" transform="rotate(32 173.5 341.6)" fill="#b0441c" stroke="#101810" stroke-opacity="0.4" stroke-width="0.7"/>
<ellipse cx="155.1" cy="334.9" rx="3.8" ry="3.4" transform="rotate(34 155.1 334.9)" fill="#b0441c" stroke="#101810" stroke-opacity="0.4" stroke-width="0.7"/>
<ellipse cx="158.9" cy="346.9" rx="4.6" ry="3.4" transform="rotate(68 158.9 346.9)" fill="#3a4ab8" stroke="#101810" stroke-opacity="0.4" stroke-width="0.7"/>
<ellipse cx="177.3" cy="307.2" rx="5.3" ry="3.8" transform="rotate(99 177.3 307.2)" fill="#b0441c" stroke="#101810" stroke-opacity="0.4" stroke-width="0.7"/>
<ellipse cx="145.2" cy="332.7" rx="3.4" ry="3.0" transform="rotate(103 145.2 332.7)" fill="#2a9a3a" stroke="#101810" stroke-opacity="0.4" stroke-width="0.7"/>
<ellipse cx="151.4" cy="329.7" rx="4.2" ry="3.5" transform="rotate(143 151.4 329.7)" fill="#2a9a3a" stroke="#101810" stroke-opacity="0.4" stroke-width="0.7"/>
<ellipse cx="159.0" cy="360.7" rx="5.3" ry="3.0" transform="rotate(80 159.0 360.7)" fill="#ffffff" stroke="#101810" stroke-opacity="0.4" stroke-width="0.7"/>
<ellipse cx="152.2" cy="310.3" rx="5.2" ry="2.5" transform="rotate(37 152.2 310.3)" fill="#ffffff" stroke="#101810" stroke-opacity="0.4" stroke-width="0.7"/>
<ellipse cx="155.7" cy="304.7" rx="5.9" ry="3.5" transform="rotate(29 155.7 304.7)" fill="#52d052" stroke="#101810" stroke-opacity="0.4" stroke-width="0.7"/>
<ellipse cx="172.9" cy="334.5" rx="3.4" ry="3.8" transform="rotate(88 172.9 334.5)" fill="#3a4ab8" stroke="#101810" stroke-opacity="0.4" stroke-width="0.7"/>
<ellipse cx="158.6" cy="353.7" rx="4.4" ry="3.3" transform="rotate(25 158.6 353.7)" fill="#ffffff" stroke="#101810" stroke-opacity="0.4" stroke-width="0.7"/>
<ellipse cx="157.2" cy="361.9" rx="4.8" ry="3.4" transform="rotate(62 157.2 361.9)" fill="#3cc83c" stroke="#101810" stroke-opacity="0.4" stroke-width="0.7"/>
<ellipse cx="152.7" cy="342.8" rx="5.8" ry="3.6" transform="rotate(155 152.7 342.8)" fill="#3a4ab8" stroke="#101810" stroke-opacity="0.4" stroke-width="0.7"/>
<ellipse cx="162.0" cy="343.6" rx="4.2" ry="3.0" transform="rotate(129 162.0 343.6)" fill="#8a3418" stroke="#101810" stroke-opacity="0.4" stroke-width="0.7"/>
<ellipse cx="170.9" cy="327.3" rx="4.4" ry="3.9" transform="rotate(7 170.9 327.3)" fill="#b0441c" stroke="#101810" stroke-opacity="0.4" stroke-width="0.7"/>
<ellipse cx="172.2" cy="358.8" rx="5.7" ry="3.4" transform="rotate(83 172.2 358.8)" fill="#68d860" stroke="#101810" stroke-opacity="0.4" stroke-width="0.7"/>
<ellipse cx="177.3" cy="321.9" rx="4.2" ry="3.5" transform="rotate(96 177.3 321.9)" fill="#6040b0" stroke="#101810" stroke-opacity="0.4" stroke-width="0.7"/>
<ellipse cx="176.8" cy="308.7" rx="3.8" ry="2.8" transform="rotate(76 176.8 308.7)" fill="#68d860" stroke="#101810" stroke-opacity="0.4" stroke-width="0.7"/>
<ellipse cx="176.6" cy="306.8" rx="5.6" ry="2.6" transform="rotate(99 176.6 306.8)" fill="#3cc83c" stroke="#101810" stroke-opacity="0.4" stroke-width="0.7"/>
<ellipse cx="164.9" cy="308.3" rx="3.6" ry="2.9" transform="rotate(22 164.9 308.3)" fill="#ffffff" stroke="#101810" stroke-opacity="0.4" stroke-width="0.7"/>
<ellipse cx="166.3" cy="353.1" rx="3.8" ry="3.6" transform="rotate(23 166.3 353.1)" fill="#3cc83c" stroke="#101810" stroke-opacity="0.4" stroke-width="0.7"/>
<ellipse cx="148.0" cy="324.8" rx="4.6" ry="2.8" transform="rotate(102 148.0 324.8)" fill="#b0441c" stroke="#101810" stroke-opacity="0.4" stroke-width="0.7"/>
<ellipse cx="152.1" cy="357.4" rx="4.0" ry="3.0" transform="rotate(50 152.1 357.4)" fill="#52d052" stroke="#101810" stroke-opacity="0.4" stroke-width="0.7"/>
<ellipse cx="150.1" cy="357.6" rx="3.8" ry="3.2" transform="rotate(168 150.1 357.6)" fill="#2a9a3a" stroke="#101810" stroke-opacity="0.4" stroke-width="0.7"/>
<ellipse cx="173.7" cy="344.4" rx="3.7" ry="3.8" transform="rotate(27 173.7 344.4)" fill="#68d860" stroke="#101810" stroke-opacity="0.4" stroke-width="0.7"/>
<ellipse cx="158.7" cy="360.6" rx="5.4" ry="2.8" transform="rotate(70 158.7 360.6)" fill="#68d860" stroke="#101810" stroke-opacity="0.4" stroke-width="0.7"/>
<ellipse cx="166.5" cy="334.8" rx="5.6" ry="3.7" transform="rotate(178 166.5 334.8)" fill="#2eae2e" stroke="#101810" stroke-opacity="0.4" stroke-width="0.7"/>
<ellipse cx="171.8" cy="302.9" rx="4.5" ry="3.6" transform="rotate(22 171.8 302.9)" fill="#b0441c" stroke="#101810" stroke-opacity="0.4" stroke-width="0.7"/>
<ellipse cx="160.2" cy="309.5" rx="4.9" ry="2.8" transform="rotate(35 160.2 309.5)" fill="#68d860" stroke="#101810" stroke-opacity="0.4" stroke-width="0.7"/>
<ellipse cx="157.5" cy="355.8" rx="3.2" ry="4.0" transform="rotate(61 157.5 355.8)" fill="#44bb44" stroke="#101810" stroke-opacity="0.4" stroke-width="0.7"/>
<ellipse cx="178.5" cy="333.1" rx="4.7" ry="2.9" transform="rotate(92 178.5 333.1)" fill="#52d052" stroke="#101810" stroke-opacity="0.4" stroke-width="0.7"/>
<ellipse cx="162.2" cy="300.4" rx="4.0" ry="3.9" transform="rotate(144 162.2 300.4)" fill="#44bb44" stroke="#101810" stroke-opacity="0.4" stroke-width="0.7"/>
<ellipse cx="179.9" cy="317.1" rx="5.8" ry="3.9" transform="rotate(165 179.9 317.1)" fill="#ffffff" stroke="#101810" stroke-opacity="0.4" stroke-width="0.7"/>
<ellipse cx="145.8" cy="353.8" rx="6.0" ry="3.9" transform="rotate(93 145.8 353.8)" fill="#3cc83c" stroke="#101810" stroke-opacity="0.4" stroke-width="0.7"/>
<ellipse cx="149.5" cy="312.0" rx="4.4" ry="2.6" transform="rotate(37 149.5 312.0)" fill="#44bb44" stroke="#101810" stroke-opacity="0.4" stroke-width="0.7"/>
<ellipse cx="148.4" cy="311.4" rx="3.6" ry="2.9" transform="rotate(144 148.4 311.4)" fill="#2eae2e" stroke="#101810" stroke-opacity="0.4" stroke-width="0.7"/>
<ellipse cx="173.6" cy="337.9" rx="4.6" ry="2.4" transform="rotate(100 173.6 337.9)" fill="#6040b0" stroke="#101810" stroke-opacity="0.4" stroke-width="0.7"/>
<ellipse cx="150.2" cy="336.5" rx="4.5" ry="3.0" transform="rotate(65 150.2 336.5)" fill="#52d052" stroke="#101810" stroke-opacity="0.4" stroke-width="0.7"/>
<ellipse cx="172.0" cy="331.0" rx="5.1" ry="3.2" transform="rotate(22 172.0 331.0)" fill="#3a4ab8" stroke="#101810" stroke-opacity="0.4" stroke-width="0.7"/>
<ellipse cx="157.9" cy="329.2" rx="3.2" ry="3.7" transform="rotate(33 157.9 329.2)" fill="#2eae2e" stroke="#101810" stroke-opacity="0.4" stroke-width="0.7"/>
<ellipse cx="155.5" cy="344.0" rx="4.7" ry="4.0" transform="rotate(26 155.5 344.0)" fill="#3a4ab8" stroke="#101810" stroke-opacity="0.4" stroke-width="0.7"/>
<ellipse cx="171.4" cy="306.4" rx="4.1" ry="3.0" transform="rotate(94 171.4 306.4)" fill="#68d860" stroke="#101810" stroke-opacity="0.4" stroke-width="0.7"/>
<ellipse cx="167.0" cy="324.6" rx="4.5" ry="2.6" transform="rotate(95 167.0 324.6)" fill="#8a3418" stroke="#101810" stroke-opacity="0.4" stroke-width="0.7"/>
<ellipse cx="176.2" cy="341.9" rx="5.8" ry="3.1" transform="rotate(127 176.2 341.9)" fill="#3cc83c" stroke="#101810" stroke-opacity="0.4" stroke-width="0.7"/>
<ellipse cx="165.9" cy="357.1" rx="3.3" ry="2.6" transform="rotate(177 165.9 357.1)" fill="#44bb44" stroke="#101810" stroke-opacity="0.4" stroke-width="0.7"/>
<ellipse cx="178.8" cy="317.6" rx="5.0" ry="3.9" transform="rotate(165 178.8 317.6)" fill="#b0441c" stroke="#101810" stroke-opacity="0.4" stroke-width="0.7"/>
<ellipse cx="166.0" cy="336.2" rx="5.1" ry="3.7" transform="rotate(27 166.0 336.2)" fill="#8a3418" stroke="#101810" stroke-opacity="0.4" stroke-width="0.7"/>
<ellipse cx="146.8" cy="355.4" rx="4.7" ry="3.3" transform="rotate(16 146.8 355.4)" fill="#44bb44" stroke="#101810" stroke-opacity="0.4" stroke-width="0.7"/>
<ellipse cx="171.3" cy="340.1" rx="5.2" ry="2.5" transform="rotate(13 171.3 340.1)" fill="#44bb44" stroke="#101810" stroke-opacity="0.4" stroke-width="0.7"/>
<ellipse cx="172.2" cy="338.7" rx="5.8" ry="2.8" transform="rotate(92 172.2 338.7)" fill="#3cc83c" stroke="#101810" stroke-opacity="0.4" stroke-width="0.7"/>
<ellipse cx="165.2" cy="313.0" rx="3.6" ry="2.5" transform="rotate(78 165.2 313.0)" fill="#2eae2e" stroke="#101810" stroke-opacity="0.4" stroke-width="0.7"/>
<ellipse cx="145.4" cy="361.3" rx="6.0" ry="2.6" transform="rotate(175 145.4 361.3)" fill="#2eae2e" stroke="#101810" stroke-opacity="0.4" stroke-width="0.7"/>
<ellipse cx="146.2" cy="334.2" rx="4.9" ry="2.5" transform="rotate(81 146.2 334.2)" fill="#52d052" stroke="#101810" stroke-opacity="0.4" stroke-width="0.7"/>
<ellipse cx="170.4" cy="351.4" rx="3.8" ry="3.6" transform="rotate(165 170.4 351.4)" fill="#52d052" stroke="#101810" stroke-opacity="0.4" stroke-width="0.7"/>
<ellipse cx="154.3" cy="309.3" rx="5.0" ry="3.2" transform="rotate(41 154.3 309.3)" fill="#68d860" stroke="#101810" stroke-opacity="0.4" stroke-width="0.7"/>
<ellipse cx="147.8" cy="361.6" rx="4.0" ry="3.8" transform="rotate(109 147.8 361.6)" fill="#8a3418" stroke="#101810" stroke-opacity="0.4" stroke-width="0.7"/>
<ellipse cx="163.9" cy="348.6" rx="5.6" ry="3.9" transform="rotate(106 163.9 348.6)" fill="#ffffff" stroke="#101810" stroke-opacity="0.4" stroke-width="0.7"/>
<ellipse cx="147.6" cy="306.5" rx="5.5" ry="2.8" transform="rotate(85 147.6 306.5)" fill="#ffffff" stroke="#101810" stroke-opacity="0.4" stroke-width="0.7"/>
<ellipse cx="60.2" cy="325.6" rx="5.6" ry="3.8" transform="rotate(136 60.2 325.6)" fill="#2aa0c8" stroke="#101810" stroke-opacity="0.4" stroke-width="0.7"/>
<ellipse cx="83.8" cy="341.2" rx="5.5" ry="2.9" transform="rotate(73 83.8 341.2)" fill="#1c2c90" stroke="#101810" stroke-opacity="0.4" stroke-width="0.7"/>
<ellipse cx="66.4" cy="327.0" rx="5.8" ry="3.9" transform="rotate(139 66.4 327.0)" fill="#1c2c90" stroke="#101810" stroke-opacity="0.4" stroke-width="0.7"/>
<ellipse cx="81.9" cy="344.2" rx="4.2" ry="3.7" transform="rotate(106 81.9 344.2)" fill="#30b8b8" stroke="#101810" stroke-opacity="0.4" stroke-width="0.7"/>
<ellipse cx="85.0" cy="351.3" rx="3.3" ry="3.8" transform="rotate(34 85.0 351.3)" fill="#3cc83c" stroke="#101810" stroke-opacity="0.4" stroke-width="0.7"/>
<ellipse cx="41.3" cy="332.0" rx="5.5" ry="3.7" transform="rotate(75 41.3 332.0)" fill="#52d052" stroke="#101810" stroke-opacity="0.4" stroke-width="0.7"/>
<ellipse cx="69.7" cy="310.4" rx="4.7" ry="2.5" transform="rotate(177 69.7 310.4)" fill="#1c2c90" stroke="#101810" stroke-opacity="0.4" stroke-width="0.7"/>
<ellipse cx="73.1" cy="349.0" rx="5.4" ry="2.8" transform="rotate(145 73.1 349.0)" fill="#2a40c0" stroke="#101810" stroke-opacity="0.4" stroke-width="0.7"/>
<ellipse cx="84.5" cy="322.1" rx="3.4" ry="2.8" transform="rotate(48 84.5 322.1)" fill="#4a40a0" stroke="#101810" stroke-opacity="0.4" stroke-width="0.7"/>
<ellipse cx="56.4" cy="339.8" rx="4.5" ry="4.0" transform="rotate(175 56.4 339.8)" fill="#4a40a0" stroke="#101810" stroke-opacity="0.4" stroke-width="0.7"/>
<ellipse cx="64.4" cy="344.6" rx="5.8" ry="2.5" transform="rotate(25 64.4 344.6)" fill="#4a40a0" stroke="#101810" stroke-opacity="0.4" stroke-width="0.7"/>
<ellipse cx="59.5" cy="312.2" rx="5.8" ry="2.6" transform="rotate(178 59.5 312.2)" fill="#30b8b8" stroke="#101810" stroke-opacity="0.4" stroke-width="0.7"/>
<ellipse cx="79.3" cy="313.4" rx="5.8" ry="2.6" transform="rotate(86 79.3 313.4)" fill="#2aa0c8" stroke="#101810" stroke-opacity="0.4" stroke-width="0.7"/>
<ellipse cx="73.6" cy="310.0" rx="4.1" ry="3.7" transform="rotate(68 73.6 310.0)" fill="#2438b0" stroke="#101810" stroke-opacity="0.4" stroke-width="0.7"/>
<ellipse cx="71.0" cy="332.5" rx="4.4" ry="3.6" transform="rotate(28 71.0 332.5)" fill="#4a40a0" stroke="#101810" stroke-opacity="0.4" stroke-width="0.7"/>
<ellipse cx="70.5" cy="314.6" rx="5.3" ry="3.6" transform="rotate(163 70.5 314.6)" fill="#30b8b8" stroke="#101810" stroke-opacity="0.4" stroke-width="0.7"/>
<ellipse cx="67.3" cy="332.4" rx="3.6" ry="3.4" transform="rotate(84 67.3 332.4)" fill="#3a5ad8" stroke="#101810" stroke-opacity="0.4" stroke-width="0.7"/>
<ellipse cx="62.8" cy="317.8" rx="5.9" ry="3.7" transform="rotate(40 62.8 317.8)" fill="#3a5ad8" stroke="#101810" stroke-opacity="0.4" stroke-width="0.7"/>
<ellipse cx="90.1" cy="322.3" rx="5.3" ry="3.4" transform="rotate(155 90.1 322.3)" fill="#2a40c0" stroke="#101810" stroke-opacity="0.4" stroke-width="0.7"/>
<ellipse cx="56.3" cy="311.6" rx="5.9" ry="3.9" transform="rotate(15 56.3 311.6)" fill="#3cc83c" stroke="#101810" stroke-opacity="0.4" stroke-width="0.7"/>
<ellipse cx="87.6" cy="299.0" rx="5.9" ry="3.9" transform="rotate(58 87.6 299.0)" fill="#4a40a0" stroke="#101810" stroke-opacity="0.4" stroke-width="0.7"/>
<ellipse cx="63.1" cy="301.9" rx="3.3" ry="3.4" transform="rotate(3 63.1 301.9)" fill="#4a40a0" stroke="#101810" stroke-opacity="0.4" stroke-width="0.7"/>
<ellipse cx="62.2" cy="340.7" rx="5.8" ry="3.1" transform="rotate(156 62.2 340.7)" fill="#3a5ad8" stroke="#101810" stroke-opacity="0.4" stroke-width="0.7"/>
<ellipse cx="54.0" cy="346.9" rx="3.9" ry="2.4" transform="rotate(133 54.0 346.9)" fill="#2438b0" stroke="#101810" stroke-opacity="0.4" stroke-width="0.7"/>
<ellipse cx="83.0" cy="315.2" rx="6.0" ry="2.7" transform="rotate(75 83.0 315.2)" fill="#3a5ad8" stroke="#101810" stroke-opacity="0.4" stroke-width="0.7"/>
<ellipse cx="51.6" cy="333.8" rx="4.2" ry="2.8" transform="rotate(71 51.6 333.8)" fill="#4a40a0" stroke="#101810" stroke-opacity="0.4" stroke-width="0.7"/>
<ellipse cx="80.5" cy="338.6" rx="4.9" ry="2.6" transform="rotate(108 80.5 338.6)" fill="#3cc83c" stroke="#101810" stroke-opacity="0.4" stroke-width="0.7"/>
<ellipse cx="89.8" cy="339.6" rx="4.9" ry="2.9" transform="rotate(40 89.8 339.6)" fill="#52d052" stroke="#101810" stroke-opacity="0.4" stroke-width="0.7"/>
<ellipse cx="55.4" cy="323.4" rx="4.1" ry="2.5" transform="rotate(82 55.4 323.4)" fill="#1c2c90" stroke="#101810" stroke-opacity="0.4" stroke-width="0.7"/>
<ellipse cx="68.6" cy="296.7" rx="3.8" ry="3.6" transform="rotate(134 68.6 296.7)" fill="#2438b0" stroke="#101810" stroke-opacity="0.4" stroke-width="0.7"/>
<ellipse cx="62.4" cy="321.4" rx="3.3" ry="2.7" transform="rotate(141 62.4 321.4)" fill="#1c2c90" stroke="#101810" stroke-opacity="0.4" stroke-width="0.7"/>
<ellipse cx="86.1" cy="320.6" rx="5.6" ry="2.8" transform="rotate(62 86.1 320.6)" fill="#52d052" stroke="#101810" stroke-opacity="0.4" stroke-width="0.7"/>
<ellipse cx="93.0" cy="299.8" rx="4.8" ry="2.6" transform="rotate(60 93.0 299.8)" fill="#2c4cd0" stroke="#101810" stroke-opacity="0.4" stroke-width="0.7"/>
<ellipse cx="62.5" cy="350.3" rx="4.9" ry="2.6" transform="rotate(143 62.5 350.3)" fill="#2a40c0" stroke="#101810" stroke-opacity="0.4" stroke-width="0.7"/>
<ellipse cx="63.3" cy="299.9" rx="5.8" ry="2.7" transform="rotate(137 63.3 299.9)" fill="#ffffff" stroke="#101810" stroke-opacity="0.4" stroke-width="0.7"/>
<ellipse cx="72.5" cy="359.1" rx="4.7" ry="2.7" transform="rotate(155 72.5 359.1)" fill="#2438b0" stroke="#101810" stroke-opacity="0.4" stroke-width="0.7"/>
<ellipse cx="69.7" cy="306.1" rx="3.5" ry="3.8" transform="rotate(132 69.7 306.1)" fill="#1c2c90" stroke="#101810" stroke-opacity="0.4" stroke-width="0.7"/>
<ellipse cx="84.2" cy="316.8" rx="3.9" ry="3.6" transform="rotate(135 84.2 316.8)" fill="#2438b0" stroke="#101810" stroke-opacity="0.4" stroke-width="0.7"/>
<ellipse cx="61.1" cy="344.0" rx="5.4" ry="3.2" transform="rotate(11 61.1 344.0)" fill="#1c2c90" stroke="#101810" stroke-opacity="0.4" stroke-width="0.7"/>
<ellipse cx="85.8" cy="360.7" rx="5.4" ry="3.3" transform="rotate(78 85.8 360.7)" fill="#30b8b8" stroke="#101810" stroke-opacity="0.4" stroke-width="0.7"/>
<ellipse cx="76.1" cy="346.0" rx="5.1" ry="3.3" transform="rotate(24 76.1 346.0)" fill="#2a40c0" stroke="#101810" stroke-opacity="0.4" stroke-width="0.7"/>
<ellipse cx="40.4" cy="314.5" rx="4.5" ry="3.5" transform="rotate(129 40.4 314.5)" fill="#ffffff" stroke="#101810" stroke-opacity="0.4" stroke-width="0.7"/>
<ellipse cx="50.8" cy="309.9" rx="4.1" ry="2.6" transform="rotate(2 50.8 309.9)" fill="#ffffff" stroke="#101810" stroke-opacity="0.4" stroke-width="0.7"/>
<ellipse cx="81.6" cy="350.8" rx="4.6" ry="2.9" transform="rotate(30 81.6 350.8)" fill="#4a40a0" stroke="#101810" stroke-opacity="0.4" stroke-width="0.7"/>
<ellipse cx="54.4" cy="296.3" rx="5.8" ry="2.9" transform="rotate(16 54.4 296.3)" fill="#2a40c0" stroke="#101810" stroke-opacity="0.4" stroke-width="0.7"/>
<ellipse cx="41.8" cy="328.9" rx="4.7" ry="3.8" transform="rotate(27 41.8 328.9)" fill="#2aa0c8" stroke="#101810" stroke-opacity="0.4" stroke-width="0.7"/>
<ellipse cx="77.5" cy="308.4" rx="4.9" ry="3.7" transform="rotate(80 77.5 308.4)" fill="#3a5ad8" stroke="#101810" stroke-opacity="0.4" stroke-width="0.7"/>
<ellipse cx="77.8" cy="315.7" rx="5.9" ry="2.9" transform="rotate(87 77.8 315.7)" fill="#2a40c0" stroke="#101810" stroke-opacity="0.4" stroke-width="0.7"/>
<ellipse cx="74.3" cy="354.3" rx="5.3" ry="2.6" transform="rotate(33 74.3 354.3)" fill="#3a5ad8" stroke="#101810" stroke-opacity="0.4" stroke-width="0.7"/>
<ellipse cx="65.4" cy="354.3" rx="3.7" ry="2.5" transform="rotate(127 65.4 354.3)" fill="#3a5ad8" stroke="#101810" stroke-opacity="0.4" stroke-width="0.7"/>
<ellipse cx="79.3" cy="349.1" rx="6.0" ry="3.6" transform="rotate(172 79.3 349.1)" fill="#1c2c90" stroke="#101810" stroke-opacity="0.4" stroke-width="0.7"/>
<ellipse cx="43.7" cy="328.2" rx="5.8" ry="3.2" transform="rotate(18 43.7 328.2)" fill="#2c4cd0" stroke="#101810" stroke-opacity="0.4" stroke-width="0.7"/>
<ellipse cx="67.1" cy="351.7" rx="5.0" ry="3.1" transform="rotate(23 67.1 351.7)" fill="#3a5ad8" stroke="#101810" stroke-opacity="0.4" stroke-width="0.7"/>
<ellipse cx="85.5" cy="323.2" rx="3.8" ry="2.7" transform="rotate(77 85.5 323.2)" fill="#2aa0c8" stroke="#101810" stroke-opacity="0.4" stroke-width="0.7"/>
<ellipse cx="71.6" cy="351.7" rx="4.7" ry="3.0" transform="rotate(91 71.6 351.7)" fill="#4a40a0" stroke="#101810" stroke-opacity="0.4" stroke-width="0.7"/>
<ellipse cx="81.3" cy="352.1" rx="4.0" ry="2.9" transform="rotate(119 81.3 352.1)" fill="#30b8b8" stroke="#101810" stroke-opacity="0.4" stroke-width="0.7"/>
<ellipse cx="40.9" cy="316.7" rx="4.9" ry="3.7" transform="rotate(151 40.9 316.7)" fill="#2a40c0" stroke="#101810" stroke-opacity="0.4" stroke-width="0.7"/>
<ellipse cx="62.2" cy="348.7" rx="4.0" ry="2.8" transform="rotate(59 62.2 348.7)" fill="#30b8b8" stroke="#101810" stroke-opacity="0.4" stroke-width="0.7"/>
<ellipse cx="87.6" cy="356.4" rx="4.3" ry="3.4" transform="rotate(132 87.6 356.4)" fill="#1c2c90" stroke="#101810" stroke-opacity="0.4" stroke-width="0.7"/>
<ellipse cx="47.5" cy="336.6" rx="5.3" ry="3.8" transform="rotate(115 47.5 336.6)" fill="#2438b0" stroke="#101810" stroke-opacity="0.4" stroke-width="0.7"/>
<ellipse cx="40.0" cy="313.3" rx="4.8" ry="3.2" transform="rotate(117 40.0 313.3)" fill="#1c2c90" stroke="#101810" stroke-opacity="0.4" stroke-width="0.7"/>
<ellipse cx="90.2" cy="338.8" rx="4.1" ry="2.4" transform="rotate(8 90.2 338.8)" fill="#2a40c0" stroke="#101810" stroke-opacity="0.4" stroke-width="0.7"/>
<ellipse cx="91.1" cy="344.2" rx="4.6" ry="3.7" transform="rotate(155 91.1 344.2)" fill="#2438b0" stroke="#101810" stroke-opacity="0.4" stroke-width="0.7"/>
<ellipse cx="49.4" cy="323.6" rx="4.3" ry="3.6" transform="rotate(51 49.4 323.6)" fill="#2c4cd0" stroke="#101810" stroke-opacity="0.4" stroke-width="0.7"/>
<ellipse cx="68.7" cy="303.0" rx="4.0" ry="3.0" transform="rotate(51 68.7 303.0)" fill="#2a40c0" stroke="#101810" stroke-opacity="0.4" stroke-width="0.7"/>
<ellipse cx="53.7" cy="339.2" rx="5.1" ry="3.7" transform="rotate(95 53.7 339.2)" fill="#1c2c90" stroke="#101810" stroke-opacity="0.4" stroke-width="0.7"/>
<ellipse cx="79.5" cy="317.3" rx="4.4" ry="3.9" transform="rotate(131 79.5 317.3)" fill="#52d052" stroke="#101810" stroke-opacity="0.4" stroke-width="0.7"/>
<ellipse cx="45.7" cy="341.0" rx="5.1" ry="3.1" transform="rotate(105 45.7 341.0)" fill="#2aa0c8" stroke="#101810" stroke-opacity="0.4" stroke-width="0.7"/>
<ellipse cx="73.7" cy="325.7" rx="5.2" ry="3.9" transform="rotate(176 73.7 325.7)" fill="#1c2c90" stroke="#101810" stroke-opacity="0.4" stroke-width="0.7"/>
<ellipse cx="50.5" cy="334.8" rx="5.4" ry="3.7" transform="rotate(167 50.5 334.8)" fill="#2a40c0" stroke="#101810" stroke-opacity="0.4" stroke-width="0.7"/>
<ellipse cx="89.1" cy="302.3" rx="5.9" ry="3.9" transform="rotate(87 89.1 302.3)" fill="#2438b0" stroke="#101810" stroke-opacity="0.4" stroke-width="0.7"/>
<ellipse cx="92.6" cy="348.2" rx="5.5" ry="2.7" transform="rotate(61 92.6 348.2)" fill="#2c4cd0" stroke="#101810" stroke-opacity="0.4" stroke-width="0.7"/>
<ellipse cx="81.4" cy="338.8" rx="3.9" ry="3.3" transform="rotate(109 81.4 338.8)" fill="#2c4cd0" stroke="#101810" stroke-opacity="0.4" stroke-width="0.7"/>
<ellipse cx="41.6" cy="333.4" rx="4.8" ry="3.3" transform="rotate(47 41.6 333.4)" fill="#3a5ad8" stroke="#101810" stroke-opacity="0.4" stroke-width="0.7"/>
<ellipse cx="71.3" cy="296.2" rx="5.2" ry="3.1" transform="rotate(136 71.3 296.2)" fill="#52d052" stroke="#101810" stroke-opacity="0.4" stroke-width="0.7"/>
<ellipse cx="63.3" cy="338.0" rx="5.0" ry="2.7" transform="rotate(152 63.3 338.0)" fill="#1c2c90" stroke="#101810" stroke-opacity="0.4" stroke-width="0.7"/>
<ellipse cx="90.9" cy="346.9" rx="5.8" ry="3.6" transform="rotate(166 90.9 346.9)" fill="#52d052" stroke="#101810" stroke-opacity="0.4" stroke-width="0.7"/>
<ellipse cx="84.9" cy="332.3" rx="5.2" ry="3.8" transform="rotate(145 84.9 332.3)" fill="#3a5ad8" stroke="#101810" stroke-opacity="0.4" stroke-width="0.7"/>
<ellipse cx="93.0" cy="348.6" rx="5.8" ry="3.2" transform="rotate(98 93.0 348.6)" fill="#3a5ad8" stroke="#101810" stroke-opacity="0.4" stroke-width="0.7"/>
<ellipse cx="94.1" cy="321.9" rx="5.7" ry="3.0" transform="rotate(150 94.1 321.9)" fill="#3a5ad8" stroke="#101810" stroke-opacity="0.4" stroke-width="0.7"/>
<ellipse cx="53.6" cy="338.5" rx="4.4" ry="2.6" transform="rotate(94 53.6 338.5)" fill="#1c2c90" stroke="#101810" stroke-opacity="0.4" stroke-width="0.7"/>
<ellipse cx="66.5" cy="334.6" rx="3.7" ry="3.9" transform="rotate(101 66.5 334.6)" fill="#2438b0" stroke="#101810" stroke-opacity="0.4" stroke-width="0.7"/>
<ellipse cx="89.6" cy="325.7" rx="5.9" ry="3.6" transform="rotate(151 89.6 325.7)" fill="#2438b0" stroke="#101810" stroke-opacity="0.4" stroke-width="0.7"/>
<ellipse cx="66.0" cy="352.4" rx="3.6" ry="2.5" transform="rotate(84 66.0 352.4)" fill="#4a40a0" stroke="#101810" stroke-opacity="0.4" stroke-width="0.7"/>
<ellipse cx="93.2" cy="355.5" rx="4.7" ry="2.9" transform="rotate(92 93.2 355.5)" fill="#ffffff" stroke="#101810" stroke-opacity="0.4" stroke-width="0.7"/>
<ellipse cx="45.2" cy="325.4" rx="3.4" ry="3.5" transform="rotate(166 45.2 325.4)" fill="#2aa0c8" stroke="#101810" stroke-opacity="0.4" stroke-width="0.7"/>
<ellipse cx="57.2" cy="342.3" rx="4.6" ry="3.3" transform="rotate(99 57.2 342.3)" fill="#52d052" stroke="#101810" stroke-opacity="0.4" stroke-width="0.7"/>
<ellipse cx="74.3" cy="332.6" rx="3.5" ry="3.4" transform="rotate(100 74.3 332.6)" fill="#4a40a0" stroke="#101810" stroke-opacity="0.4" stroke-width="0.7"/>
<ellipse cx="93.2" cy="356.2" rx="3.8" ry="3.0" transform="rotate(45 93.2 356.2)" fill="#2aa0c8" stroke="#101810" stroke-opacity="0.4" stroke-width="0.7"/>
<ellipse cx="79.1" cy="320.3" rx="3.6" ry="3.6" transform="rotate(21 79.1 320.3)" fill="#30b8b8" stroke="#101810" stroke-opacity="0.4" stroke-width="0.7"/>
<ellipse cx="50.1" cy="311.6" rx="4.3" ry="4.0" transform="rotate(75 50.1 311.6)" fill="#1c2c90" stroke="#101810" stroke-opacity="0.4" stroke-width="0.7"/>
<ellipse cx="60.3" cy="307.7" rx="5.5" ry="3.6" transform="rotate(89 60.3 307.7)" fill="#2a40c0" stroke="#101810" stroke-opacity="0.4" stroke-width="0.7"/>
<ellipse cx="78.1" cy="301.2" rx="3.7" ry="2.8" transform="rotate(36 78.1 301.2)" fill="#4a40a0" stroke="#101810" stroke-opacity="0.4" stroke-width="0.7"/>
<ellipse cx="90.0" cy="308.5" rx="5.2" ry="3.1" transform="rotate(166 90.0 308.5)" fill="#3cc83c" stroke="#101810" stroke-opacity="0.4" stroke-width="0.7"/>
<ellipse cx="65.1" cy="326.3" rx="5.2" ry="2.4" transform="rotate(43 65.1 326.3)" fill="#2438b0" stroke="#101810" stroke-opacity="0.4" stroke-width="0.7"/>
<ellipse cx="41.6" cy="301.9" rx="5.2" ry="3.8" transform="rotate(122 41.6 301.9)" fill="#2a40c0" stroke="#101810" stroke-opacity="0.4" stroke-width="0.7"/>
<ellipse cx="42.8" cy="332.5" rx="6.0" ry="3.2" transform="rotate(118 42.8 332.5)" fill="#ffffff" stroke="#101810" stroke-opacity="0.4" stroke-width="0.7"/>
<ellipse cx="73.0" cy="312.9" rx="3.2" ry="2.5" transform="rotate(84 73.0 312.9)" fill="#30b8b8" stroke="#101810" stroke-opacity="0.4" stroke-width="0.7"/>
<ellipse cx="73.9" cy="362.8" rx="4.1" ry="3.0" transform="rotate(98 73.9 362.8)" fill="#3a5ad8" stroke="#101810" stroke-opacity="0.4" stroke-width="0.7"/>
<ellipse cx="79.1" cy="333.0" rx="5.7" ry="3.0" transform="rotate(40 79.1 333.0)" fill="#1c2c90" stroke="#101810" stroke-opacity="0.4" stroke-width="0.7"/>
<ellipse cx="45.4" cy="297.8" rx="3.9" ry="3.6" transform="rotate(125 45.4 297.8)" fill="#1c2c90" stroke="#101810" stroke-opacity="0.4" stroke-width="0.7"/>
<ellipse cx="60.6" cy="330.8" rx="4.8" ry="3.9" transform="rotate(19 60.6 330.8)" fill="#2a40c0" stroke="#101810" stroke-opacity="0.4" stroke-width="0.7"/>
<ellipse cx="75.3" cy="354.9" rx="5.8" ry="3.2" transform="rotate(151 75.3 354.9)" fill="#30b8b8" stroke="#101810" stroke-opacity="0.4" stroke-width="0.7"/>
<ellipse cx="44.8" cy="299.1" rx="4.9" ry="2.4" transform="rotate(40 44.8 299.1)" fill="#2a40c0" stroke="#101810" stroke-opacity="0.4" stroke-width="0.7"/>
<ellipse cx="66.1" cy="319.0" rx="5.3" ry="3.1" transform="rotate(164 66.1 319.0)" fill="#2c4cd0" stroke="#101810" stroke-opacity="0.4" stroke-width="0.7"/>
<ellipse cx="52.8" cy="329.7" rx="4.0" ry="2.9" transform="rotate(90 52.8 329.7)" fill="#ffffff" stroke="#101810" stroke-opacity="0.4" stroke-width="0.7"/>
<ellipse cx="67.3" cy="301.5" rx="5.2" ry="3.0" transform="rotate(13 67.3 301.5)" fill="#3a5ad8" stroke="#101810" stroke-opacity="0.4" stroke-width="0.7"/>
<ellipse cx="49.8" cy="327.3" rx="5.9" ry="2.9" transform="rotate(103 49.8 327.3)" fill="#2c4cd0" stroke="#101810" stroke-opacity="0.4" stroke-width="0.7"/>
<ellipse cx="54.6" cy="317.3" rx="3.3" ry="3.7" transform="rotate(7 54.6 317.3)" fill="#2a40c0" stroke="#101810" stroke-opacity="0.4" stroke-width="0.7"/>
<ellipse cx="77.5" cy="340.0" rx="5.7" ry="3.3" transform="rotate(100 77.5 340.0)" fill="#3a5ad8" stroke="#101810" stroke-opacity="0.4" stroke-width="0.7"/>
<ellipse cx="111.7" cy="345.9" rx="5.1" ry="3.5" transform="rotate(160 111.7 345.9)" fill="#2a9a3a" stroke="#101810" stroke-opacity="0.4" stroke-width="0.7"/>
<ellipse cx="109.4" cy="340.4" rx="3.7" ry="3.0" transform="rotate(119 109.4 340.4)" fill="#30b8b8" stroke="#101810" stroke-opacity="0.4" stroke-width="0.7"/>
<ellipse cx="102.4" cy="333.3" rx="5.6" ry="2.8" transform="rotate(159 102.4 333.3)" fill="#c0a820" stroke="#101810" stroke-opacity="0.4" stroke-width="0.7"/>
<ellipse cx="143.4" cy="341.6" rx="5.0" ry="3.3" transform="rotate(145 143.4 341.6)" fill="#44bb44" stroke="#101810" stroke-opacity="0.4" stroke-width="0.7"/>
<ellipse cx="106.2" cy="311.9" rx="5.6" ry="2.5" transform="rotate(142 106.2 311.9)" fill="#2eae2e" stroke="#101810" stroke-opacity="0.4" stroke-width="0.7"/>
<ellipse cx="116.6" cy="326.8" rx="4.5" ry="3.9" transform="rotate(54 116.6 326.8)" fill="#2eae2e" stroke="#101810" stroke-opacity="0.4" stroke-width="0.7"/>
<ellipse cx="127.7" cy="334.3" rx="5.5" ry="3.5" transform="rotate(50 127.7 334.3)" fill="#2a9a3a" stroke="#101810" stroke-opacity="0.4" stroke-width="0.7"/>
<ellipse cx="95.7" cy="320.1" rx="4.2" ry="2.8" transform="rotate(165 95.7 320.1)" fill="#3cc83c" stroke="#101810" stroke-opacity="0.4" stroke-width="0.7"/>
<ellipse cx="109.5" cy="312.9" rx="6.0" ry="2.9" transform="rotate(0 109.5 312.9)" fill="#52d052" stroke="#101810" stroke-opacity="0.4" stroke-width="0.7"/>
<ellipse cx="108.1" cy="318.6" rx="3.8" ry="3.9" transform="rotate(149 108.1 318.6)" fill="#a8e0e0" stroke="#101810" stroke-opacity="0.4" stroke-width="0.7"/>
<ellipse cx="139.0" cy="327.6" rx="3.7" ry="2.9" transform="rotate(131 139.0 327.6)" fill="#a8e0e0" stroke="#101810" stroke-opacity="0.4" stroke-width="0.7"/>
<ellipse cx="120.3" cy="324.6" rx="5.7" ry="3.8" transform="rotate(67 120.3 324.6)" fill="#8a3418" stroke="#101810" stroke-opacity="0.4" stroke-width="0.7"/>
<ellipse cx="123.0" cy="307.5" rx="5.3" ry="3.5" transform="rotate(5 123.0 307.5)" fill="#ffffff" stroke="#101810" stroke-opacity="0.4" stroke-width="0.7"/>
<ellipse cx="123.7" cy="307.1" rx="5.8" ry="3.7" transform="rotate(82 123.7 307.1)" fill="#2eae2e" stroke="#101810" stroke-opacity="0.4" stroke-width="0.7"/>
<ellipse cx="108.4" cy="334.5" rx="3.2" ry="3.3" transform="rotate(138 108.4 334.5)" fill="#a8e0e0" stroke="#101810" stroke-opacity="0.4" stroke-width="0.7"/>
<ellipse cx="99.4" cy="323.7" rx="4.2" ry="3.2" transform="rotate(26 99.4 323.7)" fill="#ffffff" stroke="#101810" stroke-opacity="0.4" stroke-width="0.7"/>
<ellipse cx="135.1" cy="310.1" rx="3.4" ry="3.2" transform="rotate(60 135.1 310.1)" fill="#52d052" stroke="#101810" stroke-opacity="0.4" stroke-width="0.7"/>
<ellipse cx="99.9" cy="333.9" rx="5.1" ry="3.0" transform="rotate(32 99.9 333.9)" fill="#44bb44" stroke="#101810" stroke-opacity="0.4" stroke-width="0.7"/>
<ellipse cx="124.2" cy="309.5" rx="5.1" ry="3.0" transform="rotate(150 124.2 309.5)" fill="#ffffff" stroke="#101810" stroke-opacity="0.4" stroke-width="0.7"/>
<ellipse cx="119.6" cy="332.4" rx="5.1" ry="2.5" transform="rotate(12 119.6 332.4)" fill="#c0a820" stroke="#101810" stroke-opacity="0.4" stroke-width="0.7"/>
<ellipse cx="121.3" cy="313.6" rx="4.7" ry="3.9" transform="rotate(109 121.3 313.6)" fill="#ffffff" stroke="#101810" stroke-opacity="0.4" stroke-width="0.7"/>
<ellipse cx="141.7" cy="317.0" rx="3.8" ry="3.3" transform="rotate(149 141.7 317.0)" fill="#30b8b8" stroke="#101810" stroke-opacity="0.4" stroke-width="0.7"/>
<ellipse cx="118.4" cy="320.9" rx="3.4" ry="2.6" transform="rotate(4 118.4 320.9)" fill="#ffffff" stroke="#101810" stroke-opacity="0.4" stroke-width="0.7"/>
<ellipse cx="111.0" cy="337.8" rx="3.3" ry="3.6" transform="rotate(137 111.0 337.8)" fill="#3cc83c" stroke="#101810" stroke-opacity="0.4" stroke-width="0.7"/>
<ellipse cx="126.7" cy="321.2" rx="3.4" ry="3.3" transform="rotate(152 126.7 321.2)" fill="#3cc83c" stroke="#101810" stroke-opacity="0.4" stroke-width="0.7"/>
<ellipse cx="121.9" cy="310.4" rx="4.4" ry="2.4" transform="rotate(16 121.9 310.4)" fill="#3cc83c" stroke="#101810" stroke-opacity="0.4" stroke-width="0.7"/>
<ellipse cx="128.8" cy="337.3" rx="3.5" ry="3.5" transform="rotate(101 128.8 337.3)" fill="#44bb44" stroke="#101810" stroke-opacity="0.4" stroke-width="0.7"/>
<ellipse cx="96.3" cy="305.1" rx="4.6" ry="3.2" transform="rotate(108 96.3 305.1)" fill="#2eae2e" stroke="#101810" stroke-opacity="0.4" stroke-width="0.7"/>
<ellipse cx="108.6" cy="328.4" rx="5.5" ry="3.3" transform="rotate(64 108.6 328.4)" fill="#3cc83c" stroke="#101810" stroke-opacity="0.4" stroke-width="0.7"/>
<ellipse cx="109.7" cy="330.3" rx="5.1" ry="3.3" transform="rotate(175 109.7 330.3)" fill="#ffffff" stroke="#101810" stroke-opacity="0.4" stroke-width="0.7"/>
<ellipse cx="136.6" cy="322.4" rx="5.1" ry="3.9" transform="rotate(50 136.6 322.4)" fill="#2a9a3a" stroke="#101810" stroke-opacity="0.4" stroke-width="0.7"/>
<ellipse cx="135.0" cy="326.4" rx="5.6" ry="2.4" transform="rotate(34 135.0 326.4)" fill="#68d860" stroke="#101810" stroke-opacity="0.4" stroke-width="0.7"/>
<ellipse cx="98.6" cy="318.3" rx="4.6" ry="3.1" transform="rotate(39 98.6 318.3)" fill="#44bb44" stroke="#101810" stroke-opacity="0.4" stroke-width="0.7"/>
<ellipse cx="114.6" cy="326.9" rx="5.3" ry="2.5" transform="rotate(142 114.6 326.9)" fill="#30b8b8" stroke="#101810" stroke-opacity="0.4" stroke-width="0.7"/>
<ellipse cx="123.1" cy="324.1" rx="3.8" ry="3.8" transform="rotate(107 123.1 324.1)" fill="#3cc83c" stroke="#101810" stroke-opacity="0.4" stroke-width="0.7"/>
<ellipse cx="95.5" cy="304.4" rx="3.4" ry="3.8" transform="rotate(168 95.5 304.4)" fill="#a8e0e0" stroke="#101810" stroke-opacity="0.4" stroke-width="0.7"/>
<ellipse cx="140.6" cy="311.4" rx="5.9" ry="3.4" transform="rotate(70 140.6 311.4)" fill="#ffffff" stroke="#101810" stroke-opacity="0.4" stroke-width="0.7"/>
<ellipse cx="97.4" cy="329.2" rx="5.4" ry="3.0" transform="rotate(92 97.4 329.2)" fill="#ffffff" stroke="#101810" stroke-opacity="0.4" stroke-width="0.7"/>
<ellipse cx="101.7" cy="309.5" rx="5.1" ry="3.7" transform="rotate(28 101.7 309.5)" fill="#ffffff" stroke="#101810" stroke-opacity="0.4" stroke-width="0.7"/>
<ellipse cx="124.1" cy="345.6" rx="5.5" ry="2.8" transform="rotate(113 124.1 345.6)" fill="#a8e0e0" stroke="#101810" stroke-opacity="0.4" stroke-width="0.7"/>
<ellipse cx="130.7" cy="314.1" rx="3.4" ry="3.9" transform="rotate(7 130.7 314.1)" fill="#68d860" stroke="#101810" stroke-opacity="0.4" stroke-width="0.7"/>
<ellipse cx="96.7" cy="331.7" rx="3.9" ry="2.4" transform="rotate(81 96.7 331.7)" fill="#2eae2e" stroke="#101810" stroke-opacity="0.4" stroke-width="0.7"/>
<ellipse cx="130.3" cy="326.8" rx="3.4" ry="3.7" transform="rotate(101 130.3 326.8)" fill="#44bb44" stroke="#101810" stroke-opacity="0.4" stroke-width="0.7"/>
<ellipse cx="135.1" cy="321.5" rx="3.4" ry="3.5" transform="rotate(79 135.1 321.5)" fill="#8a3418" stroke="#101810" stroke-opacity="0.4" stroke-width="0.7"/>
<ellipse cx="105.0" cy="346.1" rx="4.7" ry="3.4" transform="rotate(121 105.0 346.1)" fill="#ffffff" stroke="#101810" stroke-opacity="0.4" stroke-width="0.7"/>
<ellipse cx="101.0" cy="316.7" rx="3.4" ry="3.0" transform="rotate(147 101.0 316.7)" fill="#2eae2e" stroke="#101810" stroke-opacity="0.4" stroke-width="0.7"/>
<ellipse cx="124.8" cy="345.0" rx="4.1" ry="2.8" transform="rotate(157 124.8 345.0)" fill="#c0a820" stroke="#101810" stroke-opacity="0.4" stroke-width="0.7"/>
<ellipse cx="103.3" cy="341.9" rx="5.9" ry="3.3" transform="rotate(6 103.3 341.9)" fill="#8a3418" stroke="#101810" stroke-opacity="0.4" stroke-width="0.7"/>
<ellipse cx="106.4" cy="325.6" rx="3.5" ry="3.1" transform="rotate(37 106.4 325.6)" fill="#44bb44" stroke="#101810" stroke-opacity="0.4" stroke-width="0.7"/>
<ellipse cx="108.3" cy="330.6" rx="3.2" ry="3.5" transform="rotate(159 108.3 330.6)" fill="#52d052" stroke="#101810" stroke-opacity="0.4" stroke-width="0.7"/>
<ellipse cx="117.9" cy="321.8" rx="4.3" ry="3.6" transform="rotate(174 117.9 321.8)" fill="#2eae2e" stroke="#101810" stroke-opacity="0.4" stroke-width="0.7"/>
<ellipse cx="167.1" cy="292.6" rx="3.8" ry="2.7" transform="rotate(157 167.1 292.6)" fill="#d42222" stroke="#101810" stroke-opacity="0.4" stroke-width="0.7"/>
<ellipse cx="155.2" cy="286.2" rx="3.3" ry="2.5" transform="rotate(156 155.2 286.2)" fill="#c41a1a" stroke="#101810" stroke-opacity="0.4" stroke-width="0.7"/>
<ellipse cx="178.6" cy="286.6" rx="5.0" ry="2.7" transform="rotate(29 178.6 286.6)" fill="#e03030" stroke="#101810" stroke-opacity="0.4" stroke-width="0.7"/>
<ellipse cx="169.5" cy="291.7" rx="4.2" ry="3.9" transform="rotate(72 169.5 291.7)" fill="#a81212" stroke="#101810" stroke-opacity="0.4" stroke-width="0.7"/>
<ellipse cx="175.8" cy="296.0" rx="5.6" ry="3.3" transform="rotate(20 175.8 296.0)" fill="#a81212" stroke="#101810" stroke-opacity="0.4" stroke-width="0.7"/>
<ellipse cx="165.7" cy="294.8" rx="4.1" ry="2.5" transform="rotate(112 165.7 294.8)" fill="#d42222" stroke="#101810" stroke-opacity="0.4" stroke-width="0.7"/>
<ellipse cx="154.8" cy="289.7" rx="4.3" ry="3.6" transform="rotate(64 154.8 289.7)" fill="#d42222" stroke="#101810" stroke-opacity="0.4" stroke-width="0.7"/>
<ellipse cx="154.7" cy="301.6" rx="5.1" ry="2.5" transform="rotate(106 154.7 301.6)" fill="#30a0a0" stroke="#101810" stroke-opacity="0.4" stroke-width="0.7"/>
<ellipse cx="156.2" cy="302.0" rx="4.6" ry="3.0" transform="rotate(141 156.2 302.0)" fill="#c41a1a" stroke="#101810" stroke-opacity="0.4" stroke-width="0.7"/>
<ellipse cx="180.3" cy="299.7" rx="5.1" ry="2.8" transform="rotate(4 180.3 299.7)" fill="#a81212" stroke="#101810" stroke-opacity="0.4" stroke-width="0.7"/>
<ellipse cx="195.5" cy="298.3" rx="5.8" ry="2.5" transform="rotate(105 195.5 298.3)" fill="#e03030" stroke="#101810" stroke-opacity="0.4" stroke-width="0.7"/>
<ellipse cx="170.7" cy="294.6" rx="6.0" ry="3.3" transform="rotate(90 170.7 294.6)" fill="#30a0a0" stroke="#101810" stroke-opacity="0.4" stroke-width="0.7"/>
<ellipse cx="155.5" cy="295.1" rx="4.4" ry="2.7" transform="rotate(70 155.5 295.1)" fill="#c41a1a" stroke="#101810" stroke-opacity="0.4" stroke-width="0.7"/>
<ellipse cx="189.4" cy="298.8" rx="3.4" ry="3.9" transform="rotate(34 189.4 298.8)" fill="#e03030" stroke="#101810" stroke-opacity="0.4" stroke-width="0.7"/>
<ellipse cx="187.5" cy="302.9" rx="5.2" ry="2.7" transform="rotate(134 187.5 302.9)" fill="#e03030" stroke="#101810" stroke-opacity="0.4" stroke-width="0.7"/>
<ellipse cx="169.1" cy="295.5" rx="5.9" ry="3.4" transform="rotate(128 169.1 295.5)" fill="#c41a1a" stroke="#101810" stroke-opacity="0.4" stroke-width="0.7"/>
<ellipse cx="152.9" cy="287.9" rx="5.0" ry="2.8" transform="rotate(28 152.9 287.9)" fill="#d42222" stroke="#101810" stroke-opacity="0.4" stroke-width="0.7"/>
<ellipse cx="165.4" cy="297.0" rx="4.9" ry="3.1" transform="rotate(60 165.4 297.0)" fill="#a81212" stroke="#101810" stroke-opacity="0.4" stroke-width="0.7"/>
<ellipse cx="183.5" cy="298.4" rx="4.5" ry="3.1" transform="rotate(173 183.5 298.4)" fill="#e03030" stroke="#101810" stroke-opacity="0.4" stroke-width="0.7"/>
<ellipse cx="150.1" cy="298.0" rx="5.7" ry="3.8" transform="rotate(145 150.1 298.0)" fill="#d42222" stroke="#101810" stroke-opacity="0.4" stroke-width="0.7"/>
<ellipse cx="151.9" cy="302.9" rx="5.0" ry="3.5" transform="rotate(115 151.9 302.9)" fill="#d42222" stroke="#101810" stroke-opacity="0.4" stroke-width="0.7"/>
<ellipse cx="185.5" cy="296.2" rx="3.8" ry="3.5" transform="rotate(86 185.5 296.2)" fill="#c41a1a" stroke="#101810" stroke-opacity="0.4" stroke-width="0.7"/>
<ellipse cx="149.9" cy="287.8" rx="4.1" ry="3.6" transform="rotate(161 149.9 287.8)" fill="#d42222" stroke="#101810" stroke-opacity="0.4" stroke-width="0.7"/>
<ellipse cx="193.8" cy="290.7" rx="3.5" ry="3.6" transform="rotate(115 193.8 290.7)" fill="#e03030" stroke="#101810" stroke-opacity="0.4" stroke-width="0.7"/>
<ellipse cx="169.0" cy="287.7" rx="5.8" ry="3.8" transform="rotate(92 169.0 287.7)" fill="#c41a1a" stroke="#101810" stroke-opacity="0.4" stroke-width="0.7"/>
<ellipse cx="159.3" cy="287.5" rx="4.9" ry="3.9" transform="rotate(77 159.3 287.5)" fill="#30a0a0" stroke="#101810" stroke-opacity="0.4" stroke-width="0.7"/>
<ellipse cx="188.7" cy="301.6" rx="5.6" ry="3.5" transform="rotate(3 188.7 301.6)" fill="#e03030" stroke="#101810" stroke-opacity="0.4" stroke-width="0.7"/>
<ellipse cx="154.3" cy="292.6" rx="3.7" ry="4.0" transform="rotate(33 154.3 292.6)" fill="#a81212" stroke="#101810" stroke-opacity="0.4" stroke-width="0.7"/>
<ellipse cx="196.4" cy="290.2" rx="4.9" ry="3.1" transform="rotate(35 196.4 290.2)" fill="#d42222" stroke="#101810" stroke-opacity="0.4" stroke-width="0.7"/>
<ellipse cx="190.8" cy="287.1" rx="3.6" ry="2.9" transform="rotate(127 190.8 287.1)" fill="#c41a1a" stroke="#101810" stroke-opacity="0.4" stroke-width="0.7"/>
<ellipse cx="170.9" cy="289.3" rx="3.5" ry="3.9" transform="rotate(31 170.9 289.3)" fill="#c41a1a" stroke="#101810" stroke-opacity="0.4" stroke-width="0.7"/>
<ellipse cx="181.5" cy="298.4" rx="5.6" ry="3.4" transform="rotate(114 181.5 298.4)" fill="#ffffff" stroke="#101810" stroke-opacity="0.4" stroke-width="0.7"/>
<ellipse cx="164.4" cy="302.5" rx="5.9" ry="3.8" transform="rotate(164 164.4 302.5)" fill="#d42222" stroke="#101810" stroke-opacity="0.4" stroke-width="0.7"/>
<ellipse cx="190.9" cy="290.9" rx="3.9" ry="2.9" transform="rotate(176 190.9 290.9)" fill="#e03030" stroke="#101810" stroke-opacity="0.4" stroke-width="0.7"/>
<ellipse cx="184.4" cy="300.4" rx="4.1" ry="3.4" transform="rotate(46 184.4 300.4)" fill="#d42222" stroke="#101810" stroke-opacity="0.4" stroke-width="0.7"/>
<ellipse cx="185.2" cy="293.0" rx="4.5" ry="2.7" transform="rotate(125 185.2 293.0)" fill="#a81212" stroke="#101810" stroke-opacity="0.4" stroke-width="0.7"/>
<ellipse cx="167.2" cy="301.5" rx="3.4" ry="3.5" transform="rotate(60 167.2 301.5)" fill="#e03030" stroke="#101810" stroke-opacity="0.4" stroke-width="0.7"/>
<ellipse cx="197.8" cy="302.5" rx="5.0" ry="2.7" transform="rotate(142 197.8 302.5)" fill="#a81212" stroke="#101810" stroke-opacity="0.4" stroke-width="0.7"/>
<ellipse cx="148.0" cy="302.1" rx="3.2" ry="3.6" transform="rotate(157 148.0 302.1)" fill="#a81212" stroke="#101810" stroke-opacity="0.4" stroke-width="0.7"/>
<ellipse cx="185.6" cy="295.2" rx="5.8" ry="3.2" transform="rotate(45 185.6 295.2)" fill="#a81212" stroke="#101810" stroke-opacity="0.4" stroke-width="0.7"/>
<ellipse cx="152.3" cy="289.1" rx="5.1" ry="2.5" transform="rotate(67 152.3 289.1)" fill="#c41a1a" stroke="#101810" stroke-opacity="0.4" stroke-width="0.7"/>
<ellipse cx="143.7" cy="294.9" rx="5.1" ry="3.8" transform="rotate(142 143.7 294.9)" fill="#c41a1a" stroke="#101810" stroke-opacity="0.4" stroke-width="0.7"/>
<ellipse cx="195.9" cy="293.4" rx="4.3" ry="2.6" transform="rotate(75 195.9 293.4)" fill="#ffffff" stroke="#101810" stroke-opacity="0.4" stroke-width="0.7"/>
<ellipse cx="169.5" cy="300.8" rx="4.3" ry="4.0" transform="rotate(1 169.5 300.8)" fill="#c41a1a" stroke="#101810" stroke-opacity="0.4" stroke-width="0.7"/>
<ellipse cx="189.5" cy="287.8" rx="4.7" ry="2.9" transform="rotate(163 189.5 287.8)" fill="#ffffff" stroke="#101810" stroke-opacity="0.4" stroke-width="0.7"/>
<ellipse cx="185.9" cy="289.2" rx="4.1" ry="2.6" transform="rotate(38 185.9 289.2)" fill="#c41a1a" stroke="#101810" stroke-opacity="0.4" stroke-width="0.7"/>
<ellipse cx="193.6" cy="300.4" rx="4.8" ry="3.8" transform="rotate(173 193.6 300.4)" fill="#a81212" stroke="#101810" stroke-opacity="0.4" stroke-width="0.7"/>
<ellipse cx="154.9" cy="288.9" rx="4.0" ry="2.7" transform="rotate(48 154.9 288.9)" fill="#d42222" stroke="#101810" stroke-opacity="0.4" stroke-width="0.7"/>
<ellipse cx="197.5" cy="293.0" rx="3.8" ry="2.9" transform="rotate(68 197.5 293.0)" fill="#d42222" stroke="#101810" stroke-opacity="0.4" stroke-width="0.7"/>
<ellipse cx="171.0" cy="288.8" rx="4.9" ry="3.1" transform="rotate(65 171.0 288.8)" fill="#d42222" stroke="#101810" stroke-opacity="0.4" stroke-width="0.7"/>
<ellipse cx="159.4" cy="288.4" rx="5.7" ry="2.8" transform="rotate(151 159.4 288.4)" fill="#a81212" stroke="#101810" stroke-opacity="0.4" stroke-width="0.7"/>
<ellipse cx="48.2" cy="301.1" rx="5.1" ry="3.1" transform="rotate(27 48.2 301.1)" fill="#50c8c8" stroke="#101810" stroke-opacity="0.4" stroke-width="0.7"/>
<ellipse cx="89.0" cy="298.6" rx="4.6" ry="3.6" transform="rotate(25 89.0 298.6)" fill="#30b8b8" stroke="#101810" stroke-opacity="0.4" stroke-width="0.7"/>
<ellipse cx="54.7" cy="293.2" rx="5.0" ry="3.6" transform="rotate(49 54.7 293.2)" fill="#2aa0c8" stroke="#101810" stroke-opacity="0.4" stroke-width="0.7"/>
<ellipse cx="66.2" cy="296.0" rx="4.2" ry="3.7" transform="rotate(144 66.2 296.0)" fill="#1c80c0" stroke="#101810" stroke-opacity="0.4" stroke-width="0.7"/>
<ellipse cx="45.1" cy="295.5" rx="4.7" ry="3.5" transform="rotate(128 45.1 295.5)" fill="#30b8b8" stroke="#101810" stroke-opacity="0.4" stroke-width="0.7"/>
<ellipse cx="67.0" cy="303.2" rx="3.8" ry="2.4" transform="rotate(40 67.0 303.2)" fill="#2aa0c8" stroke="#101810" stroke-opacity="0.4" stroke-width="0.7"/>
<ellipse cx="75.7" cy="299.3" rx="4.0" ry="3.1" transform="rotate(165 75.7 299.3)" fill="#208a9a" stroke="#101810" stroke-opacity="0.4" stroke-width="0.7"/>
<ellipse cx="53.5" cy="281.2" rx="5.2" ry="2.6" transform="rotate(66 53.5 281.2)" fill="#c0a820" stroke="#101810" stroke-opacity="0.4" stroke-width="0.7"/>
<ellipse cx="88.8" cy="277.7" rx="4.5" ry="2.9" transform="rotate(121 88.8 277.7)" fill="#208a9a" stroke="#101810" stroke-opacity="0.4" stroke-width="0.7"/>
<ellipse cx="79.7" cy="285.2" rx="4.4" ry="3.1" transform="rotate(23 79.7 285.2)" fill="#ffffff" stroke="#101810" stroke-opacity="0.4" stroke-width="0.7"/>
<ellipse cx="63.8" cy="297.8" rx="4.4" ry="3.9" transform="rotate(144 63.8 297.8)" fill="#208a9a" stroke="#101810" stroke-opacity="0.4" stroke-width="0.7"/>
<ellipse cx="48.5" cy="277.0" rx="3.4" ry="3.7" transform="rotate(160 48.5 277.0)" fill="#ffffff" stroke="#101810" stroke-opacity="0.4" stroke-width="0.7"/>
<ellipse cx="44.4" cy="302.2" rx="3.9" ry="2.4" transform="rotate(28 44.4 302.2)" fill="#2438b0" stroke="#101810" stroke-opacity="0.4" stroke-width="0.7"/>
<ellipse cx="70.3" cy="277.1" rx="5.2" ry="2.8" transform="rotate(55 70.3 277.1)" fill="#c0a820" stroke="#101810" stroke-opacity="0.4" stroke-width="0.7"/>
<ellipse cx="99.3" cy="298.1" rx="5.3" ry="2.4" transform="rotate(87 99.3 298.1)" fill="#30b8b8" stroke="#101810" stroke-opacity="0.4" stroke-width="0.7"/>
<ellipse cx="54.9" cy="279.9" rx="5.3" ry="3.7" transform="rotate(116 54.9 279.9)" fill="#208a9a" stroke="#101810" stroke-opacity="0.4" stroke-width="0.7"/>
<ellipse cx="60.5" cy="289.0" rx="3.7" ry="3.5" transform="rotate(8 60.5 289.0)" fill="#2aa0c8" stroke="#101810" stroke-opacity="0.4" stroke-width="0.7"/>
<ellipse cx="49.9" cy="304.6" rx="4.8" ry="3.8" transform="rotate(32 49.9 304.6)" fill="#2438b0" stroke="#101810" stroke-opacity="0.4" stroke-width="0.7"/>
<ellipse cx="45.5" cy="285.3" rx="3.4" ry="3.8" transform="rotate(35 45.5 285.3)" fill="#208a9a" stroke="#101810" stroke-opacity="0.4" stroke-width="0.7"/>
<ellipse cx="79.1" cy="281.6" rx="4.0" ry="3.8" transform="rotate(126 79.1 281.6)" fill="#50c8c8" stroke="#101810" stroke-opacity="0.4" stroke-width="0.7"/>
<ellipse cx="84.2" cy="305.5" rx="3.5" ry="3.6" transform="rotate(131 84.2 305.5)" fill="#40c0a0" stroke="#101810" stroke-opacity="0.4" stroke-width="0.7"/>
<ellipse cx="69.8" cy="273.8" rx="5.5" ry="2.5" transform="rotate(28 69.8 273.8)" fill="#50c8c8" stroke="#101810" stroke-opacity="0.4" stroke-width="0.7"/>
<ellipse cx="97.1" cy="289.7" rx="5.6" ry="3.0" transform="rotate(143 97.1 289.7)" fill="#40c0a0" stroke="#101810" stroke-opacity="0.4" stroke-width="0.7"/>
<ellipse cx="78.1" cy="290.2" rx="4.6" ry="3.9" transform="rotate(138 78.1 290.2)" fill="#208a9a" stroke="#101810" stroke-opacity="0.4" stroke-width="0.7"/>
<ellipse cx="93.0" cy="286.3" rx="5.9" ry="3.2" transform="rotate(45 93.0 286.3)" fill="#2aa0c8" stroke="#101810" stroke-opacity="0.4" stroke-width="0.7"/>
<ellipse cx="77.1" cy="282.1" rx="3.6" ry="3.3" transform="rotate(49 77.1 282.1)" fill="#ffffff" stroke="#101810" stroke-opacity="0.4" stroke-width="0.7"/>
<ellipse cx="93.9" cy="301.4" rx="3.5" ry="3.2" transform="rotate(98 93.9 301.4)" fill="#50c8c8" stroke="#101810" stroke-opacity="0.4" stroke-width="0.7"/>
<ellipse cx="50.5" cy="307.9" rx="3.4" ry="2.7" transform="rotate(16 50.5 307.9)" fill="#50c8c8" stroke="#101810" stroke-opacity="0.4" stroke-width="0.7"/>
<ellipse cx="64.5" cy="298.5" rx="6.0" ry="2.8" transform="rotate(127 64.5 298.5)" fill="#208a9a" stroke="#101810" stroke-opacity="0.4" stroke-width="0.7"/>
<ellipse cx="47.3" cy="289.8" rx="3.5" ry="2.9" transform="rotate(71 47.3 289.8)" fill="#40c0a0" stroke="#101810" stroke-opacity="0.4" stroke-width="0.7"/>
<ellipse cx="89.5" cy="305.5" rx="5.7" ry="2.8" transform="rotate(127 89.5 305.5)" fill="#1c80c0" stroke="#101810" stroke-opacity="0.4" stroke-width="0.7"/>
<ellipse cx="79.7" cy="275.4" rx="3.7" ry="2.5" transform="rotate(177 79.7 275.4)" fill="#50c8c8" stroke="#101810" stroke-opacity="0.4" stroke-width="0.7"/>
<ellipse cx="81.2" cy="280.3" rx="3.5" ry="2.7" transform="rotate(134 81.2 280.3)" fill="#c0a820" stroke="#101810" stroke-opacity="0.4" stroke-width="0.7"/>
<ellipse cx="52.4" cy="300.0" rx="4.7" ry="2.8" transform="rotate(89 52.4 300.0)" fill="#ffffff" stroke="#101810" stroke-opacity="0.4" stroke-width="0.7"/>
<ellipse cx="96.8" cy="274.4" rx="4.2" ry="3.8" transform="rotate(100 96.8 274.4)" fill="#2aa0c8" stroke="#101810" stroke-opacity="0.4" stroke-width="0.7"/>
<ellipse cx="48.7" cy="289.2" rx="5.2" ry="3.8" transform="rotate(169 48.7 289.2)" fill="#2aa0c8" stroke="#101810" stroke-opacity="0.4" stroke-width="0.7"/>
<ellipse cx="74.8" cy="291.9" rx="5.0" ry="2.4" transform="rotate(64 74.8 291.9)" fill="#38c038" stroke="#101810" stroke-opacity="0.4" stroke-width="0.7"/>
<ellipse cx="81.3" cy="302.9" rx="5.0" ry="3.1" transform="rotate(147 81.3 302.9)" fill="#2aa0c8" stroke="#101810" stroke-opacity="0.4" stroke-width="0.7"/>
<ellipse cx="79.2" cy="281.3" rx="3.4" ry="3.1" transform="rotate(155 79.2 281.3)" fill="#1c80c0" stroke="#101810" stroke-opacity="0.4" stroke-width="0.7"/>
<ellipse cx="53.2" cy="275.1" rx="4.4" ry="3.4" transform="rotate(4 53.2 275.1)" fill="#40c0a0" stroke="#101810" stroke-opacity="0.4" stroke-width="0.7"/>
<ellipse cx="64.6" cy="278.2" rx="4.7" ry="3.5" transform="rotate(141 64.6 278.2)" fill="#1c80c0" stroke="#101810" stroke-opacity="0.4" stroke-width="0.7"/>
<ellipse cx="77.0" cy="305.7" rx="5.8" ry="2.4" transform="rotate(104 77.0 305.7)" fill="#40c0a0" stroke="#101810" stroke-opacity="0.4" stroke-width="0.7"/>
<ellipse cx="49.2" cy="308.3" rx="5.0" ry="3.7" transform="rotate(97 49.2 308.3)" fill="#208a9a" stroke="#101810" stroke-opacity="0.4" stroke-width="0.7"/>
<ellipse cx="61.9" cy="280.0" rx="3.8" ry="3.6" transform="rotate(94 61.9 280.0)" fill="#30b8b8" stroke="#101810" stroke-opacity="0.4" stroke-width="0.7"/>
<ellipse cx="57.9" cy="279.7" rx="4.5" ry="3.6" transform="rotate(52 57.9 279.7)" fill="#1c80c0" stroke="#101810" stroke-opacity="0.4" stroke-width="0.7"/>
<ellipse cx="93.5" cy="286.7" rx="3.3" ry="3.2" transform="rotate(169 93.5 286.7)" fill="#40c0a0" stroke="#101810" stroke-opacity="0.4" stroke-width="0.7"/>
<ellipse cx="97.8" cy="300.9" rx="4.0" ry="3.0" transform="rotate(134 97.8 300.9)" fill="#1c80c0" stroke="#101810" stroke-opacity="0.4" stroke-width="0.7"/>
<ellipse cx="64.0" cy="307.0" rx="4.3" ry="2.8" transform="rotate(99 64.0 307.0)" fill="#50c8c8" stroke="#101810" stroke-opacity="0.4" stroke-width="0.7"/>
<ellipse cx="94.8" cy="273.5" rx="4.5" ry="2.7" transform="rotate(90 94.8 273.5)" fill="#2aa0c8" stroke="#101810" stroke-opacity="0.4" stroke-width="0.7"/>
<ellipse cx="63.3" cy="296.4" rx="4.8" ry="4.0" transform="rotate(157 63.3 296.4)" fill="#2aa0c8" stroke="#101810" stroke-opacity="0.4" stroke-width="0.7"/>
<ellipse cx="95.0" cy="274.5" rx="5.6" ry="3.4" transform="rotate(147 95.0 274.5)" fill="#40c0a0" stroke="#101810" stroke-opacity="0.4" stroke-width="0.7"/>
<ellipse cx="80.1" cy="302.4" rx="3.7" ry="2.5" transform="rotate(178 80.1 302.4)" fill="#50c8c8" stroke="#101810" stroke-opacity="0.4" stroke-width="0.7"/>
<ellipse cx="52.5" cy="306.4" rx="3.3" ry="3.5" transform="rotate(21 52.5 306.4)" fill="#38c038" stroke="#101810" stroke-opacity="0.4" stroke-width="0.7"/>
<ellipse cx="96.9" cy="297.5" rx="5.7" ry="3.0" transform="rotate(6 96.9 297.5)" fill="#ffffff" stroke="#101810" stroke-opacity="0.4" stroke-width="0.7"/>
<ellipse cx="62.9" cy="291.5" rx="3.8" ry="2.5" transform="rotate(173 62.9 291.5)" fill="#208a9a" stroke="#101810" stroke-opacity="0.4" stroke-width="0.7"/>
<ellipse cx="63.9" cy="302.2" rx="5.2" ry="3.6" transform="rotate(41 63.9 302.2)" fill="#208a9a" stroke="#101810" stroke-opacity="0.4" stroke-width="0.7"/>
<ellipse cx="52.6" cy="274.7" rx="5.4" ry="3.4" transform="rotate(139 52.6 274.7)" fill="#40c0a0" stroke="#101810" stroke-opacity="0.4" stroke-width="0.7"/>
<ellipse cx="59.6" cy="283.0" rx="4.4" ry="2.9" transform="rotate(149 59.6 283.0)" fill="#2438b0" stroke="#101810" stroke-opacity="0.4" stroke-width="0.7"/>
<ellipse cx="83.0" cy="299.9" rx="5.4" ry="3.2" transform="rotate(59 83.0 299.9)" fill="#50c8c8" stroke="#101810" stroke-opacity="0.4" stroke-width="0.7"/>
<path d="M188.0,312.0 L168.0,347.0 L152.0,366.0" fill="none" stroke="#3cc03c" stroke-width="5" stroke-linecap="round"/>
<path d="M176.0,312.0 L156.0,344.0 L140.0,358.0" fill="none" stroke="#9a3418" stroke-width="3" stroke-linecap="round"/>
<path d="M90.0,356.0 L72.0,332.0 L58.0,300.0" fill="none" stroke="#2434a8" stroke-width="5" stroke-linecap="round"/>
<path d="M136.0,352.0 L110.0,356.0 L90.0,348.0" fill="none" stroke="#8a3418" stroke-width="3" stroke-linecap="round"/>
<ellipse cx="150.0" cy="340.0" rx="5.0" ry="2.6" transform="rotate(0 150.0 340.0)" fill="#c0a820" stroke="#101810" stroke-opacity="0.4" stroke-width="0.7"/>
<ellipse cx="149.2" cy="334.0" rx="5.0" ry="2.6" transform="rotate(0 149.2 334.0)" fill="#c0a820" stroke="#101810" stroke-opacity="0.4" stroke-width="0.7"/>
<ellipse cx="148.4" cy="328.0" rx="5.0" ry="2.6" transform="rotate(0 148.4 328.0)" fill="#c0a820" stroke="#101810" stroke-opacity="0.4" stroke-width="0.7"/>
<ellipse cx="147.6" cy="322.0" rx="5.0" ry="2.6" transform="rotate(0 147.6 322.0)" fill="#c0a820" stroke="#101810" stroke-opacity="0.4" stroke-width="0.7"/>
<ellipse cx="146.8" cy="316.0" rx="5.0" ry="2.6" transform="rotate(0 146.8 316.0)" fill="#c0a820" stroke="#101810" stroke-opacity="0.4" stroke-width="0.7"/>
<ellipse cx="192.0" cy="294.0" rx="4.4" ry="7.0" transform="rotate(0 192.0 294.0)" fill="#c81818" stroke="#101810" stroke-opacity="0.4" stroke-width="0.7"/>
<ellipse cx="183.0" cy="294.0" rx="4.4" ry="7.0" transform="rotate(0 183.0 294.0)" fill="#c81818" stroke="#101810" stroke-opacity="0.4" stroke-width="0.7"/>
<ellipse cx="174.0" cy="294.0" rx="4.4" ry="7.0" transform="rotate(0 174.0 294.0)" fill="#c81818" stroke="#101810" stroke-opacity="0.4" stroke-width="0.7"/>
<ellipse cx="165.0" cy="294.0" rx="4.4" ry="7.0" transform="rotate(0 165.0 294.0)" fill="#c81818" stroke="#101810" stroke-opacity="0.4" stroke-width="0.7"/>
<ellipse cx="156.0" cy="294.0" rx="4.4" ry="7.0" transform="rotate(0 156.0 294.0)" fill="#c81818" stroke="#101810" stroke-opacity="0.4" stroke-width="0.7"/>
<ellipse cx="147.0" cy="294.0" rx="4.4" ry="7.0" transform="rotate(0 147.0 294.0)" fill="#c81818" stroke="#101810" stroke-opacity="0.4" stroke-width="0.7"/>
<circle cx="120.0" cy="281.0" r="7.2" fill="#c41a1a" stroke="#6a1010" stroke-width="1.2"/><circle cx="120.0" cy="281.0" r="2.3" fill="#e0a0a0"/>
<circle cx="133.5" cy="281.0" r="7.2" fill="#c41a1a" stroke="#6a1010" stroke-width="1.2"/><circle cx="133.5" cy="281.0" r="2.3" fill="#e0a0a0"/>
<circle cx="126.8" cy="294.0" r="7.2" fill="#c41a1a" stroke="#6a1010" stroke-width="1.2"/><circle cx="126.8" cy="294.0" r="2.3" fill="#e0a0a0"/>
<circle cx="113.2" cy="294.0" r="7.2" fill="#c41a1a" stroke="#6a1010" stroke-width="1.2"/><circle cx="113.2" cy="294.0" r="2.3" fill="#e0a0a0"/>
<circle cx="106.5" cy="281.0" r="7.2" fill="#c41a1a" stroke="#6a1010" stroke-width="1.2"/><circle cx="106.5" cy="281.0" r="2.3" fill="#e0a0a0"/>
<circle cx="113.2" cy="268.0" r="7.2" fill="#c41a1a" stroke="#6a1010" stroke-width="1.2"/><circle cx="113.2" cy="268.0" r="2.3" fill="#e0a0a0"/>
<circle cx="126.8" cy="268.0" r="7.2" fill="#c41a1a" stroke="#6a1010" stroke-width="1.2"/><circle cx="126.8" cy="268.0" r="2.3" fill="#e0a0a0"/>
<ellipse cx="86.6" cy="254.7" rx="1.6" ry="1.6" fill="#ffffff" opacity="0.9"/>
<ellipse cx="193.0" cy="370.7" rx="1.6" ry="1.4" fill="#ffffff" opacity="0.9"/>
<ellipse cx="130.4" cy="251.8" rx="1.3" ry="1.2" fill="#ffffff" opacity="0.9"/>
<ellipse cx="175.2" cy="272.5" rx="1.3" ry="1.6" fill="#ffffff" opacity="0.9"/>
<ellipse cx="81.4" cy="353.1" rx="2.2" ry="1.0" fill="#ffffff" opacity="0.9"/>
<ellipse cx="92.3" cy="206.7" rx="1.6" ry="1.8" fill="#ffffff" opacity="0.9"/>
<ellipse cx="169.6" cy="351.3" rx="1.9" ry="1.6" fill="#ffffff" opacity="0.9"/>
<ellipse cx="131.0" cy="239.0" rx="2.5" ry="1.2" fill="#ffffff" opacity="0.9"/>
<ellipse cx="185.4" cy="228.3" rx="2.3" ry="1.5" fill="#ffffff" opacity="0.9"/>
<ellipse cx="52.3" cy="333.5" rx="2.0" ry="1.1" fill="#ffffff" opacity="0.9"/>
<ellipse cx="194.9" cy="346.4" rx="2.1" ry="1.1" fill="#ffffff" opacity="0.9"/>
<ellipse cx="176.9" cy="197.6" rx="2.5" ry="1.8" fill="#ffffff" opacity="0.9"/>
<ellipse cx="163.6" cy="356.2" rx="2.1" ry="1.4" fill="#ffffff" opacity="0.9"/>
<ellipse cx="109.6" cy="262.9" rx="1.9" ry="1.7" fill="#ffffff" opacity="0.9"/>
<ellipse cx="141.0" cy="278.8" rx="2.3" ry="1.0" fill="#ffffff" opacity="0.9"/>
<ellipse cx="180.9" cy="235.3" rx="1.6" ry="1.7" fill="#ffffff" opacity="0.9"/>
<ellipse cx="119.0" cy="254.8" rx="1.3" ry="1.7" fill="#ffffff" opacity="0.9"/>
<ellipse cx="115.7" cy="246.9" rx="1.8" ry="1.6" fill="#ffffff" opacity="0.9"/>
<ellipse cx="190.5" cy="304.7" rx="1.7" ry="1.1" fill="#ffffff" opacity="0.9"/>
<ellipse cx="87.6" cy="223.2" rx="1.5" ry="1.7" fill="#ffffff" opacity="0.9"/>
<ellipse cx="102.2" cy="248.1" rx="1.4" ry="1.7" fill="#ffffff" opacity="0.9"/>
<ellipse cx="179.3" cy="317.4" rx="1.6" ry="1.5" fill="#ffffff" opacity="0.9"/>
<ellipse cx="62.2" cy="242.3" rx="1.4" ry="1.5" fill="#ffffff" opacity="0.9"/>
<ellipse cx="146.3" cy="285.2" rx="2.3" ry="1.9" fill="#ffffff" opacity="0.9"/>
<ellipse cx="162.3" cy="267.5" rx="2.1" ry="1.6" fill="#ffffff" opacity="0.9"/>
<ellipse cx="149.2" cy="330.2" rx="2.4" ry="1.5" fill="#ffffff" opacity="0.9"/>
<ellipse cx="163.8" cy="272.2" rx="2.4" ry="1.4" fill="#ffffff" opacity="0.9"/>
<ellipse cx="172.7" cy="213.7" rx="2.5" ry="1.1" fill="#ffffff" opacity="0.9"/>
<ellipse cx="193.3" cy="326.5" rx="1.3" ry="1.3" fill="#ffffff" opacity="0.9"/>
<ellipse cx="85.5" cy="268.9" rx="1.5" ry="1.2" fill="#ffffff" opacity="0.9"/>
<ellipse cx="123.2" cy="322.3" rx="1.7" ry="1.1" fill="#ffffff" opacity="0.9"/>
<ellipse cx="52.5" cy="192.6" rx="2.6" ry="1.7" fill="#ffffff" opacity="0.9"/>
<ellipse cx="80.3" cy="352.8" rx="1.2" ry="1.9" fill="#ffffff" opacity="0.9"/>
<ellipse cx="48.8" cy="226.0" rx="1.3" ry="1.8" fill="#ffffff" opacity="0.9"/>
<ellipse cx="77.9" cy="262.3" rx="1.7" ry="1.6" fill="#ffffff" opacity="0.9"/>
<ellipse cx="167.4" cy="297.1" rx="1.4" ry="1.1" fill="#ffffff" opacity="0.9"/>
<ellipse cx="147.0" cy="270.7" rx="1.9" ry="1.1" fill="#ffffff" opacity="0.9"/>
<ellipse cx="82.1" cy="356.4" rx="2.5" ry="1.3" fill="#ffffff" opacity="0.9"/>
<ellipse cx="108.3" cy="352.6" rx="2.3" ry="1.3" fill="#ffffff" opacity="0.9"/>
<ellipse cx="151.2" cy="243.0" rx="1.4" ry="1.9" fill="#ffffff" opacity="0.9"/>
<ellipse cx="101.2" cy="365.2" rx="2.4" ry="1.5" fill="#ffffff" opacity="0.9"/>
<ellipse cx="182.5" cy="265.9" rx="1.9" ry="1.2" fill="#ffffff" opacity="0.9"/>
<ellipse cx="46.3" cy="267.6" rx="1.4" ry="1.4" fill="#ffffff" opacity="0.9"/>
<ellipse cx="117.9" cy="253.4" rx="2.3" ry="1.8" fill="#ffffff" opacity="0.9"/>
<ellipse cx="117.0" cy="288.1" rx="2.6" ry="1.5" fill="#ffffff" opacity="0.9"/>
<ellipse cx="113.3" cy="321.0" rx="1.2" ry="1.3" fill="#ffffff" opacity="0.9"/>
<ellipse cx="74.9" cy="282.9" rx="1.2" ry="1.8" fill="#ffffff" opacity="0.9"/>
<ellipse cx="159.9" cy="274.2" rx="2.5" ry="1.5" fill="#ffffff" opacity="0.9"/>
<ellipse cx="101.9" cy="208.4" rx="1.8" ry="1.4" fill="#ffffff" opacity="0.9"/>
<ellipse cx="152.5" cy="340.9" rx="1.4" ry="1.5" fill="#ffffff" opacity="0.9"/>
<ellipse cx="124.6" cy="261.4" rx="1.8" ry="2.0" fill="#ffffff" opacity="0.9"/>
<ellipse cx="104.2" cy="264.4" rx="2.0" ry="1.9" fill="#ffffff" opacity="0.9"/>
<ellipse cx="137.2" cy="368.6" rx="1.7" ry="1.8" fill="#ffffff" opacity="0.9"/>
<ellipse cx="168.7" cy="356.8" rx="2.6" ry="1.5" fill="#ffffff" opacity="0.9"/>
<ellipse cx="86.1" cy="287.0" rx="2.1" ry="1.1" fill="#ffffff" opacity="0.9"/>
<ellipse cx="150.8" cy="323.0" rx="1.6" ry="1.3" fill="#ffffff" opacity="0.9"/>
<ellipse cx="149.3" cy="190.9" rx="2.5" ry="1.7" fill="#ffffff" opacity="0.9"/>
<ellipse cx="122.5" cy="289.8" rx="1.7" ry="1.8" fill="#ffffff" opacity="0.9"/>
<ellipse cx="80.9" cy="315.1" rx="1.2" ry="1.0" fill="#ffffff" opacity="0.9"/>
<ellipse cx="183.3" cy="190.9" rx="1.3" ry="1.8" fill="#ffffff" opacity="0.9"/>
<ellipse cx="125.2" cy="215.3" rx="2.4" ry="1.1" fill="#ffffff" opacity="0.9"/>
<ellipse cx="112.7" cy="311.1" rx="2.3" ry="1.7" fill="#ffffff" opacity="0.9"/>
<ellipse cx="120.1" cy="212.4" rx="1.5" ry="1.6" fill="#ffffff" opacity="0.9"/>
<ellipse cx="121.2" cy="244.0" rx="2.6" ry="1.8" fill="#ffffff" opacity="0.9"/>
<ellipse cx="184.0" cy="230.3" rx="2.5" ry="2.0" fill="#ffffff" opacity="0.9"/>
<ellipse cx="124.7" cy="360.4" rx="2.6" ry="1.9" fill="#ffffff" opacity="0.9"/>
<ellipse cx="80.8" cy="228.0" rx="1.3" ry="1.9" fill="#ffffff" opacity="0.9"/>
<ellipse cx="65.8" cy="282.2" rx="1.2" ry="1.8" fill="#ffffff" opacity="0.9"/>
<ellipse cx="175.3" cy="356.5" rx="1.6" ry="1.2" fill="#ffffff" opacity="0.9"/>
<ellipse cx="150.1" cy="287.1" rx="1.4" ry="1.6" fill="#ffffff" opacity="0.9"/>
</g>
<g stroke="#b86098" stroke-width="2" opacity="0.75" filter="url(#blur1)"><path d="M64.5,185 L60.5,184 M64.5,185 L67.5,181 M64.5,185 L67.5,189"/></g>
<g stroke="#b86098" stroke-width="2" opacity="0.75" filter="url(#blur1)"><path d="M172.5,185 L176.5,184 M172.5,185 L169.5,181 M172.5,185 L169.5,189"/></g>
<g stroke="#b86098" stroke-width="2" opacity="0.75" filter="url(#blur1)"><path d="M64.5,378 L60.5,377 M64.5,378 L67.5,374 M64.5,378 L67.5,382"/></g>
<g stroke="#b86098" stroke-width="2" opacity="0.75" filter="url(#blur1)"><path d="M172.5,378 L176.5,377 M172.5,378 L169.5,374 M172.5,378 L169.5,382"/></g>
<circle cx="52" cy="156" r="3" fill="#4a7ad0"/>
<g filter="url(#blur1)">
<line x1="236" y1="86" x2="232.0" y2="82.0" stroke="#2f4fd6" stroke-width="3.1"/>
<line x1="232.0" y1="82.0" x2="228" y2="78" stroke="#bcbcbc" stroke-width="3.1"/>
<line x1="236" y1="86" x2="241.0" y2="84.5" stroke="#2f4fd6" stroke-width="3.1"/>
<line x1="241.0" y1="84.5" x2="246" y2="83" stroke="#bcbcbc" stroke-width="3.1"/>
<line x1="236" y1="86" x2="235.75" y2="92.0" stroke="#2f4fd6" stroke-width="3.1"/>
<line x1="235.75" y1="92.0" x2="235.5" y2="98" stroke="#7a7a7a" stroke-width="3.1"/>
<line x1="235.5" y1="98" x2="228.25" y2="100.0" stroke="#7a7a7a" stroke-width="3.1"/>
<line x1="228.25" y1="100.0" x2="221" y2="102" stroke="#2f4fd6" stroke-width="3.1"/>
<line x1="221" y1="102" x2="220.5" y2="108.75" stroke="#2f4fd6" stroke-width="3.1"/>
<line x1="220.5" y1="108.75" x2="220" y2="115.5" stroke="#7a7a7a" stroke-width="3.1"/>
<line x1="220" y1="115.5" x2="214.8" y2="116.25" stroke="#7a7a7a" stroke-width="3.1"/>
<line x1="214.8" y1="116.25" x2="209.6" y2="117" stroke="#bcbcbc" stroke-width="3.1"/>
<line x1="220" y1="115.5" x2="225.5" y2="120.25" stroke="#7a7a7a" stroke-width="3.1"/>
<line x1="225.5" y1="120.25" x2="231" y2="125" stroke="#2f4fd6" stroke-width="3.1"/>
<line x1="231" y1="125" x2="237.0" y2="123.0" stroke="#2f4fd6" stroke-width="3.1"/>
<line x1="237.0" y1="123.0" x2="243" y2="121" stroke="#7a7a7a" stroke-width="3.1"/>
<line x1="243" y1="121" x2="244.0" y2="114.85" stroke="#7a7a7a" stroke-width="3.1"/>
<line x1="244.0" y1="114.85" x2="245" y2="108.7" stroke="#7a7a7a" stroke-width="3.1"/>
<line x1="245" y1="108.7" x2="240.25" y2="103.35" stroke="#7a7a7a" stroke-width="3.1"/>
<line x1="240.25" y1="103.35" x2="235.5" y2="98" stroke="#7a7a7a" stroke-width="3.1"/>
<line x1="245" y1="108.7" x2="252.0" y2="108.7" stroke="#7a7a7a" stroke-width="3.1"/>
<line x1="252.0" y1="108.7" x2="259" y2="108.7" stroke="#2f4fd6" stroke-width="3.1"/>
<line x1="259" y1="108.7" x2="263.0" y2="114.85" stroke="#2f4fd6" stroke-width="3.1"/>
<line x1="263.0" y1="114.85" x2="267" y2="121" stroke="#7a7a7a" stroke-width="3.1"/>
<line x1="267" y1="121" x2="271.5" y2="123.0" stroke="#7a7a7a" stroke-width="3.1"/>
<line x1="271.5" y1="123.0" x2="276" y2="125" stroke="#bcbcbc" stroke-width="3.1"/>
<line x1="267" y1="121" x2="261.5" y2="125.5" stroke="#7a7a7a" stroke-width="3.1"/>
<line x1="261.5" y1="125.5" x2="256" y2="130" stroke="#2f4fd6" stroke-width="3.1"/>
<line x1="256" y1="130" x2="249.5" y2="125.5" stroke="#2f4fd6" stroke-width="3.1"/>
<line x1="249.5" y1="125.5" x2="243" y2="121" stroke="#7a7a7a" stroke-width="3.1"/>
<line x1="256" y1="130" x2="256.5" y2="137.5" stroke="#2f4fd6" stroke-width="3.1"/>
<line x1="256.5" y1="137.5" x2="257" y2="145" stroke="#7a7a7a" stroke-width="3.1"/>
<line x1="257" y1="145" x2="265.0" y2="146.0" stroke="#7a7a7a" stroke-width="3.1"/>
<line x1="265.0" y1="146.0" x2="273" y2="147" stroke="#d01818" stroke-width="3.1"/>
<line x1="273" y1="147" x2="275.0" y2="155.0" stroke="#d01818" stroke-width="3.1"/>
<line x1="275.0" y1="155.0" x2="277" y2="163" stroke="#7a7a7a" stroke-width="3.1"/>
<line x1="277" y1="163" x2="271.5" y2="166.0" stroke="#7a7a7a" stroke-width="3.1"/>
<line x1="271.5" y1="166.0" x2="266" y2="169" stroke="#7a7a7a" stroke-width="3.1"/>
<line x1="266" y1="169" x2="260.5" y2="164.0" stroke="#7a7a7a" stroke-width="3.1"/>
<line x1="260.5" y1="164.0" x2="255" y2="159" stroke="#7a7a7a" stroke-width="3.1"/>
<line x1="255" y1="159" x2="256.0" y2="152.0" stroke="#7a7a7a" stroke-width="3.1"/>
<line x1="256.0" y1="152.0" x2="257" y2="145" stroke="#7a7a7a" stroke-width="3.1"/>
<line x1="255" y1="159" x2="248.0" y2="160.25" stroke="#7a7a7a" stroke-width="3.1"/>
<line x1="248.0" y1="160.25" x2="241" y2="161.5" stroke="#d01818" stroke-width="3.1"/>
<line x1="241" y1="161.5" x2="239.5" y2="165.25" stroke="#d01818" stroke-width="3.1"/>
<line x1="239.5" y1="165.25" x2="238" y2="169" stroke="#bcbcbc" stroke-width="3.1"/>
<line x1="266" y1="169" x2="263.5" y2="173.5" stroke="#7a7a7a" stroke-width="3.1"/>
<line x1="263.5" y1="173.5" x2="261" y2="178" stroke="#d01818" stroke-width="3.1"/>
<line x1="261" y1="178" x2="257.0" y2="180.5" stroke="#d01818" stroke-width="3.1"/>
<line x1="257.0" y1="180.5" x2="253" y2="183" stroke="#bcbcbc" stroke-width="3.1"/>
<line x1="277" y1="163" x2="284.0" y2="162.5" stroke="#7a7a7a" stroke-width="3.1"/>
<line x1="284.0" y1="162.5" x2="291" y2="162" stroke="#7a7a7a" stroke-width="3.1"/>
<line x1="291" y1="162" x2="292.0" y2="170.0" stroke="#7a7a7a" stroke-width="3.1"/>
<line x1="292.0" y1="170.0" x2="293" y2="178" stroke="#bcbcbc" stroke-width="3.1"/>
<line x1="291" y1="162" x2="296.5" y2="161.3" stroke="#7a7a7a" stroke-width="3.1"/>
<line x1="296.5" y1="161.3" x2="302" y2="160.6" stroke="#d01818" stroke-width="3.1"/>
<line x1="302" y1="160.6" x2="309.75" y2="161.8" stroke="#d01818" stroke-width="3.1"/>
<line x1="309.75" y1="161.8" x2="317.5" y2="163" stroke="#e08a1e" stroke-width="3.1"/>
<line x1="317.5" y1="163" x2="318.75" y2="159.5" stroke="#e08a1e" stroke-width="3.1"/>
<line x1="318.75" y1="159.5" x2="320" y2="156" stroke="#d01818" stroke-width="3.1"/>
<line x1="320" y1="156" x2="319.5" y2="152.0" stroke="#d01818" stroke-width="3.1"/>
<line x1="319.5" y1="152.0" x2="319" y2="148" stroke="#bcbcbc" stroke-width="3.1"/>
<line x1="317.5" y1="163" x2="317.75" y2="171.25" stroke="#e08a1e" stroke-width="3.1"/>
<line x1="317.75" y1="171.25" x2="318" y2="179.5" stroke="#d01818" stroke-width="3.1"/>
<line x1="317.5" y1="163" x2="324.25" y2="160.9" stroke="#e08a1e" stroke-width="3.1"/>
<line x1="324.25" y1="160.9" x2="331" y2="158.8" stroke="#d01818" stroke-width="3.1"/>
<line x1="331" y1="158.8" x2="338.0" y2="160.9" stroke="#d01818" stroke-width="3.1"/>
<line x1="338.0" y1="160.9" x2="345" y2="163" stroke="#e08a1e" stroke-width="3.1"/>
<line x1="345" y1="163" x2="346.0" y2="159.5" stroke="#e08a1e" stroke-width="3.1"/>
<line x1="346.0" y1="159.5" x2="347" y2="156" stroke="#d01818" stroke-width="3.1"/>
<line x1="345" y1="163" x2="345.5" y2="172.0" stroke="#e08a1e" stroke-width="3.1"/>
<line x1="345.5" y1="172.0" x2="346" y2="181" stroke="#d01818" stroke-width="3.1"/>
<line x1="345" y1="163" x2="352.5" y2="160.9" stroke="#e08a1e" stroke-width="3.1"/>
<line x1="352.5" y1="160.9" x2="360" y2="158.8" stroke="#d01818" stroke-width="3.1"/>
<line x1="360" y1="158.8" x2="366.25" y2="160.9" stroke="#d01818" stroke-width="3.1"/>
<line x1="366.25" y1="160.9" x2="372.5" y2="163" stroke="#e08a1e" stroke-width="3.1"/>
<line x1="372.5" y1="163" x2="373.25" y2="159.5" stroke="#e08a1e" stroke-width="3.1"/>
<line x1="373.25" y1="159.5" x2="374" y2="156" stroke="#d01818" stroke-width="3.1"/>
<line x1="372.5" y1="163" x2="372.75" y2="171.5" stroke="#e08a1e" stroke-width="3.1"/>
<line x1="372.75" y1="171.5" x2="373" y2="180" stroke="#d01818" stroke-width="3.1"/>
<line x1="372.5" y1="163" x2="379.75" y2="160.9" stroke="#e08a1e" stroke-width="3.1"/>
<line x1="379.75" y1="160.9" x2="387" y2="158.8" stroke="#d01818" stroke-width="3.1"/>
<line x1="387" y1="158.8" x2="391.5" y2="160.15" stroke="#d01818" stroke-width="3.1"/>
<line x1="391.5" y1="160.15" x2="396" y2="161.5" stroke="#bcbcbc" stroke-width="3.1"/>
<circle cx="236" cy="86" r="3.63" fill="#2f4fd6"/><circle cx="236" cy="86" r="3.63" fill="url(#ball)"/>
<circle cx="228" cy="78" r="2.64" fill="#d8d8d8"/><circle cx="228" cy="78" r="2.64" fill="url(#ball)"/>
<circle cx="246" cy="83" r="2.64" fill="#d8d8d8"/><circle cx="246" cy="83" r="2.64" fill="url(#ball)"/>
<circle cx="235.5" cy="98" r="3.19" fill="#6e6e6e"/><circle cx="235.5" cy="98" r="3.19" fill="url(#ball)"/>
<circle cx="221" cy="102" r="3.63" fill="#2f4fd6"/><circle cx="221" cy="102" r="3.63" fill="url(#ball)"/>
<circle cx="220" cy="115.5" r="3.19" fill="#6e6e6e"/><circle cx="220" cy="115.5" r="3.19" fill="url(#ball)"/>
<circle cx="209.6" cy="117" r="2.64" fill="#d8d8d8"/><circle cx="209.6" cy="117" r="2.64" fill="url(#ball)"/>
<circle cx="231" cy="125" r="3.63" fill="#2f4fd6"/><circle cx="231" cy="125" r="3.63" fill="url(#ball)"/>
<circle cx="243" cy="121" r="3.19" fill="#6e6e6e"/><circle cx="243" cy="121" r="3.19" fill="url(#ball)"/>
<circle cx="245" cy="108.7" r="3.19" fill="#6e6e6e"/><circle cx="245" cy="108.7" r="3.19" fill="url(#ball)"/>
<circle cx="259" cy="108.7" r="3.63" fill="#2f4fd6"/><circle cx="259" cy="108.7" r="3.63" fill="url(#ball)"/>
<circle cx="267" cy="121" r="3.19" fill="#6e6e6e"/><circle cx="267" cy="121" r="3.19" fill="url(#ball)"/>
<circle cx="276" cy="125" r="2.64" fill="#d8d8d8"/><circle cx="276" cy="125" r="2.64" fill="url(#ball)"/>
<circle cx="256" cy="130" r="3.63" fill="#2f4fd6"/><circle cx="256" cy="130" r="3.63" fill="url(#ball)"/>
<circle cx="257" cy="145" r="3.19" fill="#6e6e6e"/><circle cx="257" cy="145" r="3.19" fill="url(#ball)"/>
<circle cx="273" cy="147" r="3.8500000000000005" fill="#d01818"/><circle cx="273" cy="147" r="3.8500000000000005" fill="url(#ball)"/>
<circle cx="277" cy="163" r="3.19" fill="#6e6e6e"/><circle cx="277" cy="163" r="3.19" fill="url(#ball)"/>
<circle cx="266" cy="169" r="3.19" fill="#6e6e6e"/><circle cx="266" cy="169" r="3.19" fill="url(#ball)"/>
<circle cx="255" cy="159" r="3.19" fill="#6e6e6e"/><circle cx="255" cy="159" r="3.19" fill="url(#ball)"/>
<circle cx="241" cy="161.5" r="3.8500000000000005" fill="#d01818"/><circle cx="241" cy="161.5" r="3.8500000000000005" fill="url(#ball)"/>
<circle cx="238" cy="169" r="2.64" fill="#d8d8d8"/><circle cx="238" cy="169" r="2.64" fill="url(#ball)"/>
<circle cx="261" cy="178" r="3.8500000000000005" fill="#d01818"/><circle cx="261" cy="178" r="3.8500000000000005" fill="url(#ball)"/>
<circle cx="253" cy="183" r="2.64" fill="#d8d8d8"/><circle cx="253" cy="183" r="2.64" fill="url(#ball)"/>
<circle cx="291" cy="162" r="3.19" fill="#6e6e6e"/><circle cx="291" cy="162" r="3.19" fill="url(#ball)"/>
<circle cx="293" cy="178" r="2.64" fill="#d8d8d8"/><circle cx="293" cy="178" r="2.64" fill="url(#ball)"/>
<circle cx="302" cy="160.6" r="3.8500000000000005" fill="#d01818"/><circle cx="302" cy="160.6" r="3.8500000000000005" fill="url(#ball)"/>
<circle cx="317.5" cy="163" r="3.63" fill="#e08a1e"/><circle cx="317.5" cy="163" r="3.63" fill="url(#ball)"/>
<circle cx="320" cy="156" r="3.8500000000000005" fill="#d01818"/><circle cx="320" cy="156" r="3.8500000000000005" fill="url(#ball)"/>
<circle cx="319" cy="148" r="2.64" fill="#d8d8d8"/><circle cx="319" cy="148" r="2.64" fill="url(#ball)"/>
<circle cx="318" cy="179.5" r="3.8500000000000005" fill="#d01818"/><circle cx="318" cy="179.5" r="3.8500000000000005" fill="url(#ball)"/>
<circle cx="331" cy="158.8" r="3.8500000000000005" fill="#d01818"/><circle cx="331" cy="158.8" r="3.8500000000000005" fill="url(#ball)"/>
<circle cx="345" cy="163" r="3.63" fill="#e08a1e"/><circle cx="345" cy="163" r="3.63" fill="url(#ball)"/>
<circle cx="347" cy="156" r="3.8500000000000005" fill="#d01818"/><circle cx="347" cy="156" r="3.8500000000000005" fill="url(#ball)"/>
<circle cx="346" cy="181" r="3.8500000000000005" fill="#d01818"/><circle cx="346" cy="181" r="3.8500000000000005" fill="url(#ball)"/>
<circle cx="360" cy="158.8" r="3.8500000000000005" fill="#d01818"/><circle cx="360" cy="158.8" r="3.8500000000000005" fill="url(#ball)"/>
<circle cx="372.5" cy="163" r="3.63" fill="#e08a1e"/><circle cx="372.5" cy="163" r="3.63" fill="url(#ball)"/>
<circle cx="374" cy="156" r="3.8500000000000005" fill="#d01818"/><circle cx="374" cy="156" r="3.8500000000000005" fill="url(#ball)"/>
<circle cx="373" cy="180" r="3.8500000000000005" fill="#d01818"/><circle cx="373" cy="180" r="3.8500000000000005" fill="url(#ball)"/>
<circle cx="387" cy="158.8" r="3.8500000000000005" fill="#d01818"/><circle cx="387" cy="158.8" r="3.8500000000000005" fill="url(#ball)"/>
<circle cx="396" cy="161.5" r="2.64" fill="#d8d8d8"/><circle cx="396" cy="161.5" r="2.64" fill="url(#ball)"/>
</g>
<g filter="url(#blur1)">
<line x1="265" y1="257.7" x2="275.5" y2="259.6" stroke="#9a9a9a" stroke-width="5"/>
<line x1="275.5" y1="259.6" x2="286" y2="261.5" stroke="#9a9a9a" stroke-width="5"/>
<line x1="286" y1="261.5" x2="288.0" y2="270.75" stroke="#9a9a9a" stroke-width="5"/>
<line x1="288.0" y1="270.75" x2="290" y2="280" stroke="#9a9a9a" stroke-width="5"/>
<line x1="290" y1="280" x2="282.35" y2="287.75" stroke="#9a9a9a" stroke-width="5"/>
<line x1="282.35" y1="287.75" x2="274.7" y2="295.5" stroke="#9a9a9a" stroke-width="5"/>
<line x1="274.7" y1="295.5" x2="265.25" y2="292.75" stroke="#9a9a9a" stroke-width="5"/>
<line x1="265.25" y1="292.75" x2="255.8" y2="290" stroke="#9a9a9a" stroke-width="5"/>
<line x1="255.8" y1="290" x2="254.9" y2="279.5" stroke="#9a9a9a" stroke-width="5"/>
<line x1="254.9" y1="279.5" x2="254" y2="269" stroke="#9a9a9a" stroke-width="5"/>
<line x1="254" y1="269" x2="259.5" y2="263.35" stroke="#9a9a9a" stroke-width="5"/>
<line x1="259.5" y1="263.35" x2="265" y2="257.7" stroke="#9a9a9a" stroke-width="5"/>
<line x1="265" y1="257.7" x2="264.0" y2="251.1" stroke="#9a9a9a" stroke-width="5"/>
<line x1="264.0" y1="251.1" x2="263" y2="244.5" stroke="#bcbcbc" stroke-width="5"/>
<line x1="254" y1="269" x2="248.3" y2="267.5" stroke="#9a9a9a" stroke-width="5"/>
<line x1="248.3" y1="267.5" x2="242.6" y2="266" stroke="#bcbcbc" stroke-width="5"/>
<line x1="255.8" y1="290" x2="252.4" y2="293.5" stroke="#9a9a9a" stroke-width="5"/>
<line x1="252.4" y1="293.5" x2="249" y2="297" stroke="#bcbcbc" stroke-width="5"/>
<line x1="274.7" y1="295.5" x2="275.15" y2="300.75" stroke="#9a9a9a" stroke-width="5"/>
<line x1="275.15" y1="300.75" x2="275.6" y2="306" stroke="#bcbcbc" stroke-width="5"/>
<line x1="286" y1="261.5" x2="290.75" y2="257.75" stroke="#9a9a9a" stroke-width="5"/>
<line x1="290.75" y1="257.75" x2="295.5" y2="254" stroke="#2f4fd6" stroke-width="5"/>
<line x1="295.5" y1="254" x2="296.25" y2="248.3" stroke="#2f4fd6" stroke-width="5"/>
<line x1="296.25" y1="248.3" x2="297" y2="242.6" stroke="#bcbcbc" stroke-width="5"/>
<line x1="295.5" y1="254" x2="302.1" y2="259.5" stroke="#2f4fd6" stroke-width="5"/>
<line x1="302.1" y1="259.5" x2="308.7" y2="265" stroke="#9a9a9a" stroke-width="5"/>
<line x1="308.7" y1="265" x2="313.35" y2="263.7" stroke="#9a9a9a" stroke-width="5"/>
<line x1="313.35" y1="263.7" x2="318" y2="262.4" stroke="#bcbcbc" stroke-width="5"/>
<line x1="308.7" y1="265" x2="306.85" y2="273.5" stroke="#9a9a9a" stroke-width="5"/>
<line x1="306.85" y1="273.5" x2="305" y2="282" stroke="#9a9a9a" stroke-width="5"/>
<line x1="305" y1="282" x2="297.5" y2="281.0" stroke="#9a9a9a" stroke-width="5"/>
<line x1="297.5" y1="281.0" x2="290" y2="280" stroke="#9a9a9a" stroke-width="5"/>
<line x1="305" y1="282" x2="309.5" y2="288.75" stroke="#9a9a9a" stroke-width="5"/>
<line x1="309.5" y1="288.75" x2="314" y2="295.5" stroke="#9a9a9a" stroke-width="5"/>
<line x1="314" y1="295.5" x2="308.0" y2="301.15" stroke="#9a9a9a" stroke-width="5"/>
<line x1="308.0" y1="301.15" x2="302" y2="306.8" stroke="#bcbcbc" stroke-width="5"/>
<line x1="314" y1="295.5" x2="318.9" y2="299.25" stroke="#9a9a9a" stroke-width="5"/>
<line x1="318.9" y1="299.25" x2="323.8" y2="303" stroke="#9a9a9a" stroke-width="5"/>
<line x1="323.8" y1="303" x2="328.4" y2="296.0" stroke="#9a9a9a" stroke-width="5"/>
<line x1="328.4" y1="296.0" x2="333" y2="289" stroke="#2f4fd6" stroke-width="5"/>
<line x1="333" y1="289" x2="331.25" y2="283.75" stroke="#2f4fd6" stroke-width="5"/>
<line x1="331.25" y1="283.75" x2="329.5" y2="278.5" stroke="#bcbcbc" stroke-width="5"/>
<line x1="333" y1="289" x2="337.0" y2="287.5" stroke="#2f4fd6" stroke-width="5"/>
<line x1="337.0" y1="287.5" x2="341" y2="286" stroke="#bcbcbc" stroke-width="5"/>
<line x1="323.8" y1="303" x2="327.6" y2="310.5" stroke="#9a9a9a" stroke-width="5"/>
<line x1="327.6" y1="310.5" x2="331.4" y2="318" stroke="#9a9a9a" stroke-width="5"/>
<line x1="331.4" y1="318" x2="338.0" y2="317.0" stroke="#9a9a9a" stroke-width="5"/>
<line x1="338.0" y1="317.0" x2="344.6" y2="316" stroke="#d01818" stroke-width="5"/>
<line x1="331.4" y1="318" x2="327.6" y2="324.7" stroke="#9a9a9a" stroke-width="5"/>
<line x1="327.6" y1="324.7" x2="323.8" y2="331.4" stroke="#d01818" stroke-width="5"/>
<line x1="323.8" y1="331.4" x2="327.6" y2="337.04999999999995" stroke="#d01818" stroke-width="5"/>
<line x1="327.6" y1="337.04999999999995" x2="331.4" y2="342.7" stroke="#bcbcbc" stroke-width="5"/>
<circle cx="265" cy="257.7" r="4.205" fill="#8c8c8c"/><circle cx="265" cy="257.7" r="4.205" fill="url(#ball)"/>
<circle cx="286" cy="261.5" r="4.205" fill="#8c8c8c"/><circle cx="286" cy="261.5" r="4.205" fill="url(#ball)"/>
<circle cx="290" cy="280" r="4.205" fill="#8c8c8c"/><circle cx="290" cy="280" r="4.205" fill="url(#ball)"/>
<circle cx="274.7" cy="295.5" r="4.205" fill="#8c8c8c"/><circle cx="274.7" cy="295.5" r="4.205" fill="url(#ball)"/>
<circle cx="255.8" cy="290" r="4.205" fill="#8c8c8c"/><circle cx="255.8" cy="290" r="4.205" fill="url(#ball)"/>
<circle cx="254" cy="269" r="4.205" fill="#8c8c8c"/><circle cx="254" cy="269" r="4.205" fill="url(#ball)"/>
<circle cx="263" cy="244.5" r="3.48" fill="#d8d8d8"/><circle cx="263" cy="244.5" r="3.48" fill="url(#ball)"/>
<circle cx="242.6" cy="266" r="3.48" fill="#d8d8d8"/><circle cx="242.6" cy="266" r="3.48" fill="url(#ball)"/>
<circle cx="249" cy="297" r="3.48" fill="#d8d8d8"/><circle cx="249" cy="297" r="3.48" fill="url(#ball)"/>
<circle cx="275.6" cy="306" r="3.48" fill="#d8d8d8"/><circle cx="275.6" cy="306" r="3.48" fill="url(#ball)"/>
<circle cx="295.5" cy="254" r="4.784999999999999" fill="#2f4fd6"/><circle cx="295.5" cy="254" r="4.784999999999999" fill="url(#ball)"/>
<circle cx="297" cy="242.6" r="3.48" fill="#d8d8d8"/><circle cx="297" cy="242.6" r="3.48" fill="url(#ball)"/>
<circle cx="308.7" cy="265" r="4.205" fill="#8c8c8c"/><circle cx="308.7" cy="265" r="4.205" fill="url(#ball)"/>
<circle cx="318" cy="262.4" r="3.48" fill="#d8d8d8"/><circle cx="318" cy="262.4" r="3.48" fill="url(#ball)"/>
<circle cx="305" cy="282" r="4.205" fill="#8c8c8c"/><circle cx="305" cy="282" r="4.205" fill="url(#ball)"/>
<circle cx="314" cy="295.5" r="4.205" fill="#8c8c8c"/><circle cx="314" cy="295.5" r="4.205" fill="url(#ball)"/>
<circle cx="302" cy="306.8" r="3.48" fill="#d8d8d8"/><circle cx="302" cy="306.8" r="3.48" fill="url(#ball)"/>
<circle cx="323.8" cy="303" r="4.205" fill="#8c8c8c"/><circle cx="323.8" cy="303" r="4.205" fill="url(#ball)"/>
<circle cx="333" cy="289" r="4.784999999999999" fill="#2f4fd6"/><circle cx="333" cy="289" r="4.784999999999999" fill="url(#ball)"/>
<circle cx="329.5" cy="278.5" r="3.48" fill="#d8d8d8"/><circle cx="329.5" cy="278.5" r="3.48" fill="url(#ball)"/>
<circle cx="341" cy="286" r="3.48" fill="#d8d8d8"/><circle cx="341" cy="286" r="3.48" fill="url(#ball)"/>
<circle cx="331.4" cy="318" r="4.205" fill="#8c8c8c"/><circle cx="331.4" cy="318" r="4.205" fill="url(#ball)"/>
<circle cx="344.6" cy="316" r="5.075" fill="#d01818"/><circle cx="344.6" cy="316" r="5.075" fill="url(#ball)"/>
<circle cx="323.8" cy="331.4" r="5.075" fill="#d01818"/><circle cx="323.8" cy="331.4" r="5.075" fill="url(#ball)"/>
<circle cx="331.4" cy="342.7" r="3.48" fill="#d8d8d8"/><circle cx="331.4" cy="342.7" r="3.48" fill="url(#ball)"/>
</g>
<g filter="url(#blur1)">
<line x1="305.8" y1="417.7" x2="316.9" y2="406.2" stroke="#7a7a7a" stroke-width="7.5"/>
<line x1="316.9" y1="406.2" x2="328" y2="394.7" stroke="#2f4fd6" stroke-width="7.5"/>
<line x1="328" y1="394.7" x2="325.0" y2="385.65" stroke="#2f4fd6" stroke-width="7.5"/>
<line x1="325.0" y1="385.65" x2="322" y2="376.6" stroke="#bcbcbc" stroke-width="7.5"/>
<line x1="328" y1="394.7" x2="339.0" y2="397.15" stroke="#2f4fd6" stroke-width="7.5"/>
<line x1="339.0" y1="397.15" x2="350" y2="399.6" stroke="#bcbcbc" stroke-width="7.5"/>
<line x1="305.8" y1="417.7" x2="290.9" y2="415.25" stroke="#7a7a7a" stroke-width="7.5"/>
<line x1="290.9" y1="415.25" x2="276" y2="412.8" stroke="#2f4fd6" stroke-width="7.5"/>
<line x1="276" y1="412.8" x2="272.0" y2="402.9" stroke="#2f4fd6" stroke-width="7.5"/>
<line x1="272.0" y1="402.9" x2="268" y2="393" stroke="#bcbcbc" stroke-width="7.5"/>
<line x1="276" y1="412.8" x2="268.3" y2="421.8" stroke="#2f4fd6" stroke-width="7.5"/>
<line x1="268.3" y1="421.8" x2="260.6" y2="430.8" stroke="#bcbcbc" stroke-width="7.5"/>
<line x1="305.8" y1="417.7" x2="310.70000000000005" y2="431.65" stroke="#7a7a7a" stroke-width="7.5"/>
<line x1="310.70000000000005" y1="431.65" x2="315.6" y2="445.6" stroke="#2f4fd6" stroke-width="7.5"/>
<line x1="315.6" y1="445.6" x2="309.05" y2="455.45000000000005" stroke="#2f4fd6" stroke-width="7.5"/>
<line x1="309.05" y1="455.45000000000005" x2="302.5" y2="465.3" stroke="#bcbcbc" stroke-width="7.5"/>
<circle cx="305.8" cy="417.7" r="7.5" fill="#6e6e6e"/><circle cx="305.8" cy="417.7" r="7.5" fill="url(#ball)"/>
<circle cx="328" cy="394.7" r="8.2" fill="#2f4fd6"/><circle cx="328" cy="394.7" r="8.2" fill="url(#ball)"/>
<circle cx="322" cy="376.6" r="5.0" fill="#d8d8d8"/><circle cx="322" cy="376.6" r="5.0" fill="url(#ball)"/>
<circle cx="350" cy="399.6" r="5.0" fill="#d8d8d8"/><circle cx="350" cy="399.6" r="5.0" fill="url(#ball)"/>
<circle cx="276" cy="412.8" r="8.2" fill="#2f4fd6"/><circle cx="276" cy="412.8" r="8.2" fill="url(#ball)"/>
<circle cx="268" cy="393" r="5.0" fill="#d8d8d8"/><circle cx="268" cy="393" r="5.0" fill="url(#ball)"/>
<circle cx="260.6" cy="430.8" r="5.0" fill="#d8d8d8"/><circle cx="260.6" cy="430.8" r="5.0" fill="url(#ball)"/>
<circle cx="315.6" cy="445.6" r="8.2" fill="#2f4fd6"/><circle cx="315.6" cy="445.6" r="8.2" fill="url(#ball)"/>
<circle cx="302.5" cy="465.3" r="5.0" fill="#d8d8d8"/><circle cx="302.5" cy="465.3" r="5.0" fill="url(#ball)"/>
</g>
<g filter="url(#blur1)">
<line x1="483" y1="141.5" x2="493" y2="155.5" stroke="#858585" stroke-width="2.4" stroke-linecap="round"/>
<line x1="493" y1="155.5" x2="483.7" y2="169.5" stroke="#858585" stroke-width="2.4" stroke-linecap="round"/>
<line x1="483.7" y1="169.5" x2="467" y2="163" stroke="#858585" stroke-width="2.4" stroke-linecap="round"/>
<line x1="467" y1="163" x2="467" y2="147" stroke="#858585" stroke-width="2.4" stroke-linecap="round"/>
<line x1="467" y1="147" x2="483" y2="141.5" stroke="#858585" stroke-width="2.4" stroke-linecap="round"/>
<line x1="467" y1="147" x2="451.5" y2="138" stroke="#858585" stroke-width="2.4" stroke-linecap="round"/>
<line x1="451.5" y1="138" x2="439.7" y2="150" stroke="#858585" stroke-width="2.4" stroke-linecap="round"/>
<line x1="439.7" y1="150" x2="438.3" y2="164" stroke="#858585" stroke-width="2.4" stroke-linecap="round"/>
<line x1="438.3" y1="164" x2="451.5" y2="171" stroke="#858585" stroke-width="2.4" stroke-linecap="round"/>
<line x1="451.5" y1="171" x2="467" y2="163" stroke="#858585" stroke-width="2.4" stroke-linecap="round"/>
<line x1="451.5" y1="171" x2="451.5" y2="188.3" stroke="#858585" stroke-width="2.4" stroke-linecap="round"/>
<line x1="483" y1="141.5" x2="489.7" y2="124" stroke="#858585" stroke-width="2.4" stroke-linecap="round"/>
<line x1="489.7" y1="124" x2="504" y2="120" stroke="#858585" stroke-width="2.4" stroke-linecap="round"/>
<line x1="504" y1="120" x2="505.4" y2="100.5" stroke="#858585" stroke-width="2.4" stroke-linecap="round"/>
<line x1="505.4" y1="100.5" x2="487" y2="96.5" stroke="#858585" stroke-width="2.4" stroke-linecap="round"/>
<line x1="487" y1="96.5" x2="480.5" y2="109.7" stroke="#858585" stroke-width="2.4" stroke-linecap="round"/>
<line x1="480.5" y1="109.7" x2="489.7" y2="124" stroke="#858585" stroke-width="2.4" stroke-linecap="round"/>
<path d="M486.5,93 L485.5,89.5 M477,110.5 L472.5,111" stroke="#e05070" stroke-width="2.2"/>
<line x1="520" y1="94" x2="533" y2="100" stroke="#e8c8c8" stroke-width="1.2" stroke-linecap="round"/>
<line x1="533" y1="100" x2="547.5" y2="88.4" stroke="#e8c8c8" stroke-width="1.2" stroke-linecap="round"/>
<line x1="547.5" y1="88.4" x2="536.5" y2="75.7" stroke="#e8c8c8" stroke-width="1.2" stroke-linecap="round"/>
<line x1="547.5" y1="88.4" x2="557.3" y2="103.4" stroke="#e8c8c8" stroke-width="1.2" stroke-linecap="round"/>
<line x1="547.5" y1="88.4" x2="560.7" y2="79.2" stroke="#e8c8c8" stroke-width="1.2" stroke-linecap="round"/>
<line x1="560.7" y1="79.2" x2="576.3" y2="86.1" stroke="#e8c8c8" stroke-width="1.2" stroke-linecap="round"/>
<line x1="576.3" y1="86.1" x2="583.8" y2="71.1" stroke="#e8c8c8" stroke-width="1.2" stroke-linecap="round"/>
<line x1="576.3" y1="86.1" x2="569.4" y2="102.2" stroke="#e8c8c8" stroke-width="1.2" stroke-linecap="round"/>
<line x1="569.4" y1="102.2" x2="605" y2="83.8" stroke="#e8c8c8" stroke-width="1.2" stroke-linecap="round"/>
<line x1="605" y1="83.8" x2="595.9" y2="70" stroke="#e8c8c8" stroke-width="1.2" stroke-linecap="round"/>
<line x1="605" y1="83.8" x2="591.8" y2="93.6" stroke="#e8c8c8" stroke-width="1.2" stroke-linecap="round"/>
<line x1="605" y1="83.8" x2="619.5" y2="73.4" stroke="#e8c8c8" stroke-width="1.2" stroke-linecap="round"/>
<line x1="605" y1="83.8" x2="616" y2="97" stroke="#e8c8c8" stroke-width="1.2" stroke-linecap="round"/>
<path d="M505.4,100.5 L521,91 L523,96 Z" fill="#111"/>
<path d="M489.7,124 L480.5,138 L485.5,140 Z" fill="#303088"/>
<circle cx="504" cy="120" r="4.90" fill="#e8607c"/><circle cx="504" cy="120" r="2.06" fill="#f2a4b4"/>
<circle cx="483" cy="80.7" r="4.90" fill="#e8607c"/><circle cx="483" cy="80.7" r="2.06" fill="#f2a4b4"/>
<circle cx="460.7" cy="111" r="4.90" fill="#e8607c"/><circle cx="460.7" cy="111" r="2.06" fill="#f2a4b4"/>
<circle cx="533" cy="100" r="4.90" fill="#e8607c"/><circle cx="533" cy="100" r="2.06" fill="#f2a4b4"/>
<circle cx="536.5" cy="75.7" r="4.90" fill="#e8607c"/><circle cx="536.5" cy="75.7" r="2.06" fill="#f2a4b4"/>
<circle cx="557.3" cy="103.4" r="4.90" fill="#e8607c"/><circle cx="557.3" cy="103.4" r="2.06" fill="#f2a4b4"/>
<circle cx="560.7" cy="79.2" r="4.90" fill="#e8607c"/><circle cx="560.7" cy="79.2" r="2.06" fill="#f2a4b4"/>
<circle cx="583.8" cy="71.1" r="4.90" fill="#e8607c"/><circle cx="583.8" cy="71.1" r="2.06" fill="#f2a4b4"/>
<circle cx="569.4" cy="102.2" r="4.90" fill="#e8607c"/><circle cx="569.4" cy="102.2" r="2.06" fill="#f2a4b4"/>
<circle cx="595.9" cy="70" r="4.90" fill="#e8607c"/><circle cx="595.9" cy="70" r="2.06" fill="#f2a4b4"/>
<circle cx="591.8" cy="93.6" r="4.90" fill="#e8607c"/><circle cx="591.8" cy="93.6" r="2.06" fill="#f2a4b4"/>
<circle cx="619.5" cy="73.4" r="4.90" fill="#e8607c"/><circle cx="619.5" cy="73.4" r="2.06" fill="#f2a4b4"/>
<circle cx="616" cy="97" r="4.90" fill="#e8607c"/><circle cx="616" cy="97" r="2.06" fill="#f2a4b4"/>
<circle cx="483" cy="141.5" r="4.8" fill="#f8f8f8"/>
<text x="483" y="145.20000000000002" font-size="10.5" font-weight="bold" fill="#2e2eb0" text-anchor="middle">N</text>
<circle cx="483.7" cy="169.5" r="4.8" fill="#f8f8f8"/>
<text x="483.7" y="173.20000000000002" font-size="10.5" font-weight="bold" fill="#2e2eb0" text-anchor="middle">N</text>
<circle cx="451.5" cy="138" r="4.8" fill="#f8f8f8"/>
<text x="451.5" y="141.70000000000002" font-size="10.5" font-weight="bold" fill="#2e2eb0" text-anchor="middle">N</text>
<circle cx="438.3" cy="164" r="4.8" fill="#f8f8f8"/>
<text x="438.3" y="167.70000000000002" font-size="10.5" font-weight="bold" fill="#2e2eb0" text-anchor="middle">N</text>
<circle cx="451.5" cy="188.3" r="4.8" fill="#f8f8f8"/>
<text x="451.5" y="192.00000000000003" font-size="10.5" font-weight="bold" fill="#2e2eb0" text-anchor="middle">N</text>
<path d="M442.5,152 L449,142.5 M440.5,157 L438.5,162 M455,168.5 L464.5,162.5 M489.5,158 L485,166" stroke="#8a8a8a" stroke-width="2" fill="none"/>
<text x="491" y="76.30000000000001" font-size="8.5" font-weight="bold" fill="#6a9890" text-anchor="middle">H</text>
<text x="454" y="105.2" font-size="8.5" font-weight="bold" fill="#6a9890" text-anchor="middle">H</text>
<text x="553.2" y="116.0" font-size="8.5" font-weight="bold" fill="#6a9890" text-anchor="middle">H</text>
<text x="578.6" y="65.3" font-size="8.5" font-weight="bold" fill="#6a9890" text-anchor="middle">H</text>
<text x="630.4" y="81.4" font-size="8.5" font-weight="bold" fill="#6a9890" text-anchor="middle">H</text>
<text x="612" y="110.2" font-size="8.5" font-weight="bold" fill="#6a9890" text-anchor="middle">H</text>
<text x="441.8" y="198.70000000000002" font-size="8.5" font-weight="bold" fill="#6a9890" text-anchor="middle">H</text>
<text x="462" y="198.70000000000002" font-size="8.5" font-weight="bold" fill="#6a9890" text-anchor="middle">H</text>
<circle cx="547.5" cy="88.4" r="3.6" fill="#e0a848"/>
<circle cx="576.3" cy="86.1" r="3.6" fill="#e0a848"/>
<circle cx="605" cy="83.8" r="3.6" fill="#e0a848"/>
</g>
<g filter="url(#blur1)">
<line x1="536" y1="222.3" x2="551.6" y2="237.7" stroke="#9a9a9a" stroke-width="3.6" stroke-linecap="round"/>
<line x1="573" y1="233.6" x2="551.6" y2="237.7" stroke="#9a9a9a" stroke-width="3.6" stroke-linecap="round"/>
<line x1="551.6" y1="237.7" x2="545.5" y2="258.2" stroke="#9a9a9a" stroke-width="3.6" stroke-linecap="round"/>
<line x1="545.5" y1="258.2" x2="524" y2="264.4" stroke="#9a9a9a" stroke-width="3.6" stroke-linecap="round"/>
<line x1="524" y1="264.4" x2="517.7" y2="286" stroke="#9a9a9a" stroke-width="3.6" stroke-linecap="round"/>
<line x1="517.7" y1="286" x2="530" y2="302.4" stroke="#9a9a9a" stroke-width="3.6" stroke-linecap="round"/>
<line x1="530" y1="302.4" x2="518.8" y2="318.8" stroke="#9a9a9a" stroke-width="3.6" stroke-linecap="round"/>
<line x1="518.8" y1="318.8" x2="497.2" y2="314.7" stroke="#9a9a9a" stroke-width="3.6" stroke-linecap="round"/>
<line x1="497.2" y1="314.7" x2="497.2" y2="290" stroke="#9a9a9a" stroke-width="3.6" stroke-linecap="round"/>
<line x1="497.2" y1="290" x2="517.7" y2="286" stroke="#9a9a9a" stroke-width="3.6" stroke-linecap="round"/>
<line x1="497.2" y1="290" x2="478.7" y2="279.8" stroke="#9a9a9a" stroke-width="3.6" stroke-linecap="round"/>
<line x1="478.7" y1="279.8" x2="460.3" y2="290" stroke="#9a9a9a" stroke-width="3.6" stroke-linecap="round"/>
<line x1="460.3" y1="290" x2="459.2" y2="312.6" stroke="#9a9a9a" stroke-width="3.6" stroke-linecap="round"/>
<line x1="459.2" y1="312.6" x2="478.7" y2="323" stroke="#9a9a9a" stroke-width="3.6" stroke-linecap="round"/>
<line x1="478.7" y1="323" x2="497.2" y2="314.7" stroke="#9a9a9a" stroke-width="3.6" stroke-linecap="round"/>
<line x1="503.5" y1="292.5" x2="513" y2="287.5" stroke="#8c8c8c" stroke-width="0" stroke-linecap="round"/>
<line x1="482" y1="285" x2="465" y2="294" stroke="#8e8e8e" stroke-width="2.6"/>
<line x1="463" y1="310" x2="477" y2="318.5" stroke="#8e8e8e" stroke-width="2.6"/>
<line x1="520" y1="291" x2="528" y2="302" stroke="#8e8e8e" stroke-width="2.6"/>
<path d="M545.5,258.2 L555,276 L560.5,271 Z" fill="#2a2a80"/>
<circle cx="536" cy="222.3" r="4.40" fill="#e8607c"/><circle cx="536" cy="222.3" r="1.85" fill="#f2a4b4"/>
<circle cx="573" cy="233.6" r="4.40" fill="#e8607c"/><circle cx="573" cy="233.6" r="1.85" fill="#f2a4b4"/>
<circle cx="558.8" cy="273.6" r="4.5" fill="#efefef"/>
<text x="558.8" y="277.0" font-size="10" font-weight="bold" fill="#3434b4" text-anchor="middle">N</text>
<circle cx="518.8" cy="318.8" r="4.8" fill="#efefef"/>
<text x="518.8" y="322.2" font-size="10" font-weight="bold" fill="#3434b4" text-anchor="middle">N</text>
<text x="577" y="224.70000000000002" font-size="9" font-weight="bold" fill="#86aaa4" text-anchor="middle">H</text>
<text x="573" y="276.0" font-size="9" font-weight="bold" fill="#86aaa4" text-anchor="middle">H</text>
<text x="555.7" y="291.4" font-size="9" font-weight="bold" fill="#86aaa4" text-anchor="middle">H</text>
<text x="521.9" y="334.4" font-size="9" font-weight="bold" fill="#86aaa4" text-anchor="middle">H</text>
</g>
<g filter="url(#blur1)">
<line x1="490" y1="408" x2="508.4" y2="417.6" stroke="#9a9aa8" stroke-width="2.6"/>
<line x1="526" y1="408" x2="508.4" y2="417.6" stroke="#9a9aa8" stroke-width="2.6"/>
<line x1="506" y1="418" x2="506" y2="439" stroke="#a0a0aa" stroke-width="2.2"/>
<line x1="510.5" y1="418" x2="510.5" y2="439" stroke="#a0a0aa" stroke-width="2.2"/>
<text x="484.5" y="407.9" font-size="11" font-weight="bold" fill="#3434b4" text-anchor="middle">N</text>
<text x="531.4" y="407.9" font-size="11" font-weight="bold" fill="#3434b4" text-anchor="middle">N</text>
<text x="507.5" y="448.9" font-size="11" font-weight="bold" fill="#3434b4" text-anchor="middle">N</text>
<text x="484.5" y="389.79999999999995" font-size="10.5" font-weight="bold" fill="#86aaa4" text-anchor="middle">H</text>
<text x="469.8" y="416.9" font-size="10.5" font-weight="bold" fill="#86aaa4" text-anchor="middle">H</text>
<text x="531.4" y="389.79999999999995" font-size="10.5" font-weight="bold" fill="#86aaa4" text-anchor="middle">H</text>
<text x="546" y="416.9" font-size="10.5" font-weight="bold" fill="#86aaa4" text-anchor="middle">H</text>
<text x="493.6" y="457.09999999999997" font-size="10.5" font-weight="bold" fill="#86aaa4" text-anchor="middle">H</text>
</g>
</svg>
</body></html>
